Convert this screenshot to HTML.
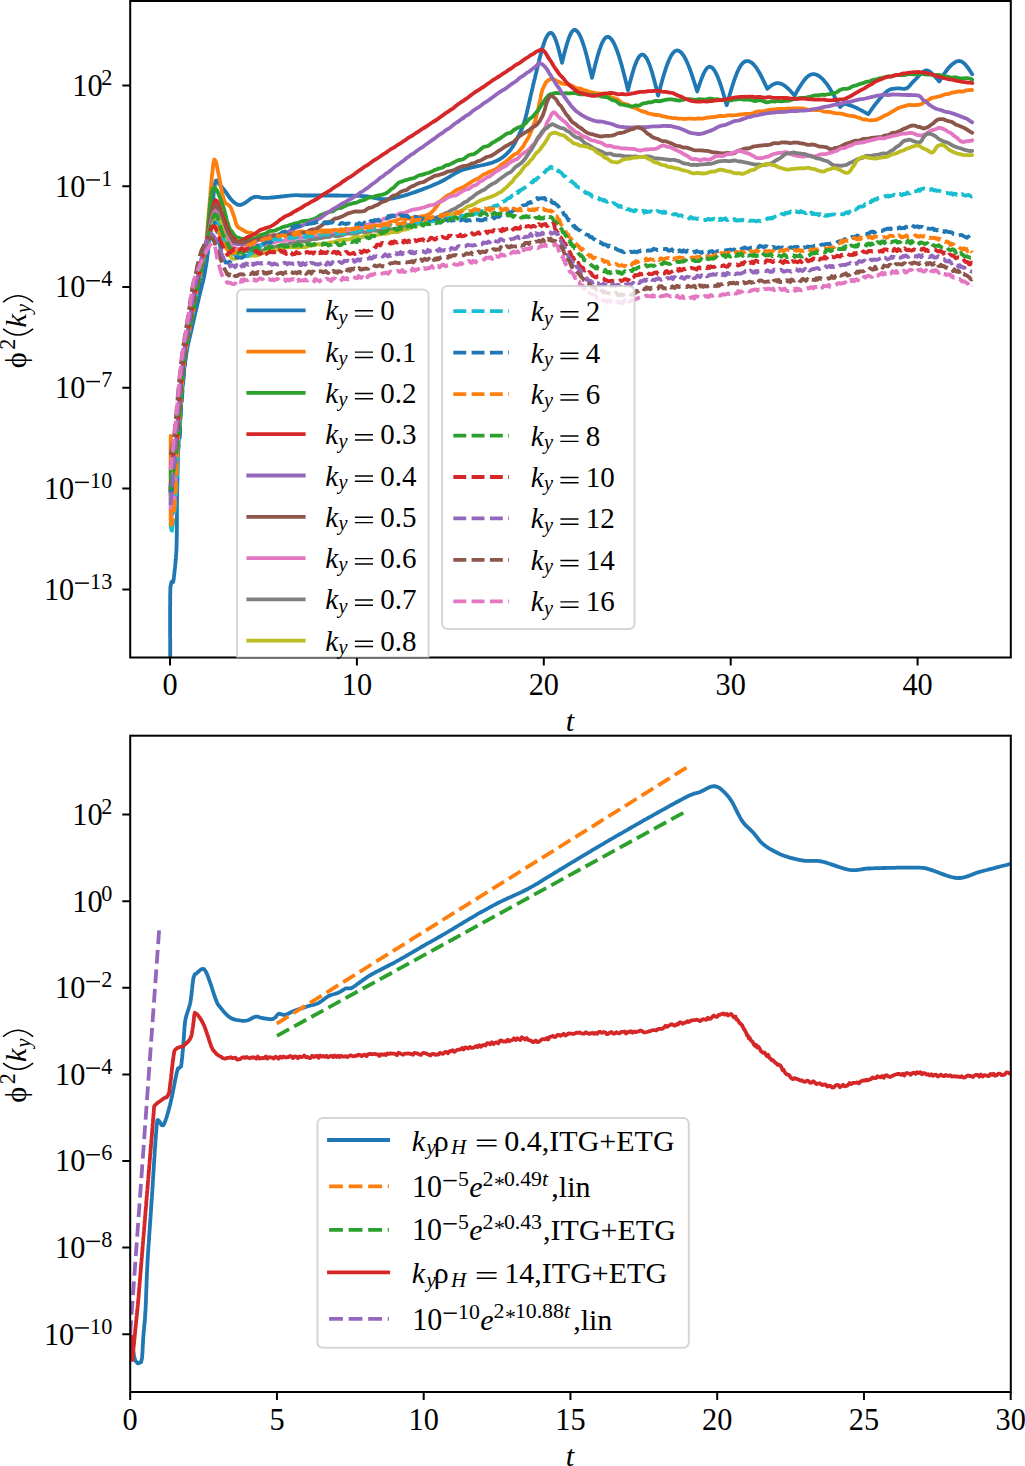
<!DOCTYPE html><html><head><meta charset="utf-8"><style>html,body{margin:0;padding:0;background:#fff;overflow:hidden;}svg{display:block;font-family:"Liberation Serif",serif;}</style></head><body><svg width="1025" height="1466" viewBox="0 0 1025 1466" font-family="Liberation Serif, serif" fill="#000">
<rect x="0" y="0" width="1025" height="1466" fill="#fff"/>
<defs>
<clipPath id="ct"><rect x="130.2" y="1.0" width="880.5999999999999" height="656.5"/></clipPath>
<clipPath id="cb"><rect x="130.2" y="735.7" width="880.5999999999999" height="656.3"/></clipPath>
</defs>
<g clip-path="url(#ct)">
<polyline points="170.2,660.0 170.2,658.9 170.2,657.7 170.2,656.3 170.2,654.7 170.2,653.1 170.2,651.3 170.2,649.4 170.2,647.4 170.2,645.3 170.2,643.1 170.2,640.9 170.2,638.6 170.1,636.2 170.1,633.8 170.1,631.3 170.1,628.8 170.1,626.3 170.1,623.8 170.1,621.3 170.1,618.8 170.1,616.3 170.1,613.8 170.1,611.4 170.1,609.0 170.1,606.7 170.2,604.4 170.2,602.2 170.2,600.1 170.2,598.0 170.2,596.1 170.2,594.2 170.3,592.5 170.3,590.9 170.3,589.5 170.4,588.2 170.4,587.0 171.6,581.6 173.2,582.0 173.4,580.7 173.7,579.1 173.9,577.4 174.1,575.4 174.4,573.3 174.6,571.2 174.8,568.9 175.1,566.7 175.3,564.4 175.5,562.2 175.7,560.0 175.9,557.9 176.0,556.0 176.2,553.9 176.3,551.9 176.4,550.0 176.5,548.2 176.5,546.4 176.6,544.6 176.6,542.7 176.7,540.8 176.7,538.7 176.8,536.4 176.8,534.0 176.8,532.4 176.8,530.7 176.9,529.1 176.9,527.4 176.9,525.7 176.9,523.9 176.9,522.2 176.9,520.3 176.9,518.4 176.9,516.5 176.9,514.4 176.9,512.3 176.9,510.0 176.9,507.7 176.9,505.3 177.0,502.7 177.0,500.0 177.0,498.4 177.1,496.7 177.1,494.9 177.1,493.0 177.2,491.0 177.2,489.0 177.3,486.9 177.3,484.8 177.4,482.7 177.4,480.4 177.5,478.2 177.5,476.0 177.6,473.7 177.6,471.4 177.7,469.1 177.7,466.9 177.8,464.6 177.8,462.4 177.9,460.2 178.0,458.0 178.0,455.9 178.1,453.8 178.1,451.8 178.2,449.9 178.2,448.0 178.3,446.2 178.3,444.5 178.4,442.9 178.4,441.4 178.5,440.0 178.6,436.5 178.8,433.8 178.9,431.7 179.0,430.1 179.2,428.8 179.3,427.5 179.4,426.2 179.6,424.6 179.8,422.6 180.0,420.0 180.1,418.4 180.2,416.8 180.4,415.0 180.5,413.1 180.6,411.2 180.8,409.2 180.9,407.1 181.0,405.0 181.2,402.8 181.3,400.6 181.5,398.4 181.7,396.2 181.8,394.1 182.0,391.9 182.1,389.8 182.3,387.7 182.5,385.6 182.7,383.7 182.8,381.8 183.0,380.0 183.2,377.7 183.5,375.4 183.7,373.2 184.0,371.0 184.2,368.9 184.5,366.8 184.8,364.8 185.0,362.8 185.3,360.8 185.6,358.9 185.9,357.0 186.2,355.2 186.4,353.4 186.7,351.7 187.0,350.0 187.4,347.6 187.9,345.4 188.3,343.3 188.8,341.3 189.2,339.4 189.7,337.5 190.1,335.7 190.6,333.8 191.0,332.0 191.5,330.0 191.9,328.0 192.4,326.0 192.8,324.0 193.3,322.0 193.7,320.0 194.2,318.0 194.6,316.0 195.1,314.0 195.5,312.0 196.0,310.0 196.5,308.0 197.0,305.9 197.5,303.8 198.0,301.8 198.5,299.7 199.0,297.6 199.4,295.6 199.9,293.7 200.4,291.8 200.8,290.0 201.4,287.7 201.9,285.6 202.4,283.7 202.9,281.9 203.4,279.9 203.9,277.6 204.4,275.0 204.7,273.3 205.0,271.6 205.3,269.9 205.6,268.1 205.9,266.3 206.3,264.4 206.6,262.3 206.9,260.2 207.2,257.9 207.5,255.4 207.9,252.8 208.2,250.0 208.4,248.3 208.6,246.6 208.8,244.7 209.0,242.8 209.2,240.7 209.4,238.6 209.6,236.4 209.8,234.2 210.0,232.0 210.2,229.7 210.4,227.5 210.6,225.2 210.8,222.9 211.0,220.7 211.2,218.5 211.4,216.3 211.6,214.2 211.8,212.2 212.0,210.2 212.1,208.4 212.3,206.6 212.5,205.0 212.8,202.2 213.1,199.4 213.4,196.8 213.6,194.3 213.9,192.0 214.2,189.8 214.4,187.8 214.7,186.0 214.9,184.3 215.2,182.9 215.4,181.7 215.7,180.7 217.2,180.5 219.0,184.0 220.1,185.2 221.4,186.6 222.8,188.2 224.3,190.0 225.6,191.8 227.0,193.8 228.4,196.0 229.9,198.0 231.3,199.7 233.1,201.5 234.9,203.0 236.7,204.2 238.4,204.9 240.4,205.0 242.2,204.4 244.5,203.2 246.2,202.1 248.0,200.7 250.0,199.2 252.0,197.9 254.2,197.0 255.9,196.8 257.6,196.9 259.3,197.2 261.3,197.6 263.6,197.9 266.5,197.9 268.1,197.8 269.9,197.7 272.0,197.5 274.1,197.3 276.4,197.0 278.7,196.8 281.0,196.5 283.3,196.3 285.5,196.0 287.6,195.8 289.5,195.6 291.3,195.4 292.8,195.3 295.9,195.2 297.3,195.2 298.9,195.4 302.4,195.5 303.9,195.5 305.5,195.5 307.3,195.5 309.2,195.5 311.2,195.5 313.4,195.5 315.6,195.5 317.8,195.5 320.1,195.5 322.5,195.5 324.8,195.5 327.1,195.5 329.4,195.5 331.6,195.5 333.7,195.5 335.8,195.5 338.0,195.5 340.1,195.6 342.3,195.6 344.6,195.6 346.8,195.6 349.0,195.6 351.1,195.7 353.3,195.7 355.4,195.8 357.5,195.8 359.4,195.9 361.3,196.0 363.2,196.1 364.9,196.2 367.5,196.5 369.9,196.8 372.1,197.3 374.1,197.8 376.0,198.2 377.9,198.6 379.8,199.0 381.8,199.2 384.0,199.2 385.8,199.1 387.7,199.0 389.5,198.8 391.3,198.6 393.1,198.3 395.0,197.9 396.9,197.5 399.0,197.0 401.1,196.4 403.4,195.8 405.8,195.1 407.5,194.6 409.2,194.0 411.0,193.4 413.0,192.8 414.9,192.1 416.9,191.4 419.0,190.6 421.0,189.9 423.1,189.1 425.2,188.3 427.2,187.5 429.3,186.7 431.3,185.9 433.2,185.1 435.1,184.3 436.9,183.5 438.6,182.8 440.7,181.8 442.7,180.8 444.6,179.8 446.3,178.7 448.1,177.7 449.8,176.6 451.4,175.6 453.1,174.6 454.8,173.6 456.6,172.6 458.4,171.7 460.3,170.8 462.4,170.0 464.2,169.4 466.1,168.8 468.0,168.3 470.1,167.8 472.2,167.3 474.3,166.8 476.4,166.4 478.6,165.9 480.7,165.5 482.8,165.1 484.8,164.6 486.8,164.2 488.7,163.7 490.5,163.2 492.2,162.7 493.7,162.1 496.2,161.0 498.3,160.0 500.3,158.9 502.1,157.7 503.7,156.5 505.1,155.3 506.6,154.0 507.9,152.6 509.3,151.2 510.6,149.7 511.8,148.0 513.0,146.3 514.0,144.6 515.0,142.8 516.0,141.0 516.9,139.2 517.7,137.4 518.6,135.6 519.5,133.7 520.4,132.0 521.1,130.4 521.9,128.7 522.6,126.9 523.3,124.9 524.1,122.6 524.9,120.0 525.4,118.4 525.8,116.7 526.3,114.8 526.8,112.9 527.2,110.9 527.7,108.8 528.2,106.7 528.7,104.5 529.2,102.3 529.7,100.2 530.2,98.0 530.6,95.9 531.1,93.9 531.6,91.9 532.0,90.0 532.6,87.7 533.1,85.3 533.7,82.8 534.3,80.4 534.9,78.0 535.4,75.6 536.0,73.4 536.5,71.3 536.9,69.4 537.4,67.7 537.7,66.2 538.0,65.0 539.5,59.0 541.0,53.3 542.5,47.9 544.0,43.2 545.5,39.2 547.0,36.1 548.5,34.0 550.0,32.9 551.5,33.0 553.0,34.4 554.5,37.0 556.0,40.7 557.5,45.3 559.0,50.7 560.5,56.6 562.0,62.8 562.0,62.8 563.5,56.7 565.0,50.8 566.5,45.4 568.0,40.5 569.5,36.4 571.0,33.1 572.5,31.0 574.0,29.9 575.5,30.0 577.0,31.1 578.5,33.0 580.0,35.7 581.5,39.1 583.0,43.3 584.5,48.0 586.0,53.3 587.5,59.1 589.0,65.2 590.5,71.5 592.0,77.9 592.0,77.9 593.5,71.7 595.0,65.7 596.5,60.0 598.0,54.6 599.5,49.8 601.0,45.6 602.5,42.1 604.0,39.5 605.5,37.7 607.0,36.8 608.5,36.9 610.0,37.8 611.5,39.4 613.0,41.6 614.5,44.4 616.0,47.9 617.5,51.9 619.0,56.4 620.5,61.3 622.0,66.6 623.5,72.2 625.0,78.1 626.5,84.1 628.0,90.2 628.0,90.2 629.5,84.3 631.0,78.6 632.5,73.2 634.0,68.2 635.5,63.9 637.0,60.3 638.5,57.5 640.0,55.6 641.5,54.7 643.0,54.7 644.6,55.7 646.1,57.5 647.6,60.2 649.1,63.7 650.6,67.8 652.1,72.6 653.6,77.9 655.1,83.6 656.6,89.5 658.1,95.6 658.1,95.6 659.6,90.0 661.1,84.4 662.6,79.1 664.1,74.0 665.6,69.2 667.1,64.9 668.6,61.0 670.1,57.7 671.6,54.9 673.1,52.8 674.6,51.4 676.1,50.6 677.7,50.5 679.2,51.0 680.7,52.1 682.2,53.7 683.7,55.8 685.2,58.4 686.7,61.5 688.2,64.9 689.7,68.8 691.2,72.9 692.7,77.4 694.2,82.0 695.7,86.7 697.2,91.5 697.2,91.5 698.8,86.7 700.3,82.1 701.9,77.9 703.4,74.2 705.0,71.0 706.5,68.7 708.1,67.2 709.6,66.6 711.2,67.0 712.7,68.3 714.3,70.2 715.8,72.8 717.4,76.1 718.9,80.0 720.5,84.4 722.0,89.2 723.6,94.4 725.1,99.7 726.7,105.2 726.7,105.2 728.2,99.9 729.7,94.7 731.2,89.7 732.7,84.8 734.2,80.3 735.7,76.2 737.2,72.4 738.7,69.2 740.2,66.4 741.7,64.2 743.2,62.6 744.7,61.6 746.2,61.1 747.8,61.1 749.3,61.4 750.8,62.1 752.3,63.2 753.8,64.7 755.3,66.4 756.8,68.5 758.3,70.9 759.8,73.5 761.3,76.3 762.8,79.3 764.3,82.4 765.8,85.6 767.3,88.8 767.3,88.8 768.8,87.5 770.3,86.3 771.8,85.2 773.4,84.3 774.9,83.6 776.4,83.2 777.9,83.1 779.4,83.3 781.0,83.7 782.5,84.4 784.0,85.3 785.5,86.4 787.0,87.6 788.5,89.0 790.0,90.5 791.6,92.2 793.1,93.9 794.6,95.6 794.6,95.6 796.1,92.9 797.6,90.3 799.1,87.7 800.7,85.3 802.2,83.0 803.7,80.9 805.2,79.0 806.7,77.4 808.2,76.1 809.8,75.1 811.3,74.5 812.8,74.1 814.3,74.1 815.8,74.5 817.4,75.1 818.9,76.0 820.4,77.1 821.9,78.4 823.4,79.9 824.9,81.7 826.5,83.6 828.0,85.7 829.5,88.0 831.0,90.5 832.5,93.0 834.0,95.7 835.6,98.5 837.1,101.3 838.6,104.2 840.1,107.1 840.1,107.1 841.7,105.6 843.2,104.4 844.8,103.9 846.3,104.2 847.9,104.6 849.5,105.1 851.0,105.7 852.6,106.3 854.2,106.9 855.7,107.6 857.3,108.3 858.8,109.1 860.4,109.9 862.0,110.7 863.5,111.6 865.1,112.4 866.6,113.3 868.2,114.2 869.0,113.1 870.0,111.7 871.2,110.0 872.5,108.1 873.9,106.1 875.4,104.2 876.8,102.4 878.1,100.9 879.4,99.2 880.8,97.6 882.3,96.0 883.7,94.4 885.1,93.0 886.5,91.7 887.8,90.7 890.2,89.4 892.5,88.8 894.8,88.6 897.1,88.4 899.5,88.4 901.9,88.7 904.3,88.9 906.5,88.4 908.1,87.4 909.5,86.0 910.9,84.3 912.5,82.4 914.3,80.6 915.6,79.3 917.1,77.7 918.6,76.0 920.3,74.3 921.9,72.8 923.6,71.5 925.2,70.7 926.8,70.4 928.4,70.8 930.2,71.9 932.0,73.5 933.8,75.3 935.5,77.1 937.1,78.9 938.3,80.4 939.3,81.4 940.9,78.9 942.4,76.5 944.0,74.1 945.6,71.9 947.1,69.8 948.7,67.8 950.3,66.1 951.8,64.6 953.4,63.3 955.0,62.3 956.5,61.5 958.1,61.1 959.7,61.0 961.2,61.4 962.8,62.3 964.4,63.6 965.9,65.3 967.5,67.2 969.1,69.5 970.6,71.8 972.2,74.3" fill="none" stroke="#1f77b4" stroke-width="3.8" stroke-linejoin="round" stroke-linecap="round"/>
<polyline points="170.6,468.0 170.6,466.0 170.6,464.0 170.6,462.0 170.6,460.0 170.6,458.0 170.6,456.0 170.6,454.0 170.6,452.0 170.6,450.0 170.6,448.0 170.7,446.0 170.7,444.0 170.7,442.0 170.7,440.0 170.7,438.0 170.7,436.0 170.9,438.0 170.9,440.0 170.9,442.0 170.9,444.0 170.9,446.0 170.8,448.0 170.8,450.0 170.8,452.0 170.8,454.0 170.7,456.0 170.7,458.0 170.7,460.0 170.7,462.0 170.7,464.0 170.8,466.0 170.8,468.0 170.8,470.0 171.0,472.0 171.4,473.9 172.3,472.1 172.8,470.2 173.2,468.3 173.6,466.3 174.1,464.4 174.5,462.4 174.8,460.4 175.2,458.5 175.6,456.5 175.9,454.5 176.3,452.6 176.6,450.6 177.0,448.6 177.3,446.6 177.6,444.7 177.9,442.7 178.2,440.7 178.5,438.7 178.8,436.8 179.0,434.8 179.1,432.8 179.2,430.8 179.2,428.8 179.2,426.8 179.3,424.8 179.3,422.8 179.5,420.8 179.6,418.8 179.8,416.8 179.9,414.8 180.1,412.8 180.2,410.8 180.4,408.8 180.5,406.8 180.7,404.8 180.8,402.8 181.0,400.8 181.2,398.8 181.3,396.8 181.5,394.8 181.6,392.9 181.8,390.9 182.0,388.9 182.1,386.9 182.3,384.9 182.5,382.9 182.7,380.9 182.8,378.9 183.0,376.9 183.2,374.9 183.4,372.9 183.5,370.9 183.7,368.9 183.9,367.0 184.1,365.0 184.3,363.0 184.5,361.0 184.7,359.0 184.9,357.0 185.2,355.0 185.5,353.0 185.8,351.1 186.1,349.1 186.4,347.1 186.7,345.1 187.1,343.2 187.4,341.2 187.8,339.2 188.2,337.3 188.6,335.3 188.9,333.4 189.3,331.4 189.7,329.4 190.1,327.5 190.5,325.5 190.9,323.5 191.3,321.6 191.7,319.6 192.1,317.7 192.5,315.7 192.9,313.7 193.2,311.8 193.6,309.8 194.0,307.8 194.3,305.9 194.7,303.9 195.0,301.9 195.3,300.0 195.7,298.0 196.0,296.0 196.4,294.0 196.7,292.1 197.1,290.1 197.5,288.2 198.0,286.2 198.4,284.3 198.9,282.3 199.4,280.4 199.9,278.4 200.3,276.5 200.7,274.5 201.2,272.6 201.8,270.7 202.3,268.8 202.8,266.8 203.3,264.9 203.6,262.9 204.0,260.9 204.3,259.0 204.6,257.0 204.9,255.0 205.2,253.0 205.4,251.0 205.6,249.0 205.8,247.1 206.0,245.1 206.2,243.1 206.4,241.1 206.6,239.1 206.8,237.1 207.0,235.1 207.1,233.1 207.3,231.1 207.5,229.1 207.6,227.1 207.8,225.1 208.0,223.2 208.1,221.2 208.3,219.2 208.5,217.2 208.6,215.2 208.8,213.2 208.9,211.2 209.1,209.2 209.3,207.2 209.4,205.2 209.6,203.2 209.8,201.2 209.9,199.2 210.1,197.2 210.3,195.2 210.4,193.3 210.6,191.3 210.8,189.3 210.9,187.3 211.1,185.3 211.3,183.3 211.5,181.3 211.7,179.3 211.8,177.3 212.0,175.3 212.2,173.3 212.4,171.3 212.7,169.4 212.9,167.4 213.1,165.4 213.4,163.4 213.9,161.5 214.4,159.5 215.6,161.1 216.2,163.0 216.7,165.0 217.1,166.9 217.5,168.9 217.9,170.9 218.3,172.8 218.7,174.8 219.1,176.7 219.5,178.7 219.9,180.6 220.2,182.6 220.5,184.6 220.8,186.6 221.2,188.5 221.6,190.5 222.1,192.4 222.5,194.4 223.0,196.3 223.5,198.3 224.1,200.2 224.8,202.1 226.0,203.4 227.7,204.5 229.3,205.7 230.6,207.4 231.5,209.5 232.3,211.7 232.9,213.4 233.5,215.0 234.1,216.6 234.7,218.5 235.3,220.7 235.8,222.8 236.4,224.4 237.2,226.1 238.8,227.7 240.7,228.6 242.2,229.7 243.8,230.5 245.3,231.6 247.1,232.3 249.1,232.6 251.0,232.9 253.0,233.5 254.9,234.3 256.9,235.0 258.8,235.6 260.8,235.5 262.8,235.5 264.8,235.7 266.8,235.3 268.8,235.2 270.8,235.3 272.8,235.2 274.8,235.3 276.8,234.9 278.7,234.4 280.7,234.3 282.7,234.1 284.6,233.2 286.6,232.4 288.6,232.2 290.6,232.6 292.6,232.7 294.6,232.4 296.6,232.3 298.6,232.0 300.6,231.4 302.6,231.4 304.6,231.9 306.6,231.9 308.6,231.4 310.6,231.0 312.6,230.8 314.6,231.1 316.6,231.3 318.6,230.9 320.5,230.5 322.5,230.4 324.5,230.4 326.5,230.4 328.5,230.5 330.5,230.5 332.5,230.1 334.5,229.9 336.5,230.0 338.5,230.4 340.5,230.5 342.5,229.9 344.5,229.2 346.5,228.9 348.5,229.1 350.5,229.4 352.5,229.2 354.5,228.6 356.4,228.3 358.4,228.0 360.4,227.7 362.4,227.5 364.4,227.6 366.4,227.7 368.4,227.4 370.3,226.8 372.3,226.3 374.3,226.0 376.3,225.6 378.2,225.6 380.2,225.2 382.2,224.4 384.1,223.8 386.0,223.5 387.9,223.2 389.8,222.3 391.7,221.5 393.5,221.2 395.4,220.9 397.4,220.1 399.3,219.3 401.3,218.7 403.3,218.6 405.3,218.7 407.3,218.6 409.2,218.3 411.2,217.7 413.2,217.3 415.2,217.4 417.2,217.2 419.2,216.8 421.2,216.4 423.2,216.1 425.1,215.8 427.0,215.1 428.8,214.3 430.4,213.4 432.0,212.0 433.3,210.5 434.6,209.0 435.8,207.4 437.0,206.1 438.1,204.4 439.3,202.5 440.5,201.0 441.9,199.9 443.3,198.8 444.9,197.4 446.6,195.9 448.2,195.1 450.0,194.5 451.7,193.6 453.5,192.2 455.2,190.7 457.0,189.8 458.8,189.1 460.6,188.2 462.3,187.5 464.1,186.7 465.8,185.6 467.6,184.4 469.3,183.3 471.0,182.2 472.7,181.1 474.5,180.0 476.2,179.1 477.9,178.6 479.6,177.5 481.4,176.0 483.1,174.8 484.9,174.1 486.6,173.3 488.4,172.2 490.2,171.4 492.1,170.8 493.9,169.9 495.6,169.1 497.3,168.2 499.0,167.1 500.6,165.4 502.2,164.0 503.8,163.1 505.4,162.0 507.0,160.8 508.5,159.4 510.1,157.9 511.7,156.5 513.3,155.2 514.9,154.2 516.5,153.5 518.0,152.6 519.4,150.9 520.7,149.2 522.0,147.8 523.1,146.5 524.2,144.7 525.2,142.6 526.2,140.9 527.2,139.3 528.2,137.9 529.1,136.1 529.9,134.2 530.8,132.4 531.6,130.4 532.4,128.1 533.2,126.1 533.9,124.1 534.5,122.5 535.1,121.2 535.7,119.1 536.2,116.8 536.7,114.8 537.2,112.9 537.7,111.0 538.2,109.4 538.6,107.2 539.0,105.0 539.4,103.2 539.8,101.5 540.2,99.6 540.6,97.4 541.0,95.3 541.4,93.5 541.9,91.5 542.4,89.5 543.1,88.1 543.8,86.6 544.7,84.8 545.7,82.8 547.0,81.2 548.7,80.0 550.6,79.0 552.6,78.8 554.5,79.7 556.3,80.8 558.1,81.5 560.0,82.5 561.8,83.5 563.7,83.9 565.6,84.1 567.6,84.3 569.5,84.8 571.4,85.5 573.3,86.5 575.2,87.6 577.1,88.3 579.0,88.4 580.9,88.7 582.9,89.7 584.8,90.5 586.7,90.6 588.6,91.4 590.6,92.2 592.5,92.3 594.5,92.8 596.5,93.4 598.4,93.4 600.4,93.6 602.4,94.2 604.3,94.7 606.3,95.1 608.2,95.8 610.0,96.6 611.9,97.5 613.6,98.2 615.4,98.6 617.1,99.1 618.9,100.4 620.6,101.8 622.4,103.2 624.2,103.9 626.0,104.1 627.8,104.6 629.7,105.8 631.5,106.9 633.4,107.5 635.2,108.0 637.1,108.8 639.0,109.9 640.9,110.9 642.7,111.5 644.6,111.8 646.5,112.5 648.4,113.5 650.4,113.9 652.3,114.1 654.2,114.7 656.2,115.0 658.1,115.0 660.1,115.4 662.0,116.1 664.0,116.5 666.0,116.9 667.9,117.4 669.9,117.6 671.9,117.9 673.9,118.1 675.9,118.2 677.8,118.7 679.8,118.7 681.8,118.7 683.8,119.0 685.8,118.9 687.8,118.7 689.8,118.6 691.8,118.7 693.8,118.8 695.8,118.8 697.8,118.5 699.8,118.5 701.8,118.7 703.8,118.5 705.8,117.9 707.7,117.5 709.7,117.4 711.7,117.1 713.7,117.0 715.7,116.9 717.6,116.3 719.6,116.0 721.6,116.0 723.6,116.1 725.6,115.9 727.6,115.3 729.6,115.1 731.6,115.4 733.6,115.3 735.6,115.2 737.6,114.8 739.6,114.5 741.6,114.5 743.5,114.1 745.5,113.8 747.5,114.0 749.5,113.9 751.4,113.6 753.4,113.0 755.4,112.1 757.3,111.5 759.3,111.5 761.3,111.5 763.2,111.2 765.2,110.8 767.2,110.3 769.2,109.8 771.2,109.6 773.1,109.5 775.1,109.4 777.1,109.0 779.1,108.9 781.1,109.0 783.1,109.0 785.1,109.0 787.1,108.7 789.1,108.5 791.1,108.6 793.1,108.5 795.1,108.5 797.1,108.5 799.1,108.3 801.1,108.4 803.1,108.5 805.1,108.9 807.1,109.7 809.1,109.9 811.1,109.6 813.1,109.8 815.1,110.0 817.0,109.9 819.0,110.0 821.0,110.5 823.0,111.3 825.0,111.7 827.0,111.8 829.0,111.9 830.9,112.1 832.9,112.7 834.9,113.2 836.8,113.4 838.8,113.4 840.7,113.6 842.7,113.9 844.7,114.6 846.6,115.2 848.6,115.6 850.5,115.9 852.5,116.0 854.5,116.3 856.4,117.0 858.3,117.7 860.3,118.2 862.2,119.1 864.2,119.5 866.1,119.5 868.0,120.0 870.0,120.4 872.0,120.2 874.0,120.2 876.0,119.9 877.9,119.1 879.8,118.3 881.6,117.5 883.3,116.3 885.1,115.4 886.8,114.8 888.6,113.9 890.3,112.7 892.1,111.6 893.8,110.7 895.6,109.7 897.3,108.6 899.1,107.8 900.9,107.2 902.7,106.7 904.6,106.1 906.5,105.5 908.5,105.2 910.5,105.0 912.5,105.1 914.5,105.2 916.5,105.0 918.5,104.9 920.5,104.4 922.4,103.6 924.1,102.3 925.8,101.2 927.5,100.4 929.4,99.4 931.2,98.2 933.1,97.7 935.0,97.4 936.9,96.9 938.8,96.5 940.7,96.1 942.7,95.2 944.6,94.4 946.5,94.2 948.5,94.0 950.4,93.1 952.4,92.5 954.3,92.4 956.3,91.9 958.3,91.4 960.3,91.5 962.2,91.6 964.2,91.1 966.2,90.4 968.2,90.1 970.2,90.1 972.2,90.0" fill="none" stroke="#ff7f0e" stroke-width="3.8" stroke-linejoin="round" stroke-linecap="round"/>
<polyline points="170.6,479.0 170.6,477.0 170.6,475.0 170.6,473.0 170.6,471.0 170.7,469.0 170.7,467.0 170.8,469.0 170.8,471.0 170.8,473.0 170.8,475.0 170.7,477.0 170.7,479.0 170.7,481.0 170.8,483.0 170.9,485.0 171.8,483.2 172.2,481.2 172.6,479.3 172.9,477.3 173.3,475.3 173.6,473.3 173.9,471.4 174.3,469.4 174.6,467.4 174.9,465.5 175.2,463.5 175.5,461.5 175.8,459.5 176.2,457.6 176.5,455.6 176.8,453.6 177.0,451.6 177.3,449.6 177.6,447.7 177.9,445.7 178.2,443.7 178.5,441.7 178.7,439.7 179.0,437.8 179.2,435.8 179.3,433.8 179.5,431.8 179.5,429.8 179.5,427.8 179.5,425.8 179.6,423.8 179.7,421.8 179.8,419.8 180.0,417.8 180.1,415.8 180.3,413.8 180.4,411.8 180.6,409.8 180.7,407.8 180.9,405.8 181.0,403.8 181.2,401.8 181.3,399.8 181.5,397.8 181.7,395.9 181.8,393.9 182.0,391.9 182.1,389.9 182.3,387.9 182.5,385.9 182.7,383.9 182.8,381.9 183.0,379.9 183.2,377.9 183.4,375.9 183.5,373.9 183.7,371.9 183.9,369.9 184.0,368.0 184.2,366.0 184.4,364.0 184.6,362.0 184.8,360.0 185.1,358.0 185.3,356.0 185.6,354.0 185.9,352.1 186.1,350.1 186.5,348.1 186.8,346.1 187.2,344.2 187.5,342.2 187.9,340.2 188.2,338.3 188.6,336.3 189.0,334.3 189.4,332.4 189.8,330.4 190.2,328.5 190.6,326.5 191.0,324.5 191.4,322.6 191.8,320.6 192.2,318.7 192.6,316.7 193.0,314.7 193.4,312.8 193.7,310.8 194.1,308.8 194.5,306.9 194.8,304.9 195.2,302.9 195.5,301.0 195.9,299.0 196.2,297.0 196.5,295.1 196.9,293.1 197.3,291.1 197.7,289.2 198.1,287.2 198.6,285.3 199.1,283.3 199.5,281.4 200.0,279.4 200.4,277.5 200.9,275.5 201.3,273.6 201.8,271.6 202.2,269.7 202.7,267.7 203.1,265.8 203.5,263.8 203.9,261.9 204.3,259.9 204.6,257.9 204.9,256.0 205.2,254.0 205.5,252.0 205.8,250.0 206.0,248.0 206.3,246.0 206.5,244.1 206.7,242.1 206.9,240.1 207.0,238.1 207.2,236.1 207.4,234.1 207.6,232.1 207.7,230.1 207.9,228.1 208.1,226.1 208.3,224.1 208.4,222.1 208.6,220.2 208.8,218.2 208.9,216.2 209.1,214.2 209.3,212.2 209.5,210.2 209.7,208.2 209.9,206.2 210.1,204.2 210.3,202.2 210.6,200.3 210.8,198.3 211.1,196.3 211.4,194.3 211.7,192.3 212.2,190.4 213.0,188.6 214.6,187.3 215.8,188.9 217.0,190.5 217.8,192.3 218.6,194.2 219.3,196.0 220.0,197.9 220.7,199.8 221.4,201.7 222.1,203.5 222.8,205.4 223.5,207.3 224.1,209.2 224.7,211.1 225.1,213.4 225.6,215.0 226.1,217.0 226.5,219.3 227.0,221.3 227.6,222.7 228.3,224.4 229.0,226.9 229.8,229.0 230.7,230.3 231.7,231.4 232.8,232.9 234.2,234.9 235.7,236.6 237.4,237.4 239.2,238.0 241.1,238.7 243.0,238.8 245.0,239.0 247.0,239.6 249.0,240.2 251.0,239.7 252.9,238.8 254.8,238.3 256.6,237.7 258.5,236.6 260.3,235.3 262.1,234.5 264.0,234.2 265.8,233.4 267.7,232.2 269.6,231.1 271.5,230.8 273.4,230.9 275.3,230.5 277.1,229.5 279.0,228.8 280.9,228.0 282.8,227.0 284.7,226.5 286.6,226.2 288.5,225.6 290.4,224.8 292.3,224.2 294.2,223.5 296.2,223.3 298.1,222.9 300.1,222.0 302.0,221.3 304.0,220.9 305.9,220.7 307.9,220.6 309.8,220.3 311.7,219.6 313.5,219.1 315.4,218.4 317.3,217.4 319.1,216.0 320.9,215.0 322.8,214.4 324.6,213.6 326.5,212.9 328.3,212.2 330.2,211.7 332.1,211.5 333.9,210.7 335.8,209.3 337.7,208.3 339.6,208.2 341.5,207.8 343.3,206.8 345.2,205.9 347.1,205.1 349.0,204.3 350.9,203.9 352.8,203.3 354.7,202.9 356.6,202.6 358.5,201.8 360.4,200.8 362.2,200.3 364.1,199.9 366.0,199.1 367.9,197.9 369.8,197.4 371.8,197.3 373.7,196.8 375.6,196.1 377.5,195.6 379.4,195.2 381.3,194.8 383.2,194.3 385.1,193.7 386.9,192.8 388.7,191.4 390.4,189.8 391.9,188.7 393.3,187.9 394.7,186.6 396.3,184.8 398.0,183.2 399.7,182.1 401.5,181.7 403.3,180.9 405.2,180.2 407.1,179.8 409.0,179.2 410.8,178.7 412.7,178.3 414.6,177.8 416.6,176.8 418.5,175.5 420.4,175.0 422.3,174.8 424.2,174.1 426.0,173.4 427.9,173.0 429.8,172.4 431.7,171.6 433.6,170.6 435.4,169.8 437.3,169.1 439.2,168.4 441.1,168.0 442.9,167.4 444.8,165.9 446.7,165.2 448.5,165.0 450.4,164.1 452.2,163.2 454.1,162.3 455.9,161.3 457.8,160.4 459.6,159.9 461.4,159.8 463.2,159.2 465.0,158.0 466.8,156.5 468.6,155.3 470.4,154.7 472.1,154.5 473.9,154.1 475.6,153.1 477.4,151.9 479.1,150.5 480.9,149.1 482.6,147.6 484.4,146.6 486.1,146.4 487.8,146.1 489.6,145.0 491.3,143.5 493.0,142.5 494.8,141.6 496.5,140.4 498.2,139.5 500.0,138.5 501.7,137.2 503.5,136.0 505.2,134.7 506.9,133.6 508.6,133.2 510.4,132.9 512.1,131.6 513.8,130.0 515.5,129.0 517.2,128.0 518.9,127.2 520.6,126.8 522.3,125.8 523.9,124.7 525.5,123.4 527.1,121.6 528.7,119.6 530.2,118.4 531.6,117.5 533.0,116.4 534.3,114.8 535.6,113.0 536.9,111.7 538.2,110.3 539.4,108.3 540.6,106.2 541.6,104.6 542.6,103.3 543.7,101.9 544.7,100.3 545.8,98.6 547.1,96.9 548.6,95.2 550.3,94.2 552.1,93.9 554.0,93.3 556.0,92.9 558.0,93.2 560.0,93.3 562.0,93.3 564.0,93.3 566.0,93.2 568.0,93.4 570.0,93.3 572.0,93.1 574.0,92.9 576.0,93.1 578.0,94.0 579.9,94.4 581.9,94.3 583.9,94.3 585.9,94.1 587.9,94.5 589.9,95.3 591.9,95.1 593.9,94.9 595.9,95.1 597.8,95.3 599.8,96.0 601.8,96.6 603.8,96.9 605.7,97.1 607.7,97.4 609.5,98.5 611.4,99.7 613.2,100.3 614.9,100.6 616.7,101.5 618.4,103.1 620.2,104.4 622.0,104.7 623.9,104.9 625.8,105.3 627.8,105.6 629.8,106.1 631.8,106.5 633.8,106.0 635.8,105.4 637.8,105.6 639.7,105.3 641.7,104.1 643.6,103.3 645.6,103.2 647.5,102.6 649.5,102.2 651.4,102.3 653.4,101.6 655.4,100.8 657.4,101.0 659.3,101.3 661.3,100.8 663.3,100.3 665.3,99.9 667.3,99.5 669.3,99.3 671.3,99.4 673.3,99.7 675.3,100.0 677.3,100.3 679.3,100.5 681.3,100.2 683.3,99.6 685.3,99.4 687.3,99.2 689.3,99.2 691.3,99.4 693.3,99.6 695.3,99.9 697.3,99.5 699.3,99.2 701.3,99.3 703.3,99.5 705.3,99.6 707.3,99.1 709.3,98.7 711.3,98.7 713.3,99.2 715.3,99.5 717.3,99.2 719.3,99.6 721.3,99.9 723.3,99.6 725.3,99.8 727.3,100.2 729.3,100.4 731.3,100.3 733.3,99.9 735.3,99.5 737.3,99.3 739.3,99.0 741.3,99.1 743.3,99.6 745.3,99.6 747.3,99.5 749.3,99.7 751.3,100.0 753.3,100.6 755.3,101.1 757.3,100.6 759.3,100.2 761.3,100.4 763.2,101.1 765.2,102.0 767.2,102.3 769.2,101.9 771.2,101.4 773.2,101.3 775.2,101.5 777.2,101.0 779.2,101.0 781.2,101.4 783.2,101.1 785.2,100.8 787.2,100.9 789.2,100.7 791.1,100.0 793.1,99.5 795.1,99.1 797.1,98.6 799.0,98.1 801.0,97.9 803.0,98.0 804.9,97.8 806.9,97.3 808.9,97.0 810.9,96.6 812.9,95.9 814.8,95.3 816.8,95.3 818.8,95.4 820.8,94.8 822.8,94.7 824.8,95.0 826.7,94.5 828.7,94.1 830.6,93.9 832.6,93.4 834.5,93.2 836.4,92.5 838.3,91.1 840.2,89.9 842.0,89.2 843.9,88.9 845.8,88.9 847.7,88.7 849.6,88.0 851.5,86.9 853.4,86.0 855.3,85.6 857.2,85.1 859.1,84.3 861.0,83.6 862.9,83.2 864.8,82.4 866.7,81.7 868.6,81.6 870.5,81.0 872.5,80.1 874.4,79.6 876.3,79.3 878.3,78.7 880.2,78.2 882.2,77.8 884.2,77.3 886.1,76.7 888.1,76.6 890.1,76.7 892.1,76.3 894.0,75.4 896.0,75.0 898.0,75.1 900.0,75.2 902.0,75.1 904.0,75.0 906.0,74.8 908.0,74.1 910.0,73.9 912.0,74.3 914.0,74.3 916.0,74.3 918.0,74.4 920.0,73.8 922.0,73.7 924.0,74.2 926.0,74.5 928.0,74.5 929.9,74.3 931.9,74.7 933.9,75.2 935.9,75.2 937.9,75.0 939.9,75.1 941.9,75.6 943.8,76.2 945.8,76.6 947.8,76.6 949.8,77.2 951.8,77.8 953.8,77.4 955.8,77.2 957.8,77.9 959.8,78.4 961.8,78.3 963.8,78.3 965.8,78.1 967.7,78.1 969.7,78.5 971.7,79.2 972.2,79.8" fill="none" stroke="#2ca02c" stroke-width="3.8" stroke-linejoin="round" stroke-linecap="round"/>
<polyline points="170.6,490.0 170.6,488.0 170.6,486.0 170.7,484.0 170.7,482.0 170.9,484.0 170.9,486.0 170.9,488.0 170.8,490.0 170.8,492.0 170.8,494.0 170.8,496.0 171.6,494.2 171.9,492.2 172.2,490.2 172.5,488.2 172.7,486.3 173.0,484.3 173.2,482.3 173.4,480.3 173.7,478.3 173.9,476.3 174.1,474.3 174.4,472.4 174.6,470.4 174.8,468.4 175.1,466.4 175.3,464.4 175.5,462.4 175.8,460.4 176.0,458.4 176.2,456.5 176.4,454.5 176.6,452.5 176.9,450.5 177.1,448.5 177.3,446.5 177.5,444.5 177.7,442.5 177.9,440.6 178.1,438.6 178.3,436.6 178.5,434.6 178.7,432.6 178.8,430.6 178.8,428.6 178.9,426.6 179.0,424.6 179.1,422.6 179.2,420.6 179.4,418.6 179.5,416.6 179.7,414.6 179.8,412.6 180.0,410.6 180.1,408.6 180.3,406.6 180.4,404.6 180.6,402.7 180.8,400.7 180.9,398.7 181.1,396.7 181.2,394.7 181.4,392.7 181.6,390.7 181.7,388.7 181.9,386.7 182.1,384.7 182.3,382.7 182.4,380.7 182.6,378.7 182.8,376.7 183.0,374.8 183.1,372.8 183.3,370.8 183.5,368.8 183.7,366.8 183.9,364.8 184.1,362.8 184.3,360.8 184.5,358.8 184.7,356.8 185.0,354.9 185.3,352.9 185.6,350.9 185.9,348.9 186.2,346.9 186.5,345.0 186.9,343.0 187.2,341.0 187.6,339.1 188.0,337.1 188.3,335.1 188.7,333.2 189.1,331.2 189.5,329.3 189.9,327.3 190.3,325.3 190.6,323.4 191.0,321.4 191.4,319.4 191.8,317.5 192.2,315.5 192.6,313.6 193.0,311.6 193.3,309.6 193.7,307.7 194.0,305.7 194.4,303.7 194.7,301.7 195.0,299.8 195.4,297.8 195.7,295.8 196.0,293.9 196.4,291.9 196.8,289.9 197.2,288.0 197.6,286.0 198.1,284.1 198.6,282.1 199.1,280.2 199.5,278.2 200.0,276.3 200.4,274.3 200.8,272.4 201.2,270.4 201.6,268.5 202.0,266.5 202.4,264.5 202.8,262.6 203.2,260.6 203.6,258.7 203.9,256.7 204.3,254.7 204.7,252.8 205.1,250.8 205.5,248.8 205.8,246.9 206.2,244.9 206.5,242.9 206.8,241.0 207.2,239.0 207.5,237.0 207.8,235.0 208.1,233.1 208.5,231.1 208.8,229.1 209.1,227.1 209.4,225.2 209.8,223.2 210.1,221.2 210.5,219.3 210.8,217.3 211.2,215.3 211.5,213.4 211.9,211.4 212.3,209.4 212.8,207.5 213.3,205.5 213.8,203.6 214.5,201.7 215.6,200.1 217.1,201.4 218.1,203.2 218.8,205.1 219.5,206.9 220.1,208.8 220.7,210.8 221.3,212.7 222.0,214.5 222.7,216.4 223.4,218.3 224.2,220.1 224.9,222.0 225.5,223.5 226.2,225.4 226.9,227.5 227.6,229.6 228.4,231.4 229.3,233.3 230.4,235.0 231.5,236.5 232.9,238.0 234.4,239.2 235.9,240.7 237.7,241.7 239.6,241.8 241.6,241.0 243.3,239.9 244.9,238.8 246.5,237.6 248.3,236.7 250.1,236.1 251.9,235.3 253.6,234.4 255.4,233.3 257.0,232.2 258.7,230.9 260.4,229.9 262.3,229.2 264.2,228.6 266.1,227.9 268.0,227.4 269.9,226.8 271.7,225.8 273.4,224.8 275.1,223.7 276.6,222.6 278.2,221.4 279.7,220.0 281.3,219.1 283.0,217.9 284.8,216.6 286.6,215.7 288.4,215.1 290.2,214.3 292.0,213.1 293.7,211.9 295.5,211.0 297.2,210.0 298.9,209.1 300.6,208.2 302.4,207.1 304.1,205.9 305.8,204.9 307.5,204.1 309.2,203.1 310.9,202.0 312.6,201.1 314.4,200.2 316.1,199.3 317.8,198.3 319.5,197.1 321.2,195.8 322.9,194.6 324.6,193.6 326.3,192.7 328.0,191.5 329.7,190.6 331.3,189.6 333.0,188.3 334.7,187.1 336.3,186.2 338.0,185.2 339.6,184.2 341.3,182.8 342.9,181.5 344.6,180.5 346.2,179.4 347.9,178.2 349.5,177.3 351.2,176.3 352.8,175.2 354.5,174.0 356.1,172.8 357.8,171.5 359.4,170.4 361.1,169.3 362.8,168.0 364.4,166.8 366.1,165.9 367.7,165.0 369.4,163.8 371.1,162.4 372.7,161.2 374.4,160.1 376.1,159.1 377.7,158.2 379.4,157.0 381.1,155.7 382.7,154.6 384.4,153.6 386.1,152.6 387.8,151.4 389.4,150.1 391.1,149.0 392.8,148.1 394.5,147.2 396.1,146.0 397.8,144.9 399.5,143.8 401.2,142.8 402.8,141.7 404.5,140.7 406.2,139.4 407.9,138.1 409.5,137.1 411.2,136.3 412.9,135.2 414.6,134.0 416.2,132.9 417.9,131.9 419.6,130.7 421.3,129.5 422.9,128.5 424.6,127.5 426.3,126.5 427.9,125.4 429.6,124.2 431.3,123.0 432.9,122.0 434.6,121.0 436.3,120.0 437.9,118.9 439.6,117.6 441.2,116.4 442.9,115.3 444.5,114.0 446.1,112.9 447.8,111.9 449.4,110.7 451.1,109.6 452.7,108.6 454.3,107.4 455.9,105.9 457.6,104.6 459.2,103.5 460.8,102.4 462.4,101.4 464.1,100.3 465.7,99.1 467.3,98.1 469.0,96.8 470.6,95.4 472.2,94.2 473.9,93.0 475.5,91.9 477.2,90.8 478.8,89.9 480.5,88.7 482.1,87.6 483.8,86.7 485.4,85.5 487.1,84.2 488.8,83.1 490.4,82.0 492.1,80.7 493.8,79.6 495.4,78.7 497.1,77.5 498.8,76.5 500.4,75.6 502.1,74.3 503.8,73.2 505.4,72.3 507.1,71.1 508.8,69.8 510.5,68.9 512.1,67.8 513.8,66.4 515.5,65.2 517.2,64.2 518.8,63.4 520.5,62.4 522.2,61.0 523.9,59.7 525.5,58.6 527.2,57.6 528.9,56.5 530.5,55.3 532.2,54.4 533.9,53.5 535.6,52.2 537.3,51.2 539.1,50.4 541.0,49.5 542.7,50.3 544.4,51.3 545.7,53.1 546.8,55.1 547.9,56.9 549.0,58.6 550.0,60.2 551.1,61.6 552.1,63.3 553.2,65.2 554.3,67.0 555.4,68.6 556.5,70.1 557.6,71.7 558.8,73.5 560.1,75.0 561.4,76.3 562.7,77.6 564.0,79.2 565.3,80.9 566.7,82.6 568.1,83.9 569.5,85.1 571.0,86.6 572.5,87.9 574.1,89.1 575.7,90.4 577.4,91.5 579.2,92.2 581.0,92.9 582.9,93.5 584.8,94.2 586.7,94.7 588.7,95.0 590.7,95.5 592.7,95.8 594.7,95.8 596.7,95.5 598.6,95.0 600.6,94.4 602.5,93.9 604.5,93.4 606.5,93.3 608.5,93.2 610.5,92.9 612.5,93.0 614.4,93.4 616.4,93.9 618.4,94.3 620.4,94.1 622.4,94.0 624.4,94.3 626.4,94.3 628.4,94.1 630.4,93.9 632.3,93.4 634.3,93.1 636.3,92.7 638.3,92.1 640.2,91.8 642.2,91.9 644.2,91.9 646.2,91.5 648.2,91.2 650.2,91.1 652.2,91.0 654.2,90.8 656.2,90.8 658.2,91.0 660.2,91.2 662.2,91.6 664.1,91.8 666.1,91.9 668.1,92.3 670.0,92.7 672.0,92.9 673.9,93.5 675.8,94.6 677.6,95.4 679.4,96.0 681.3,96.8 683.1,97.7 684.9,98.5 686.8,99.2 688.6,99.9 690.6,100.6 692.5,101.1 694.5,101.3 696.5,101.5 698.5,101.7 700.5,101.7 702.5,101.4 704.5,101.4 706.5,101.6 708.5,101.4 710.5,101.2 712.5,101.0 714.5,100.6 716.5,100.3 718.5,100.2 720.4,100.2 722.4,100.1 724.4,99.6 726.4,99.2 728.3,98.8 730.3,98.5 732.2,98.1 734.2,97.7 736.2,97.4 738.2,97.1 740.2,96.9 742.2,96.8 744.2,96.7 746.2,96.8 748.2,96.7 750.2,96.6 752.2,96.7 754.2,97.0 756.2,97.1 758.2,97.0 760.1,97.0 762.1,97.3 764.1,97.6 766.1,97.6 768.1,97.2 770.1,97.2 772.1,97.6 774.1,97.9 776.1,97.9 778.1,97.9 780.1,97.8 782.1,97.9 784.1,98.0 786.1,98.0 788.1,98.2 790.1,98.5 792.1,98.6 794.1,98.6 796.1,98.8 798.1,98.9 800.1,98.7 802.1,98.6 804.1,98.5 806.1,98.8 808.1,99.2 810.1,99.3 812.1,99.4 814.1,99.7 816.1,99.7 818.1,99.7 820.1,99.7 822.1,99.6 824.1,99.7 826.1,100.0 828.1,100.2 830.1,100.3 832.1,100.2 834.1,100.0 836.1,99.9 838.1,99.7 840.1,99.4 842.0,99.3 844.0,99.1 845.9,98.5 847.7,97.5 849.6,96.7 851.3,95.8 853.1,94.7 854.8,93.7 856.5,92.7 858.2,91.7 859.9,90.7 861.7,89.7 863.4,88.9 865.2,87.9 866.9,86.7 868.6,85.7 870.3,84.9 872.1,83.9 873.8,82.6 875.6,81.5 877.4,80.7 879.2,80.0 881.0,79.2 882.9,78.4 884.7,77.8 886.7,77.1 888.6,76.5 890.5,76.4 892.5,76.1 894.4,75.6 896.4,75.2 898.4,74.8 900.3,74.4 902.3,73.7 904.3,73.3 906.2,73.2 908.2,72.9 910.2,72.6 912.2,72.4 914.2,72.2 916.2,72.1 918.2,72.0 920.2,72.1 922.1,72.3 924.1,72.7 926.1,72.9 928.0,73.2 929.9,73.8 931.9,74.4 933.8,75.0 935.7,75.7 937.6,76.3 939.5,76.9 941.5,77.4 943.4,78.0 945.3,78.5 947.3,78.9 949.2,79.3 951.1,79.5 953.1,79.9 955.1,80.5 957.0,80.9 959.0,81.2 961.0,81.6 963.0,81.9 965.0,82.1 966.9,82.5 968.9,82.6 970.9,82.7 972.2,83.0" fill="none" stroke="#d62728" stroke-width="3.8" stroke-linejoin="round" stroke-linecap="round"/>
<polyline points="170.6,493.0 170.6,491.0 170.7,489.0 170.7,487.0 170.9,489.0 170.9,491.0 170.9,493.0 170.8,495.0 170.8,497.0 170.8,499.0 170.9,501.0 171.4,499.0 171.6,497.1 171.9,495.1 172.1,493.1 172.3,491.1 172.6,489.1 172.8,487.1 173.0,485.1 173.2,483.2 173.4,481.2 173.6,479.2 173.9,477.2 174.1,475.2 174.3,473.2 174.5,471.2 174.7,469.2 174.9,467.2 175.1,465.2 175.3,463.3 175.5,461.3 175.7,459.3 175.9,457.3 176.1,455.3 176.3,453.3 176.5,451.3 176.7,449.3 176.9,447.3 177.1,445.4 177.3,443.4 177.5,441.4 177.7,439.4 177.9,437.4 178.1,435.4 178.2,433.4 178.4,431.4 178.5,429.4 178.5,427.4 178.6,425.4 178.7,423.4 178.9,421.4 179.0,419.4 179.2,417.4 179.3,415.4 179.5,413.4 179.6,411.4 179.8,409.5 179.9,407.5 180.1,405.5 180.3,403.5 180.4,401.5 180.6,399.5 180.7,397.5 180.9,395.5 181.1,393.5 181.2,391.5 181.4,389.5 181.6,387.5 181.8,385.5 181.9,383.5 182.1,381.6 182.3,379.6 182.5,377.6 182.6,375.6 182.8,373.6 183.0,371.6 183.2,369.6 183.4,367.6 183.5,365.6 183.7,363.6 184.0,361.6 184.2,359.6 184.4,357.7 184.7,355.7 184.9,353.7 185.2,351.7 185.5,349.7 185.8,347.8 186.2,345.8 186.5,343.8 186.8,341.9 187.2,339.9 187.6,337.9 187.9,335.9 188.3,334.0 188.7,332.0 189.1,330.1 189.4,328.1 189.8,326.1 190.2,324.2 190.6,322.2 191.0,320.2 191.3,318.3 191.7,316.3 192.1,314.4 192.5,312.4 192.8,310.4 193.2,308.5 193.5,306.5 193.9,304.5 194.2,302.5 194.6,300.6 194.9,298.6 195.2,296.6 195.5,294.6 195.9,292.7 196.2,290.7 196.6,288.8 197.1,286.8 197.5,284.9 198.0,282.9 198.5,281.0 199.0,279.0 199.4,277.1 199.8,275.1 200.3,273.2 200.7,271.2 201.1,269.2 201.4,267.3 201.8,265.3 202.2,263.4 202.6,261.4 203.0,259.4 203.4,257.5 203.8,255.5 204.2,253.6 204.6,251.6 205.0,249.6 205.5,247.7 205.9,245.7 206.2,243.8 206.6,241.8 207.0,239.8 207.4,237.9 207.7,235.9 208.1,233.9 208.5,232.0 208.9,230.0 209.3,228.1 209.7,226.1 210.1,224.1 210.5,222.2 210.9,220.2 211.3,218.3 211.8,216.3 212.2,214.4 212.7,212.4 213.3,210.5 214.0,208.6 215.1,207.0 216.8,208.0 217.7,209.8 218.3,211.7 218.9,213.6 219.4,215.5 219.9,217.5 220.5,219.4 221.0,221.3 221.7,223.2 222.5,225.0 223.3,226.9 224.1,228.7 224.9,230.5 225.8,232.5 226.6,234.1 227.6,236.1 228.5,238.0 229.6,239.6 230.9,241.1 232.3,242.5 234.1,243.5 236.0,243.9 237.9,244.0 239.9,244.2 241.9,244.4 243.9,244.4 245.9,244.1 247.8,243.4 249.8,242.8 251.7,242.2 253.6,241.8 255.5,241.2 257.4,240.4 259.2,239.8 261.1,239.3 263.0,238.5 264.8,237.7 266.7,236.8 268.6,236.3 270.6,236.0 272.6,235.5 274.6,235.2 276.6,235.5 278.6,235.6 280.5,235.3 282.5,234.8 284.3,233.9 286.1,232.9 287.8,232.1 289.5,231.0 291.3,229.9 293.1,229.2 294.9,228.4 296.8,227.5 298.6,227.0 300.5,226.4 302.4,225.5 304.3,224.6 306.1,223.8 308.0,223.0 309.9,222.3 311.7,221.6 313.6,220.8 315.4,220.1 317.2,219.4 319.0,218.7 320.7,217.9 322.4,216.6 324.0,215.3 325.7,214.1 327.3,212.9 328.9,211.8 330.6,210.8 332.3,209.7 334.0,208.6 335.7,207.6 337.4,206.6 339.1,205.5 340.9,204.3 342.6,203.3 344.3,202.6 346.1,201.7 347.8,200.5 349.5,199.6 351.3,198.8 353.0,197.6 354.7,196.4 356.4,195.4 358.1,194.2 359.8,192.9 361.4,191.9 363.1,191.1 364.7,189.8 366.4,188.6 368.0,187.6 369.6,186.2 371.2,185.0 372.8,183.8 374.4,182.7 376.0,181.5 377.6,180.2 379.1,178.8 380.7,177.6 382.3,176.6 383.9,175.4 385.4,174.1 387.0,173.0 388.6,172.0 390.2,170.7 391.8,169.4 393.3,168.1 394.9,166.8 396.5,165.7 398.1,164.6 399.7,163.4 401.4,162.1 403.0,161.1 404.6,159.8 406.2,158.4 407.8,157.3 409.5,156.0 411.1,154.7 412.7,153.8 414.3,152.8 416.0,151.4 417.6,150.2 419.2,149.1 420.8,148.2 422.5,147.2 424.1,145.9 425.7,144.6 427.4,143.5 429.0,142.4 430.6,141.3 432.2,140.1 433.9,138.9 435.5,137.7 437.1,136.4 438.8,135.2 440.4,134.2 442.0,133.2 443.7,131.9 445.3,130.6 446.9,129.5 448.6,128.6 450.2,127.5 451.8,126.2 453.5,124.8 455.1,123.5 456.7,122.5 458.4,121.5 460.0,120.2 461.6,119.0 463.3,118.0 464.9,116.6 466.5,115.5 468.2,114.7 469.8,113.6 471.4,112.1 473.1,110.7 474.7,109.6 476.3,108.6 478.0,107.5 479.6,106.6 481.2,105.4 482.9,104.0 484.5,102.8 486.1,101.9 487.8,100.9 489.4,99.6 491.1,98.4 492.7,97.3 494.3,96.0 496.0,94.7 497.6,93.6 499.2,92.4 500.9,91.3 502.5,90.3 504.1,89.5 505.8,88.5 507.4,87.3 509.0,86.0 510.7,84.7 512.3,83.6 514.0,82.5 515.6,81.5 517.2,80.2 518.9,78.7 520.5,77.3 522.1,76.3 523.8,75.3 525.4,74.0 527.1,72.7 528.7,71.8 530.3,70.8 531.9,69.4 533.5,68.1 535.1,67.0 536.5,65.8 538.0,64.6 539.2,63.0 541.1,63.6 542.7,64.6 544.2,66.0 545.5,67.4 546.6,68.7 547.7,70.4 548.8,72.5 549.8,74.2 550.9,75.7 551.9,77.5 552.9,79.1 554.0,80.6 555.1,82.5 556.2,84.3 557.3,85.9 558.5,87.5 559.6,89.1 560.7,91.0 561.8,92.8 562.9,94.3 564.0,96.1 565.1,97.8 566.3,99.3 567.4,100.9 568.6,102.4 569.8,104.0 571.0,105.7 572.3,107.2 573.7,108.6 575.1,110.1 576.6,111.5 578.1,112.5 579.7,113.7 581.4,114.8 583.1,115.9 584.8,116.8 586.6,117.8 588.4,118.6 590.3,119.3 592.1,120.0 594.0,120.7 596.0,121.2 598.0,121.5 600.0,121.5 602.0,121.6 604.0,122.0 605.9,122.6 607.9,123.0 609.8,123.5 611.7,124.0 613.5,124.6 615.4,125.4 617.3,126.2 619.3,126.7 621.2,126.9 623.2,127.0 625.2,127.3 627.2,127.5 629.2,127.5 631.2,127.6 633.2,127.5 635.2,127.4 637.2,127.4 639.2,127.2 641.2,127.1 643.2,127.1 645.2,127.1 647.2,127.0 649.2,126.8 651.2,126.6 653.2,126.4 655.1,126.3 657.1,126.4 659.1,126.3 661.1,126.1 663.1,125.9 665.1,125.9 667.1,126.0 669.1,125.9 671.1,126.1 673.1,126.6 675.1,127.1 677.0,127.6 678.9,128.0 680.8,128.7 682.6,129.5 684.5,130.2 686.3,131.1 688.1,131.9 690.0,132.7 691.9,133.2 693.9,133.4 695.8,133.7 697.8,134.0 699.8,134.0 701.8,133.6 703.8,133.1 705.7,132.4 707.6,131.7 709.4,131.1 711.3,130.4 713.2,129.6 715.0,128.7 716.8,127.6 718.7,126.6 720.5,125.9 722.4,125.5 724.3,125.2 726.2,124.6 728.1,123.8 730.0,123.0 731.9,122.1 733.8,121.3 735.7,120.9 737.6,120.7 739.5,120.3 741.4,119.6 743.3,118.9 745.2,118.2 747.1,117.5 749.1,117.1 751.0,116.6 753.0,116.0 754.9,115.6 756.9,115.4 758.8,115.0 760.8,114.4 762.8,114.0 764.8,113.7 766.7,113.4 768.7,113.2 770.7,112.9 772.7,112.7 774.7,112.5 776.7,112.2 778.7,112.1 780.6,112.0 782.6,111.9 784.6,111.8 786.6,111.6 788.6,111.3 790.6,111.1 792.6,110.8 794.6,111.0 796.6,111.1 798.6,110.9 800.6,110.7 802.6,110.7 804.6,110.6 806.6,110.4 808.6,110.2 810.5,109.9 812.5,109.4 814.5,109.0 816.4,108.6 818.4,108.3 820.4,107.9 822.3,107.3 824.2,106.9 826.2,106.6 828.2,106.3 830.1,106.0 832.1,105.4 834.0,104.8 836.0,104.5 837.9,104.3 839.9,104.0 841.9,103.4 843.8,102.7 845.8,102.1 847.7,101.8 849.7,101.8 851.7,101.5 853.6,100.9 855.6,100.3 857.5,99.8 859.5,99.4 861.5,99.1 863.4,98.9 865.4,98.5 867.3,98.0 869.3,97.5 871.2,97.2 873.2,96.7 875.2,96.1 877.1,95.7 879.1,95.5 881.1,95.1 883.1,94.7 885.1,94.7 887.1,95.1 889.1,95.0 891.1,94.7 893.1,94.5 895.1,94.6 897.1,94.7 899.1,94.6 901.1,94.8 903.1,94.9 905.1,94.9 907.1,95.0 909.1,95.0 911.0,94.9 913.0,95.1 915.0,95.1 917.0,95.3 919.0,95.7 920.7,96.9 922.1,98.7 923.5,100.3 925.1,101.2 926.7,102.3 928.2,103.7 929.8,105.1 931.4,106.1 933.1,107.1 934.9,108.2 936.7,109.0 938.6,109.5 940.5,110.0 942.4,110.6 944.4,111.5 946.3,112.0 948.2,112.2 950.2,112.6 952.1,113.2 954.1,113.9 956.0,114.6 957.9,115.2 959.7,115.9 961.6,116.7 963.4,117.5 965.2,118.1 966.9,118.8 968.7,119.9 970.4,121.2 972.2,122.3 972.2,122.2" fill="none" stroke="#9467bd" stroke-width="3.8" stroke-linejoin="round" stroke-linecap="round"/>
<polyline points="170.6,492.0 170.6,490.0 170.7,488.0 170.9,490.0 170.9,492.0 170.8,494.0 170.8,496.0 170.8,498.0 170.8,500.0 171.4,498.1 171.7,496.1 171.9,494.1 172.2,492.1 172.4,490.1 172.6,488.1 172.9,486.2 173.1,484.2 173.3,482.2 173.6,480.2 173.8,478.2 174.0,476.2 174.3,474.2 174.5,472.3 174.7,470.3 174.9,468.3 175.2,466.3 175.4,464.3 175.6,462.3 175.8,460.3 176.0,458.3 176.3,456.4 176.5,454.4 176.7,452.4 176.9,450.4 177.1,448.4 177.3,446.4 177.5,444.4 177.7,442.4 178.0,440.4 178.1,438.5 178.3,436.5 178.5,434.5 178.7,432.5 178.8,430.5 178.8,428.5 178.9,426.5 179.0,424.5 179.1,422.5 179.2,420.5 179.4,418.5 179.5,416.5 179.7,414.5 179.8,412.5 180.0,410.5 180.1,408.5 180.3,406.5 180.4,404.5 180.6,402.5 180.8,400.5 180.9,398.6 181.1,396.6 181.2,394.6 181.4,392.6 181.6,390.6 181.7,388.6 181.9,386.6 182.1,384.6 182.3,382.6 182.4,380.6 182.6,378.6 182.8,376.6 183.0,374.6 183.1,372.6 183.3,370.7 183.5,368.7 183.7,366.7 183.9,364.7 184.1,362.7 184.3,360.7 184.5,358.7 184.8,356.7 185.0,354.7 185.3,352.8 185.6,350.8 185.9,348.8 186.2,346.8 186.5,344.9 186.9,342.9 187.3,340.9 187.6,339.0 188.0,337.0 188.4,335.0 188.7,333.1 189.1,331.1 189.5,329.1 189.9,327.2 190.3,325.2 190.7,323.3 191.1,321.3 191.4,319.3 191.8,317.4 192.2,315.4 192.6,313.4 193.0,311.5 193.3,309.5 193.7,307.5 194.0,305.6 194.4,303.6 194.7,301.6 195.0,299.7 195.4,297.7 195.7,295.7 196.0,293.7 196.4,291.8 196.8,289.8 197.2,287.9 197.6,285.9 198.1,284.0 198.6,282.0 199.1,280.1 199.5,278.1 200.0,276.2 200.4,274.2 200.8,272.3 201.2,270.3 201.6,268.3 202.0,266.4 202.4,264.4 202.7,262.5 203.1,260.5 203.5,258.5 203.9,256.6 204.3,254.6 204.7,252.7 205.1,250.7 205.5,248.7 205.9,246.8 206.2,244.8 206.6,242.8 206.9,240.9 207.2,238.9 207.6,236.9 207.9,234.9 208.2,233.0 208.5,231.0 208.9,229.0 209.2,227.1 209.6,225.1 209.9,223.1 210.3,221.1 210.6,219.2 211.0,217.2 211.4,215.3 211.9,213.3 212.4,211.4 212.9,209.4 213.5,207.5 214.4,205.8 216.4,205.2 217.5,206.9 218.4,208.7 219.1,210.5 219.9,212.4 220.6,214.3 221.2,216.2 221.8,218.1 222.4,220.0 223.0,221.9 223.6,223.8 224.3,225.6 225.1,227.3 225.9,229.2 226.8,231.4 227.6,233.4 228.5,234.6 229.5,235.7 230.6,237.5 232.0,239.6 233.3,241.2 235.1,241.6 237.1,242.0 239.1,242.4 241.1,242.5 243.0,242.4 245.0,241.9 247.0,241.5 248.9,241.7 250.9,241.6 252.9,240.8 254.8,239.8 256.8,239.3 258.7,238.7 260.7,238.4 262.6,238.7 264.6,238.3 266.6,237.7 268.5,237.6 270.5,237.3 272.5,236.3 274.4,235.9 276.4,236.0 278.4,235.8 280.4,235.1 282.4,234.9 284.4,235.2 286.4,235.6 288.4,235.3 290.4,234.3 292.4,234.2 294.4,234.7 296.3,234.5 298.3,234.1 300.3,233.7 302.2,233.0 304.2,232.6 306.1,232.4 308.0,231.5 309.9,230.0 311.8,229.5 313.6,229.5 315.5,229.0 317.3,228.1 319.1,227.1 320.8,226.0 322.5,224.7 324.3,223.5 326.1,222.6 327.9,222.0 329.7,221.8 331.5,221.1 333.3,219.6 335.2,218.5 337.0,218.4 338.8,217.8 340.7,217.0 342.5,216.3 344.4,215.4 346.2,214.3 348.1,213.4 350.0,212.9 352.0,212.3 354.0,211.7 356.0,211.4 358.0,211.5 359.9,211.6 361.8,211.3 363.7,211.2 365.6,210.3 367.4,208.7 369.3,207.8 371.1,207.6 372.9,206.9 374.7,205.8 376.5,205.2 378.3,204.4 380.1,203.1 381.9,202.1 383.7,201.5 385.5,200.9 387.3,200.1 389.1,199.0 390.8,197.3 392.6,195.9 394.4,195.4 396.2,195.1 398.0,193.9 399.8,192.4 401.6,191.4 403.4,190.7 405.2,190.4 407.0,189.7 408.7,188.3 410.5,186.9 412.3,186.2 414.1,185.7 415.9,184.5 417.7,183.6 419.4,183.0 421.2,182.5 423.0,182.2 424.8,181.4 426.7,180.1 428.5,179.0 430.3,178.2 432.2,177.3 434.0,176.1 435.9,175.5 437.7,175.4 439.6,174.7 441.5,174.1 443.4,173.7 445.3,172.8 447.2,171.7 449.1,171.3 451.0,171.0 452.9,170.4 454.8,169.7 456.7,168.7 458.6,167.7 460.5,167.0 462.3,166.3 464.2,165.8 466.1,165.6 468.0,165.3 469.9,164.5 471.8,163.5 473.6,163.3 475.5,162.5 477.4,161.4 479.3,160.9 481.2,160.2 483.0,159.1 484.9,158.0 486.7,157.0 488.5,156.6 490.3,156.2 492.1,155.3 493.9,154.2 495.6,153.1 497.3,151.8 499.0,150.7 500.7,149.6 502.4,148.5 504.0,147.2 505.7,146.3 507.3,145.6 508.9,144.4 510.6,143.5 512.2,142.8 513.8,141.7 515.4,140.2 517.0,138.6 518.6,137.0 520.2,135.6 521.8,134.8 523.4,133.6 525.0,132.5 526.6,131.7 528.3,130.8 530.0,129.4 531.6,128.0 533.3,126.9 534.9,126.2 536.5,125.0 537.9,123.4 539.2,121.8 540.4,119.9 541.4,118.1 542.2,116.6 543.1,114.6 543.8,112.4 544.4,110.9 545.0,109.1 545.5,106.6 546.1,104.5 546.7,102.9 547.3,101.0 548.1,99.5 548.9,97.8 550.2,96.0 552.2,96.2 553.9,97.4 555.3,98.6 556.5,100.0 557.6,101.9 558.7,103.8 559.8,104.9 561.0,106.0 562.2,107.9 563.4,110.0 564.6,111.8 565.8,113.6 566.9,115.1 568.1,116.4 569.3,118.1 570.6,120.1 572.0,121.7 573.5,122.9 575.0,123.8 576.6,125.0 578.2,126.5 579.8,127.5 581.5,128.5 583.2,130.0 584.9,131.3 586.6,132.3 588.4,133.3 590.2,133.9 592.0,134.1 593.9,134.8 595.8,135.5 597.7,135.7 599.7,136.4 601.7,136.5 603.7,136.1 605.7,135.9 607.7,135.8 609.6,135.8 611.6,135.7 613.6,135.2 615.5,134.4 617.4,133.5 619.4,133.0 621.3,132.9 623.3,132.5 625.2,131.6 627.0,131.0 628.9,130.2 630.7,129.4 632.6,129.1 634.5,128.4 636.4,127.4 638.4,127.3 640.3,128.2 642.1,128.8 643.7,129.8 645.2,131.3 646.8,133.0 648.3,134.1 650.0,135.0 651.7,136.6 653.5,137.6 655.3,138.2 657.2,138.8 659.0,139.6 660.9,140.5 662.8,141.2 664.7,141.2 666.5,141.5 668.4,142.4 670.3,142.9 672.2,143.7 674.2,144.9 676.1,145.6 678.0,146.0 679.9,146.3 681.8,147.1 683.8,147.7 685.7,147.5 687.6,147.9 689.6,148.6 691.6,149.3 693.5,150.1 695.5,150.3 697.5,150.4 699.4,150.4 701.4,150.4 703.4,150.6 705.4,150.8 707.4,150.9 709.4,151.3 711.4,152.0 713.4,152.3 715.3,152.4 717.3,152.6 719.3,153.0 721.3,153.3 723.3,153.3 725.3,153.1 727.3,153.0 729.3,153.2 731.3,153.4 733.3,153.5 735.2,152.8 736.9,151.2 738.7,150.6 740.6,150.2 742.5,149.4 744.5,148.6 746.4,148.5 748.4,148.5 750.3,147.8 752.3,146.9 754.3,146.4 756.2,146.2 758.2,145.8 760.1,145.6 762.1,145.5 764.1,145.1 766.1,145.2 768.0,145.0 770.0,144.6 772.0,143.9 774.0,143.1 776.0,143.2 778.0,143.3 780.0,142.9 781.9,142.4 783.9,142.3 785.9,142.5 787.9,142.7 789.9,143.1 791.9,142.9 793.9,142.5 795.9,142.6 797.9,142.7 799.9,143.1 801.9,143.5 803.9,143.7 805.9,144.3 807.9,144.8 809.8,144.8 811.8,144.5 813.8,144.6 815.8,145.3 817.8,146.1 819.8,146.6 821.7,146.7 823.7,146.9 825.6,147.2 827.4,147.7 829.3,148.8 831.3,149.3 833.3,148.7 835.2,147.8 837.2,147.7 839.0,147.3 840.8,146.4 842.7,145.3 844.5,144.3 846.3,143.7 848.2,143.2 850.1,142.5 852.0,141.7 853.9,140.9 855.8,140.6 857.8,140.7 859.7,140.5 861.7,139.5 863.7,138.9 865.7,138.8 867.7,138.6 869.6,138.4 871.6,137.8 873.6,137.7 875.6,137.7 877.6,137.1 879.5,137.1 881.5,136.9 883.5,136.1 885.4,135.4 887.3,135.3 889.2,134.8 891.1,133.4 893.0,132.7 894.9,132.8 896.7,132.2 898.6,131.4 900.4,130.7 902.3,129.6 904.1,128.6 906.0,128.1 907.9,127.1 909.8,126.2 911.8,125.7 913.8,125.5 915.8,125.9 917.7,126.9 919.7,127.0 921.5,127.6 923.4,128.5 925.4,128.1 927.3,127.3 928.9,126.3 930.4,125.3 931.8,124.3 933.3,123.2 934.9,121.8 936.7,120.3 938.6,119.3 940.6,119.1 942.6,119.2 944.6,119.7 946.5,120.5 948.4,121.1 950.3,121.5 952.2,122.1 954.1,123.3 955.9,124.7 957.8,125.3 959.6,126.0 961.4,126.7 963.2,127.4 965.0,128.4 966.7,129.4 968.5,130.6 970.2,131.7 972.0,132.4 972.2,132.8" fill="none" stroke="#8c564b" stroke-width="3.8" stroke-linejoin="round" stroke-linecap="round"/>
<polyline points="170.6,511.0 170.6,509.0 170.6,507.0 170.6,505.0 170.6,503.0 170.6,501.0 170.7,499.0 170.7,497.0 170.7,495.0 170.9,497.0 170.9,499.0 170.9,501.0 170.9,503.0 170.9,505.0 171.0,507.0 171.0,509.0 171.0,511.0 171.1,513.0 171.2,515.0 171.4,517.0 172.2,515.1 172.7,513.2 173.3,511.3 173.6,509.3 173.9,507.3 174.1,505.4 174.3,503.4 174.5,501.4 174.7,499.4 174.8,497.4 175.0,495.4 175.1,493.4 175.2,491.4 175.3,489.4 175.4,487.4 175.5,485.4 175.6,483.4 175.7,481.4 175.8,479.4 175.9,477.4 176.0,475.4 176.1,473.4 176.2,471.4 176.3,469.4 176.4,467.4 176.5,465.4 176.6,463.4 176.7,461.4 176.7,459.4 176.8,457.4 176.9,455.4 177.0,453.4 177.1,451.4 177.2,449.4 177.3,447.4 177.4,445.4 177.5,443.4 177.6,441.5 177.7,439.5 177.8,437.5 177.9,435.5 178.0,433.5 178.1,431.5 178.3,429.5 178.4,427.5 178.5,425.5 178.7,423.5 178.9,421.5 179.0,419.5 179.2,417.5 179.3,415.5 179.5,413.5 179.6,411.5 179.8,409.5 179.9,407.5 180.1,405.5 180.3,403.5 180.4,401.6 180.6,399.6 180.7,397.6 180.9,395.6 181.1,393.6 181.2,391.6 181.4,389.6 181.6,387.6 181.7,385.6 181.9,383.6 182.1,381.6 182.3,379.6 182.5,377.6 182.6,375.7 182.8,373.7 183.0,371.7 183.2,369.7 183.3,367.7 183.5,365.7 183.7,363.7 183.9,361.7 184.2,359.7 184.4,357.7 184.7,355.8 184.9,353.8 185.2,351.8 185.5,349.8 185.8,347.8 186.1,345.9 186.5,343.9 186.8,341.9 187.2,340.0 187.5,338.0 187.9,336.0 188.3,334.1 188.7,332.1 189.0,330.1 189.4,328.2 189.8,326.2 190.2,324.2 190.6,322.3 191.0,320.3 191.3,318.4 191.7,316.4 192.1,314.4 192.5,312.5 192.8,310.5 193.2,308.5 193.5,306.6 193.9,304.6 194.2,302.6 194.5,300.6 194.9,298.7 195.2,296.7 195.5,294.7 195.9,292.8 196.2,290.8 196.6,288.8 197.1,286.9 197.5,284.9 198.0,283.0 198.5,281.0 198.9,279.1 199.4,277.1 199.8,275.2 200.2,273.2 200.6,271.3 201.0,269.3 201.4,267.4 201.8,265.4 202.1,263.4 202.5,261.5 202.9,259.5 203.3,257.5 203.7,255.6 204.2,253.6 204.6,251.7 205.0,249.7 205.5,247.8 205.9,245.8 206.3,243.9 206.7,241.9 207.1,239.9 207.6,238.0 208.0,236.0 208.4,234.1 208.8,232.1 209.2,230.2 209.7,228.2 210.1,226.3 210.6,224.3 211.0,222.4 211.5,220.4 212.0,218.5 212.6,216.6 213.2,214.7 213.9,212.8 215.2,211.3 216.8,212.5 217.7,214.2 218.3,216.1 218.9,218.1 219.4,220.0 220.0,221.9 220.6,223.8 221.1,225.7 221.8,227.6 222.7,229.4 223.5,231.2 224.4,233.0 225.3,234.8 226.2,236.3 227.1,238.3 228.1,240.3 229.2,242.1 230.4,243.9 231.5,245.7 232.8,247.2 234.4,248.0 236.3,248.3 238.3,248.8 240.3,249.1 242.3,248.9 244.2,248.4 246.2,248.3 248.1,247.7 250.1,247.1 252.0,246.9 254.0,246.4 255.9,245.6 257.9,245.1 259.9,245.0 261.8,245.2 263.8,244.9 265.8,244.2 267.7,243.6 269.7,243.0 271.7,242.7 273.7,242.7 275.6,242.1 277.6,241.1 279.6,240.8 281.5,240.9 283.5,240.8 285.5,240.1 287.4,239.8 289.4,239.9 291.4,239.7 293.4,239.2 295.3,238.2 297.3,237.6 299.3,237.5 301.2,237.5 303.2,237.4 305.2,237.3 307.2,237.6 309.2,237.4 311.1,236.9 313.1,236.9 315.1,236.7 317.1,236.3 319.1,235.4 321.1,234.7 323.0,234.3 325.0,234.0 327.0,234.1 329.0,234.3 330.9,233.8 332.9,233.7 334.9,233.6 336.9,233.0 338.8,232.2 340.8,231.6 342.7,231.2 344.7,231.2 346.7,230.8 348.6,229.9 350.5,229.6 352.5,229.2 354.4,228.1 356.3,227.5 358.2,227.6 360.2,227.3 362.1,226.6 364.0,225.6 365.9,224.7 367.8,224.4 369.7,223.8 371.6,223.0 373.6,222.5 375.5,221.8 377.4,221.4 379.3,221.4 381.2,220.6 383.0,219.1 384.9,218.4 386.8,218.5 388.7,218.3 390.6,217.4 392.5,216.5 394.4,216.2 396.3,215.5 398.2,214.1 400.1,213.2 402.0,213.2 404.0,213.1 405.9,212.4 407.8,211.6 409.7,210.7 411.7,209.9 413.6,209.5 415.5,209.3 417.5,208.9 419.4,208.6 421.3,208.0 423.3,207.5 425.2,207.1 427.1,206.3 429.0,205.6 430.9,205.2 432.8,204.9 434.6,204.5 436.5,203.3 438.4,202.1 440.2,201.7 442.1,201.1 444.0,200.1 445.8,198.7 447.7,197.6 449.5,196.8 451.3,196.1 453.2,195.7 455.0,195.6 456.8,194.9 458.6,193.6 460.4,192.4 462.2,191.5 464.0,190.4 465.7,189.5 467.5,189.1 469.2,188.6 471.0,187.4 472.7,186.0 474.4,185.5 476.1,185.0 477.8,183.5 479.5,181.9 481.2,181.1 482.9,180.3 484.6,178.8 486.3,177.8 488.0,177.1 489.7,176.4 491.4,175.1 493.1,173.7 494.8,172.3 496.5,171.3 498.2,170.4 499.9,169.3 501.6,168.1 503.3,167.0 505.0,166.4 506.7,165.3 508.4,163.7 510.1,162.5 511.8,161.5 513.5,160.5 515.1,159.7 516.8,159.1 518.5,157.9 520.1,155.9 521.7,154.5 523.3,153.4 524.9,152.3 526.5,151.5 528.0,150.4 529.4,148.9 530.9,147.2 532.2,145.6 533.6,144.5 534.9,143.1 536.1,141.0 537.4,139.3 538.6,138.1 539.8,136.5 540.9,134.8 541.9,133.6 543.0,132.2 543.8,130.3 544.7,128.7 545.5,127.0 546.3,124.7 547.1,122.4 548.0,120.8 548.9,119.6 549.9,117.7 550.9,115.4 552.0,113.4 553.6,112.1 555.5,113.2 556.9,114.9 558.2,116.3 559.5,117.5 560.9,118.8 562.4,120.1 563.9,121.2 565.4,122.3 566.9,123.9 568.4,125.7 569.9,127.4 571.5,128.6 573.0,129.7 574.6,131.2 576.2,132.3 577.9,132.8 579.6,133.9 581.3,135.2 583.0,136.3 584.8,136.8 586.6,137.5 588.5,138.6 590.3,139.8 592.1,140.4 594.0,140.6 595.9,141.3 597.8,142.0 599.7,142.3 601.6,142.9 603.5,144.1 605.4,145.3 607.3,145.9 609.3,145.6 611.2,146.0 613.2,146.8 615.1,147.3 617.1,147.3 619.0,147.7 621.0,148.3 623.0,148.4 625.0,148.5 627.0,148.7 629.0,148.7 631.0,148.9 632.9,148.9 634.9,149.2 636.9,149.8 638.9,150.3 640.9,150.5 642.9,150.0 644.9,149.5 646.9,149.5 648.9,149.4 650.9,149.2 652.9,149.2 654.8,148.9 656.8,148.5 658.6,147.5 660.5,146.3 662.5,145.5 664.5,145.6 666.5,146.6 668.5,146.9 670.4,147.2 672.2,148.1 674.0,149.1 675.8,149.9 677.5,150.8 679.2,151.5 680.9,152.2 682.6,153.4 684.3,154.5 686.0,155.3 687.8,156.2 689.6,157.6 691.4,158.8 693.2,159.1 695.2,159.0 697.1,159.3 699.1,160.1 701.1,160.1 703.1,159.3 705.1,159.1 707.1,159.7 709.0,159.8 710.9,159.1 712.9,157.9 714.8,156.7 716.7,156.2 718.7,155.9 720.6,155.9 722.6,156.1 724.5,155.4 726.4,154.3 728.4,153.9 730.3,154.0 732.2,153.5 734.1,152.3 736.1,151.5 738.1,151.2 740.0,150.9 742.0,151.4 744.0,152.1 745.9,152.8 747.7,153.3 749.4,153.8 751.1,154.8 752.7,155.7 754.5,156.7 756.3,157.8 758.3,158.1 760.3,158.2 762.3,158.0 764.2,157.5 766.1,156.9 768.0,156.6 769.8,155.9 771.7,154.7 773.6,154.1 775.4,153.7 777.4,153.2 779.3,152.8 781.3,152.8 783.3,152.5 785.3,152.0 787.3,152.4 789.2,153.4 791.2,154.3 793.1,155.1 795.0,155.5 797.0,156.0 798.9,156.1 800.9,156.3 802.9,156.6 804.9,156.4 806.9,155.8 808.9,155.5 810.9,155.6 812.9,156.1 814.9,156.3 816.9,155.9 818.8,154.9 820.8,154.3 822.8,154.2 824.7,154.2 826.7,153.8 828.6,153.2 830.6,152.7 832.5,152.1 834.4,151.5 836.3,151.0 838.2,149.9 840.1,148.7 842.0,148.2 843.9,148.1 845.8,147.6 847.6,146.5 849.5,145.9 851.4,145.4 853.3,144.4 855.2,143.4 857.1,143.0 859.1,142.9 861.0,142.5 863.0,142.3 864.9,141.9 866.9,141.2 868.8,140.8 870.8,140.4 872.8,139.8 874.7,139.3 876.7,138.9 878.7,138.3 880.6,138.1 882.6,138.4 884.6,138.3 886.5,137.5 888.5,137.0 890.4,136.6 892.4,136.0 894.3,135.6 896.3,135.3 898.2,134.7 900.2,134.1 902.2,133.6 904.1,133.7 906.1,133.6 908.1,133.1 910.1,133.0 912.1,133.0 914.0,133.5 915.8,134.5 917.7,135.2 919.7,135.4 921.7,135.6 923.6,134.9 925.4,134.1 927.1,133.1 928.9,131.9 930.6,130.8 932.3,130.1 934.1,129.6 936.0,129.0 937.9,128.2 939.9,127.8 941.9,128.3 943.8,129.2 945.6,130.1 947.3,131.3 948.9,132.2 950.5,132.8 952.1,134.0 953.7,135.5 955.3,136.6 956.9,137.7 958.5,139.3 960.3,140.9 962.1,141.7 964.0,142.0 966.0,141.4 968.0,141.0 970.0,140.9 972.0,140.7 972.2,140.2" fill="none" stroke="#e377c2" stroke-width="3.8" stroke-linejoin="round" stroke-linecap="round"/>
<polyline points="170.6,495.0 170.8,493.0 171.1,491.0 171.3,489.0 171.6,487.1 171.8,485.1 172.1,483.1 172.3,481.1 172.6,479.1 172.8,477.1 173.1,475.2 173.3,473.2 173.6,471.2 173.8,469.2 174.1,467.2 174.3,465.2 174.5,463.2 174.8,461.3 175.0,459.3 175.3,457.3 175.5,455.3 175.8,453.3 176.0,451.3 176.2,449.3 176.5,447.4 176.7,445.4 176.9,443.4 177.1,441.4 177.4,439.4 177.6,437.4 177.8,435.4 177.9,433.4 178.1,431.4 178.2,429.4 178.3,427.4 178.4,425.4 178.5,423.5 178.6,421.5 178.7,419.5 178.9,417.5 179.1,415.5 179.2,413.5 179.4,411.5 179.5,409.5 179.7,407.5 179.8,405.5 180.0,403.5 180.2,401.5 180.3,399.5 180.5,397.5 180.7,395.5 180.8,393.5 181.0,391.6 181.2,389.6 181.3,387.6 181.5,385.6 181.7,383.6 181.9,381.6 182.0,379.6 182.2,377.6 182.4,375.6 182.6,373.6 182.8,371.6 182.9,369.6 183.1,367.6 183.3,365.7 183.5,363.7 183.7,361.7 183.9,359.7 184.2,357.7 184.4,355.7 184.7,353.7 185.0,351.8 185.3,349.8 185.6,347.8 185.9,345.8 186.3,343.9 186.6,341.9 186.9,339.9 187.3,338.0 187.7,336.0 188.0,334.0 188.4,332.1 188.8,330.1 189.2,328.1 189.5,326.2 189.9,324.2 190.3,322.2 190.7,320.3 191.0,318.3 191.4,316.3 191.8,314.4 192.2,312.4 192.5,310.4 192.9,308.5 193.2,306.5 193.5,304.5 193.9,302.6 194.2,300.6 194.5,298.6 194.8,296.6 195.2,294.7 195.5,292.7 195.9,290.7 196.3,288.8 196.7,286.8 197.1,284.9 197.6,282.9 198.1,281.0 198.6,279.0 199.0,277.1 199.5,275.1 199.9,273.2 200.3,271.2 200.6,269.3 201.0,267.3 201.4,265.3 201.8,263.4 202.2,261.4 202.6,259.4 203.0,257.5 203.4,255.5 203.8,253.6 204.3,251.6 204.8,249.7 205.2,247.7 205.7,245.8 206.2,243.9 206.6,241.9 207.1,240.0 207.5,238.0 208.0,236.1 208.5,234.1 208.9,232.2 209.4,230.2 209.9,228.3 210.4,226.4 210.9,224.4 211.4,222.5 212.0,220.6 212.6,218.7 213.2,216.8 213.9,214.9 214.9,213.2 216.7,214.1 217.7,215.8 218.4,217.7 218.9,219.6 219.5,221.6 220.0,223.5 220.5,225.4 221.1,227.3 221.7,229.2 222.5,231.1 223.2,232.9 224.0,234.8 224.8,236.6 225.5,238.4 226.3,240.1 227.1,241.9 227.9,244.0 228.8,245.7 229.8,248.0 230.9,249.7 232.1,250.9 233.7,252.1 235.5,252.7 237.5,252.4 239.4,251.8 241.3,251.4 243.3,251.1 245.3,251.2 247.3,251.6 249.3,252.0 251.3,252.5 253.3,252.2 255.3,251.6 257.3,251.5 259.3,251.1 261.2,250.8 263.2,250.5 265.1,250.2 267.1,249.7 269.0,249.4 270.9,248.8 272.9,247.9 274.8,247.3 276.7,246.4 278.7,245.6 280.6,245.5 282.5,245.2 284.5,244.5 286.4,244.4 288.4,244.1 290.3,243.3 292.3,243.1 294.2,242.8 296.2,242.2 298.1,241.8 300.1,241.4 302.1,241.3 304.1,241.5 306.0,241.3 308.0,240.8 310.0,240.1 311.9,239.2 313.9,238.8 315.9,239.0 317.9,238.7 319.8,238.3 321.8,238.0 323.8,237.5 325.8,237.2 327.8,237.2 329.7,236.8 331.7,235.7 333.7,235.5 335.7,236.2 337.6,236.3 339.6,235.9 341.6,235.5 343.6,234.7 345.6,233.8 347.5,233.6 349.5,233.7 351.5,233.6 353.5,233.5 355.5,233.3 357.5,233.0 359.4,232.2 361.4,231.7 363.4,231.9 365.4,232.3 367.4,232.3 369.4,231.7 371.4,230.9 373.4,230.5 375.4,230.7 377.3,230.8 379.3,230.5 381.3,230.2 383.3,230.3 385.3,230.5 387.3,230.0 389.3,229.3 391.2,229.5 393.2,229.3 395.2,228.7 397.2,228.7 399.1,228.1 401.1,226.9 403.0,226.7 405.0,226.6 406.9,225.5 408.9,224.8 410.8,224.6 412.7,224.1 414.7,223.3 416.6,222.7 418.5,222.1 420.4,221.7 422.3,221.4 424.2,221.0 426.1,220.8 428.0,220.3 429.9,219.4 431.8,218.7 433.7,218.2 435.6,217.5 437.5,217.0 439.4,216.6 441.2,215.6 443.1,214.4 445.0,213.5 446.8,212.7 448.6,212.0 450.4,210.8 452.2,209.7 454.0,209.0 455.8,208.2 457.5,206.9 459.2,205.9 460.9,205.1 462.6,203.7 464.2,202.4 465.9,201.9 467.5,201.0 469.1,199.3 470.8,198.2 472.4,197.3 474.0,195.9 475.7,194.4 477.3,193.3 479.0,192.4 480.7,191.4 482.3,190.5 484.0,189.8 485.7,188.7 487.4,187.2 489.1,185.9 490.8,184.9 492.4,183.9 494.1,183.1 495.8,182.2 497.4,181.0 499.0,179.6 500.7,178.5 502.3,177.3 503.9,176.2 505.5,175.0 507.2,173.8 508.8,173.1 510.4,172.2 512.0,170.9 513.6,169.0 515.2,167.2 516.8,166.2 518.3,165.2 519.8,164.1 521.3,162.9 522.8,161.5 524.1,159.9 525.5,158.2 526.7,156.3 527.9,154.6 529.0,152.9 530.1,151.3 531.2,150.0 532.2,148.2 533.2,146.4 534.1,145.0 535.1,143.3 536.1,141.2 537.0,139.1 538.0,137.3 539.1,136.2 540.2,134.8 541.5,132.6 542.8,130.7 544.3,129.5 546.0,128.5 547.7,127.4 548.8,125.9 550.6,125.2 552.3,124.1 554.2,124.9 556.1,126.0 557.9,126.8 559.8,127.6 561.6,128.1 563.4,128.4 565.2,129.4 566.9,130.7 568.7,131.6 570.4,132.8 572.1,134.5 573.8,135.8 575.4,136.9 577.1,137.6 578.7,138.0 580.3,138.8 581.9,140.2 583.6,141.8 585.2,143.3 586.8,144.3 588.5,144.9 590.2,145.9 591.9,147.2 593.6,148.1 595.4,149.1 597.2,149.8 599.0,150.5 600.9,151.2 602.8,152.1 604.7,153.3 606.6,153.9 608.5,153.6 610.5,153.6 612.4,154.4 614.4,155.2 616.3,155.4 618.3,155.3 620.3,155.4 622.3,155.8 624.3,156.2 626.3,156.5 628.3,156.5 630.3,156.5 632.3,156.6 634.3,156.4 636.3,156.5 638.3,157.0 640.3,157.1 642.3,156.8 644.3,156.6 646.3,156.4 648.3,156.3 650.3,156.7 652.3,157.5 654.3,158.3 656.2,158.5 658.2,158.4 660.2,158.7 662.2,158.8 664.2,159.1 666.2,159.5 668.1,159.7 670.1,160.0 672.1,159.9 674.1,159.9 676.0,160.4 678.0,160.8 679.9,161.6 681.9,162.6 683.8,163.4 685.7,163.7 687.7,163.8 689.6,164.6 691.6,165.0 693.6,164.7 695.5,164.8 697.5,165.0 699.5,164.7 701.5,164.4 703.5,164.3 705.5,164.2 707.4,164.0 709.4,163.9 711.3,163.8 713.3,163.2 715.2,162.4 717.1,161.9 719.1,161.3 721.1,161.1 723.1,160.9 725.1,160.8 727.1,161.0 729.1,161.1 731.1,161.0 733.1,160.7 735.1,160.5 737.1,161.0 739.1,161.5 741.1,161.5 743.0,161.9 745.0,162.3 746.9,162.6 748.8,163.2 750.8,163.7 752.7,164.0 754.6,164.5 756.6,164.6 758.6,164.4 760.6,164.8 762.6,165.2 764.6,165.1 766.5,164.7 768.4,164.4 770.2,163.7 772.0,163.0 773.8,161.9 775.5,160.6 777.2,159.7 778.9,158.8 780.6,157.8 782.3,156.5 784.1,155.0 785.9,153.8 787.7,153.4 789.6,153.3 791.6,152.8 793.6,152.3 795.6,152.8 797.6,153.3 799.5,153.4 801.5,153.7 803.5,153.8 805.4,154.1 807.3,155.0 809.2,155.9 811.1,156.3 813.0,156.8 814.9,157.6 816.8,158.3 818.7,158.6 820.6,158.9 822.5,159.7 824.4,160.5 826.2,160.8 828.0,161.5 829.8,162.9 831.6,164.2 833.5,165.2 835.4,165.7 837.3,165.5 839.3,165.6 841.3,165.8 843.3,165.4 845.2,165.1 847.1,164.6 849.0,163.3 850.8,162.6 852.6,161.9 854.3,160.7 856.1,159.9 857.9,159.1 859.7,158.4 861.6,158.2 863.5,157.4 865.4,156.0 867.4,155.6 869.4,156.0 871.4,155.9 873.4,155.3 875.3,154.9 877.3,154.7 879.3,154.4 881.3,153.8 883.3,153.4 885.2,153.6 887.1,153.6 888.9,152.4 890.7,151.0 892.4,150.3 894.0,149.2 895.6,147.6 897.1,146.5 898.7,145.8 900.2,144.4 901.8,142.7 903.4,141.3 905.1,140.5 907.0,140.3 909.0,139.6 911.0,140.0 912.8,140.9 914.6,141.5 916.5,142.1 918.5,142.4 920.3,142.0 921.6,140.8 922.6,138.8 923.7,137.0 924.9,135.7 926.4,134.4 928.4,133.6 930.3,133.8 932.1,134.5 933.8,135.4 935.5,136.2 937.2,137.6 939.0,139.2 940.8,140.1 942.6,140.9 944.4,141.7 946.2,142.2 948.1,142.8 949.9,143.8 951.7,145.0 953.6,146.0 955.4,146.7 957.3,147.5 959.2,148.0 961.1,148.5 963.0,149.3 964.9,149.9 966.8,150.3 968.7,150.8 970.7,151.0 972.2,150.9" fill="none" stroke="#7f7f7f" stroke-width="3.8" stroke-linejoin="round" stroke-linecap="round"/>
<polyline points="170.6,500.0 170.8,498.0 171.0,496.0 171.3,494.0 171.5,492.1 171.7,490.1 172.0,488.1 172.2,486.1 172.4,484.1 172.6,482.1 172.9,480.1 173.1,478.1 173.3,476.2 173.5,474.2 173.8,472.2 174.0,470.2 174.2,468.2 174.4,466.2 174.7,464.2 174.9,462.2 175.1,460.3 175.3,458.3 175.5,456.3 175.8,454.3 176.0,452.3 176.2,450.3 176.4,448.3 176.6,446.3 176.8,444.3 177.1,442.4 177.3,440.4 177.5,438.4 177.6,436.4 177.8,434.4 178.0,432.4 178.1,430.4 178.2,428.4 178.3,426.4 178.4,424.4 178.5,422.4 178.7,420.4 178.8,418.4 179.0,416.4 179.1,414.4 179.3,412.4 179.4,410.5 179.6,408.5 179.8,406.5 179.9,404.5 180.1,402.5 180.2,400.5 180.4,398.5 180.6,396.5 180.7,394.5 180.9,392.5 181.1,390.5 181.2,388.5 181.4,386.5 181.6,384.5 181.8,382.6 181.9,380.6 182.1,378.6 182.3,376.6 182.5,374.6 182.7,372.6 182.8,370.6 183.0,368.6 183.2,366.6 183.4,364.6 183.6,362.6 183.8,360.6 184.1,358.7 184.3,356.7 184.6,354.7 184.8,352.7 185.1,350.7 185.4,348.8 185.8,346.8 186.1,344.8 186.4,342.8 186.8,340.9 187.1,338.9 187.5,336.9 187.9,335.0 188.2,333.0 188.6,331.0 189.0,329.1 189.3,327.1 189.7,325.1 190.1,323.2 190.5,321.2 190.9,319.3 191.2,317.3 191.6,315.3 192.0,313.4 192.3,311.4 192.7,309.4 193.0,307.5 193.4,305.5 193.7,303.5 194.0,301.5 194.4,299.6 194.7,297.6 195.0,295.6 195.3,293.6 195.7,291.7 196.1,289.7 196.5,287.8 196.9,285.8 197.4,283.9 197.9,281.9 198.3,280.0 198.8,278.0 199.3,276.1 199.7,274.1 200.1,272.2 200.4,270.2 200.8,268.2 201.1,266.3 201.4,264.3 201.8,262.3 202.2,260.4 202.6,258.4 203.0,256.4 203.5,254.5 204.0,252.6 204.5,250.6 205.1,248.7 205.7,246.8 206.2,244.9 206.8,243.0 207.4,241.1 208.0,239.1 208.6,237.2 209.2,235.3 209.8,233.4 210.4,231.5 211.1,229.6 211.7,227.7 212.4,225.9 213.2,224.0 213.9,222.2 214.8,220.3 215.8,218.6 217.4,217.5 218.8,218.9 219.8,220.6 220.4,222.5 221.0,224.4 221.6,226.3 222.1,228.3 222.6,230.2 223.1,232.1 223.7,234.1 224.3,236.0 224.9,237.9 225.5,240.0 226.1,242.0 226.6,244.2 227.2,246.2 227.7,248.0 228.3,250.1 228.9,252.0 229.5,253.9 230.2,255.8 231.3,257.2 232.3,258.6 234.3,258.9 236.3,258.5 238.1,257.5 239.9,256.6 241.8,256.2 243.8,256.0 245.8,255.9 247.8,255.9 249.8,255.9 251.8,255.7 253.8,255.6 255.8,255.7 257.8,255.1 259.7,254.4 261.4,253.6 263.1,253.0 265.0,252.4 266.9,251.3 268.8,250.5 270.8,250.5 272.8,250.8 274.7,250.3 276.7,249.8 278.7,249.5 280.6,249.1 282.6,248.6 284.6,247.7 286.6,247.2 288.5,247.3 290.5,247.2 292.5,247.1 294.5,247.1 296.5,247.3 298.5,247.7 300.5,247.2 302.5,246.9 304.4,247.1 306.4,246.8 308.4,246.1 310.3,245.4 312.3,245.3 314.3,245.3 316.2,244.7 318.2,244.2 320.1,244.4 322.1,244.4 324.1,243.9 326.0,243.4 328.0,243.0 330.0,242.5 331.9,242.4 333.9,242.1 335.8,241.3 337.8,240.7 339.8,240.5 341.7,240.0 343.7,239.6 345.7,239.7 347.6,239.6 349.6,239.3 351.6,238.6 353.6,237.4 355.6,236.7 357.5,236.9 359.5,237.4 361.5,237.3 363.5,236.4 365.5,235.7 367.5,235.3 369.4,235.1 371.4,235.1 373.4,235.3 375.4,235.5 377.4,235.1 379.4,234.3 381.3,233.7 383.3,233.7 385.3,233.8 387.3,233.6 389.3,233.0 391.2,232.2 393.2,232.0 395.2,232.1 397.1,232.1 399.1,231.5 401.0,230.6 403.0,230.0 404.9,229.5 406.8,229.3 408.7,228.7 410.5,227.3 412.4,226.2 414.3,226.0 416.1,225.6 418.0,224.3 419.9,223.4 421.8,223.1 423.7,223.0 425.6,222.4 427.5,221.7 429.4,221.4 431.4,221.0 433.3,220.7 435.2,219.9 437.2,218.7 439.1,218.3 441.0,218.3 442.9,217.4 444.9,216.8 446.8,216.5 448.7,216.0 450.6,215.4 452.5,214.1 454.3,213.4 456.2,213.3 458.0,212.5 459.8,211.5 461.6,210.5 463.3,209.7 465.1,208.4 466.8,207.0 468.5,206.2 470.2,205.7 472.0,205.1 473.7,204.3 475.5,203.3 477.3,202.2 479.1,201.2 480.9,200.3 482.8,199.6 484.7,199.1 486.7,198.3 488.6,197.6 490.5,197.0 492.4,196.2 494.3,195.5 496.1,194.6 497.9,193.5 499.6,192.5 501.3,191.8 502.9,190.3 504.4,188.8 505.9,187.7 507.3,186.6 508.7,185.0 510.1,183.4 511.5,182.4 512.8,180.9 514.1,178.9 515.4,177.3 516.7,176.1 518.0,174.8 519.3,173.4 520.6,171.9 521.9,170.1 523.2,168.3 524.5,166.5 525.9,165.3 527.2,164.4 528.5,162.9 529.8,161.1 531.1,159.9 532.4,158.8 533.7,156.8 535.0,154.6 536.3,152.9 537.6,151.9 538.9,150.9 540.2,149.3 541.5,147.3 542.8,145.5 544.0,144.2 545.2,142.4 546.3,140.5 547.3,138.9 548.3,137.2 549.4,135.2 550.7,133.9 552.3,133.1 554.2,132.7 556.2,133.0 558.1,133.7 559.9,134.7 561.7,135.0 563.5,135.4 565.2,136.5 566.9,138.0 568.5,139.4 570.2,140.4 571.9,141.9 573.7,143.3 575.4,143.7 577.3,144.3 579.2,145.3 581.1,145.8 583.0,145.8 585.0,146.3 586.9,146.7 588.8,147.3 590.6,148.3 592.4,148.7 594.2,149.6 595.8,151.4 597.5,152.8 599.2,153.6 600.8,154.2 602.4,155.7 604.0,157.2 605.7,157.9 607.4,158.6 609.1,160.0 610.8,161.3 612.6,161.8 614.6,162.1 616.6,162.5 618.6,162.2 620.4,161.2 622.2,160.1 624.0,159.3 625.9,158.8 627.8,158.9 629.8,158.6 631.7,158.0 633.7,157.6 635.7,157.5 637.7,157.4 639.7,157.2 641.7,157.0 643.7,156.8 645.6,157.2 647.5,158.4 649.3,159.3 651.0,159.9 652.8,161.2 654.6,162.3 656.5,162.6 658.3,163.2 660.2,164.3 662.1,164.9 664.1,165.1 666.0,165.7 667.9,166.7 669.8,167.1 671.7,167.1 673.7,167.8 675.6,168.3 677.5,168.4 679.5,169.0 681.4,169.9 683.3,170.3 685.3,170.7 687.2,171.3 689.2,171.9 691.1,172.7 693.1,173.4 695.1,173.3 697.0,172.9 699.0,173.0 701.0,173.3 703.0,173.5 705.0,173.4 707.0,173.1 708.9,172.2 710.9,171.6 712.8,171.7 714.7,171.6 716.6,170.8 718.6,169.9 720.6,169.7 722.6,170.0 724.6,170.4 726.6,171.1 728.5,171.3 730.4,171.6 732.4,172.5 734.3,173.2 736.3,173.4 738.3,173.2 740.3,173.4 742.3,174.0 744.2,173.4 746.1,172.6 748.0,171.8 749.8,170.7 751.6,170.2 753.4,169.9 755.2,169.1 757.0,167.8 758.8,166.6 760.6,166.0 762.4,165.3 764.3,164.4 766.2,163.9 768.2,164.0 770.2,164.4 772.1,164.9 774.0,165.2 775.7,165.8 777.5,166.7 779.2,167.5 781.1,168.0 783.0,168.6 785.0,169.1 787.0,169.5 789.0,169.6 791.0,169.1 793.0,168.9 795.0,168.9 797.0,168.5 799.0,168.4 801.0,168.2 802.9,168.3 804.9,168.4 806.9,167.8 808.9,167.8 810.9,168.7 812.9,168.9 814.8,169.2 816.6,169.9 818.5,170.6 820.5,171.0 822.5,171.7 824.4,171.4 826.3,170.2 828.2,169.5 830.0,169.1 831.9,168.5 833.8,168.0 835.8,168.2 837.7,169.1 839.5,169.7 841.1,170.7 842.7,171.6 844.4,172.4 846.4,173.0 848.3,172.6 849.9,171.3 851.1,169.6 852.2,167.7 853.2,166.4 854.2,165.3 855.2,163.3 856.3,161.4 857.6,160.2 859.2,159.0 861.0,157.5 862.9,156.9 864.9,157.2 866.9,157.4 868.9,157.8 870.9,158.2 872.9,158.4 874.9,158.6 876.9,158.4 878.9,158.0 880.9,157.6 882.8,157.4 884.8,157.2 886.7,156.9 888.6,156.1 890.5,155.0 892.4,154.4 894.3,153.9 896.1,153.3 898.0,152.6 899.8,151.5 901.7,150.9 903.6,150.5 905.4,149.3 907.2,148.5 909.0,148.2 910.7,147.4 912.5,146.6 914.4,146.1 916.4,145.4 918.4,145.3 920.2,146.4 922.0,147.7 923.7,148.6 925.2,149.2 926.8,149.8 928.5,150.9 930.4,152.3 932.4,152.5 934.0,151.3 935.3,149.2 936.5,147.3 937.8,145.9 939.5,145.1 941.5,144.8 943.4,145.2 945.2,146.3 946.9,147.9 948.5,149.3 950.1,150.3 951.7,151.2 953.4,152.0 955.2,152.8 957.1,153.5 959.1,153.9 961.0,154.4 963.0,154.9 965.0,155.1 967.0,155.2 969.0,155.3 970.9,155.1 972.2,155.2" fill="none" stroke="#bcbd22" stroke-width="3.8" stroke-linejoin="round" stroke-linecap="round"/>
<polyline points="170.6,527.0 170.6,525.7 170.6,524.4 170.6,523.1 170.7,521.8 170.8,523.1 170.9,524.4 170.9,525.7 170.9,527.0 170.9,528.3 170.9,529.6 170.9,530.9 171.0,532.2 171.0,533.5 171.5,532.3 171.8,531.0 172.0,529.7 172.2,528.4 172.4,527.2 172.6,525.9 172.8,524.6 173.0,523.3 173.2,522.0 173.4,520.7 173.6,519.4 173.8,518.2 173.9,516.9 174.1,515.6 174.3,514.3 174.4,513.0 174.6,511.7 174.7,510.4 174.8,509.1 175.0,507.8 175.1,506.5 175.2,505.2 175.4,504.0 175.5,502.7 175.6,501.4 175.7,500.1 175.8,498.8 175.9,497.5 176.0,496.2 176.1,494.9 176.1,493.6 176.2,492.3 176.3,491.0 176.4,489.7 176.5,488.4 176.5,487.1 176.6,485.8 176.7,484.5 176.7,483.2 176.8,481.9 176.9,480.6 176.9,479.3 177.0,478.0 177.1,476.7 177.1,475.4 177.2,474.1 177.2,472.8 177.3,471.5 177.4,470.2 177.4,468.9 177.5,467.6 177.5,466.3 177.6,465.0 177.6,463.7 177.7,462.4 177.8,461.1 177.8,459.8 177.9,458.5 177.9,457.2 178.0,455.9 178.0,454.6 178.1,453.3 178.1,452.0 178.2,450.7 178.3,449.4 178.3,448.1 178.4,446.8 178.4,445.5 178.5,444.2 178.6,442.9 178.6,441.6 178.7,440.3 178.7,439.0 178.8,437.7 178.9,436.4 178.9,435.1 179.0,433.8 179.1,432.6 179.1,431.3 179.2,430.0 179.2,428.7 179.3,427.4 179.4,426.1 179.5,424.8 179.6,423.5 179.6,422.2 179.7,420.9 179.8,419.6 179.9,418.3 180.0,417.0 180.1,415.7 180.2,414.4 180.3,413.1 180.4,411.8 180.5,410.5 180.6,409.2 180.7,407.9 180.8,406.6 180.9,405.3 181.0,404.0 181.1,402.7 181.2,401.4 181.3,400.1 181.4,398.8 181.5,397.5 181.6,396.2 181.7,394.9 181.8,393.7 181.9,392.4 182.0,391.1 182.2,389.8 182.3,388.5 182.4,387.2 182.5,385.9 182.6,384.6 182.7,383.3 182.8,382.0 182.9,380.7 183.1,379.4 183.2,378.1 183.3,376.8 183.4,375.5 183.5,374.2 183.6,372.9 183.7,371.6 183.8,370.3 183.9,369.0 184.1,367.7 184.2,366.5 184.3,365.2 184.4,363.9 184.5,362.6 184.7,361.3 184.8,360.0 185.0,358.7 185.1,357.4 185.3,356.1 185.5,354.8 185.6,353.5 185.8,352.3 186.0,351.0 186.2,349.7 186.4,348.4 186.6,347.1 186.9,345.8 187.1,344.6 187.3,343.3 187.5,342.0 187.8,340.7 188.0,339.4 188.3,338.2 188.5,336.9 188.8,335.6 189.0,334.3 189.3,333.1 189.5,331.8 189.8,330.5 190.0,329.2 190.3,328.0 190.5,326.7 190.8,325.4 191.1,324.1 191.3,322.9 191.6,321.6 191.8,320.3 192.1,319.0 192.4,317.8 192.6,316.5 192.9,315.2 193.1,313.9 193.4,312.7 193.6,311.4 193.9,310.1 194.1,308.8 194.4,307.6 194.6,306.3 194.8,305.0 195.0,303.7 195.3,302.4 195.5,301.2 195.7,299.9 195.9,298.6 196.2,297.3 196.4,296.0 196.6,294.8 196.8,293.5 197.1,292.2 197.3,290.9 197.6,289.7 197.8,288.4 198.1,287.1 198.4,285.8 198.7,284.6 199.0,283.3 199.4,282.1 199.7,280.8 200.0,279.5 200.3,278.3 200.6,277.0 200.8,275.7 201.1,274.5 201.3,273.2 201.6,271.9 201.8,270.6 202.0,269.3 202.2,268.1 202.4,266.8 202.6,265.5 202.8,264.2 203.1,262.9 203.3,261.6 203.5,260.4 203.7,259.1 204.0,257.8 204.2,256.5 204.5,255.3 204.8,254.0 205.1,252.7 205.4,251.5 205.7,250.2 206.1,249.0 206.4,247.7 206.8,246.5 207.2,245.2 207.5,243.9 207.9,242.7 208.2,241.4 208.6,240.2 209.0,239.0 209.3,237.7 209.7,236.5 210.1,235.2 210.5,234.0 210.9,232.8 211.3,231.5 211.7,230.3 212.2,229.1 212.6,227.9 213.2,226.7 213.7,225.5 214.3,224.3 214.9,223.2 215.8,222.2 217.0,222.7 217.9,223.7 218.7,224.7 219.2,225.9 219.6,227.1 220.0,228.3 220.4,229.6 220.7,230.8 221.1,232.1 221.5,233.3 221.9,234.6 222.3,235.8 222.7,237.0 223.2,238.2 223.7,239.4 224.4,240.6 225.0,241.7 225.6,242.6 226.3,243.4 227.0,245.9 227.7,245.2 228.4,246.7 229.1,248.3 229.9,249.0 230.7,251.2 231.5,250.7 232.3,252.4 233.3,254.1 234.3,253.8 235.3,254.6 236.5,256.1 237.6,256.9 238.9,256.5 240.1,257.2 241.4,257.1 242.7,256.5 244.0,256.4 245.3,255.8 246.5,256.3 247.7,256.1 248.8,255.2 249.8,254.1 250.9,252.8 251.9,253.2 252.9,250.6 254.0,251.0 255.0,249.3 256.1,249.3 257.1,249.1 258.1,248.4 259.1,247.0 260.1,246.9 261.2,245.1 262.2,244.4 263.3,242.8 264.4,242.2 265.5,242.3 266.7,242.4 267.9,241.9 269.1,240.7 270.4,241.5 271.7,239.5 272.9,240.1 274.2,239.4 275.5,239.0 276.8,239.2 278.1,239.8 279.4,238.5 280.7,239.2 281.9,239.2 283.2,238.6 284.5,238.6 285.8,237.9 287.1,237.8 288.4,237.2 289.7,237.9 291.0,237.4 292.3,238.1 293.6,237.8 294.9,237.6 296.2,236.5 297.4,237.4 298.7,237.0 300.0,236.9 301.3,236.5 302.6,236.8 303.9,235.7 305.2,237.1 306.5,235.6 307.8,236.5 309.1,235.2 310.4,235.9 311.7,236.0 313.0,235.8 314.3,235.8 315.6,235.0 316.9,235.3 318.2,236.0 319.5,234.9 320.7,235.5 322.0,234.0 323.3,234.4 324.6,233.7 325.9,233.7 327.2,235.0 328.5,234.2 329.8,234.1 331.1,234.3 332.4,234.0 333.7,234.1 335.0,234.2 336.3,233.8 337.6,233.8 338.9,232.7 340.2,233.5 341.5,232.8 342.7,233.7 344.0,233.4 345.3,232.1 346.6,232.1 347.9,231.6 349.2,231.7 350.5,231.1 351.8,232.1 353.1,232.2 354.4,231.9 355.7,231.2 356.9,231.7 358.2,230.7 359.5,230.3 360.8,229.5 362.1,231.0 363.4,230.7 364.7,230.8 365.9,229.9 367.2,228.6 368.5,230.2 369.8,229.4 371.1,229.7 372.4,227.8 373.6,229.4 374.9,227.5 376.2,227.6 377.5,227.1 378.8,226.7 380.1,227.0 381.3,227.2 382.6,226.9 383.9,227.6 385.2,226.0 386.5,226.4 387.8,225.7 389.0,226.5 390.3,225.0 391.6,226.1 392.9,226.2 394.2,225.3 395.5,225.9 396.8,225.3 398.1,225.3 399.3,225.5 400.6,225.3 401.9,223.8 403.2,224.7 404.5,223.2 405.8,223.8 407.1,223.7 408.4,223.2 409.7,223.8 411.0,224.3 412.3,222.5 413.6,222.4 414.9,222.3 416.1,221.9 417.4,223.5 418.7,223.1 420.0,221.8 421.3,221.6 422.6,222.0 423.9,222.7 425.2,221.7 426.5,221.6 427.8,222.2 429.1,220.6 430.4,220.6 431.7,221.5 432.9,221.3 434.2,220.7 435.5,220.1 436.8,219.9 438.1,221.0 439.4,220.7 440.7,220.6 442.0,219.5 443.2,219.2 444.5,218.3 445.8,218.2 447.1,218.4 448.4,219.2 449.7,218.0 450.9,218.6 452.2,217.4 453.5,218.4 454.8,216.9 456.1,217.4 457.3,217.2 458.6,216.1 459.9,217.3 461.2,215.4 462.4,216.0 463.7,215.7 465.0,215.3 466.3,216.2 467.5,215.2 468.8,214.4 470.1,214.5 471.3,214.9 472.6,214.9 473.9,213.3 475.1,214.2 476.4,213.0 477.7,211.9 478.9,213.3 480.2,211.0 481.4,211.3 482.6,210.8 483.9,210.1 485.1,209.7 486.3,209.4 487.6,209.2 488.8,208.5 490.0,208.0 491.2,207.8 492.4,208.3 493.5,206.3 494.7,205.9 495.9,205.4 497.1,205.9 498.2,205.0 499.4,203.9 500.5,202.7 501.6,203.2 502.8,201.4 503.9,201.4 505.1,201.0 506.2,199.9 507.3,198.7 508.4,198.1 509.5,198.0 510.6,197.4 511.6,195.9 512.7,195.3 513.8,194.8 514.8,195.3 515.9,194.1 516.9,192.3 518.0,193.0 519.0,190.7 520.0,191.2 521.1,189.7 522.1,189.4 523.2,188.8 524.2,187.8 525.3,187.4 526.4,186.7 527.4,185.6 528.5,185.3 529.6,184.6 530.6,184.0 531.7,182.1 532.8,182.4 533.9,180.0 534.9,180.2 536.0,179.8 537.0,178.4 538.1,177.7 539.2,176.8 540.2,175.7 541.2,174.7 542.2,174.8 543.2,173.6 544.1,172.7 545.0,172.1 545.9,171.1 546.8,169.5 547.8,169.3 548.8,168.9 549.9,167.3 551.2,166.7 552.5,168.1 553.8,167.1 555.0,168.2 556.1,169.5 557.2,170.2 558.2,171.3 559.2,170.9 560.2,172.1 561.1,172.8 562.1,173.6 563.1,175.2 564.0,176.3 565.0,176.2 566.0,176.8 567.0,178.1 568.1,178.8 569.1,179.8 570.1,181.2 571.1,181.4 572.2,181.5 573.2,183.1 574.2,183.6 575.2,184.1 576.2,186.1 577.2,186.5 578.3,187.2 579.3,187.8 580.3,188.0 581.3,188.9 582.4,190.4 583.4,190.1 584.5,191.2 585.6,193.1 586.7,193.3 587.8,192.9 588.9,193.4 590.0,194.9 591.2,194.7 592.3,197.0 593.5,197.2 594.7,196.6 595.9,197.5 597.1,197.8 598.4,197.9 599.6,199.6 600.8,199.2 602.0,199.3 603.3,200.7 604.5,200.0 605.8,201.1 607.0,202.0 608.2,201.2 609.5,203.2 610.7,203.2 611.9,203.8 613.1,203.0 614.4,203.3 615.6,204.4 616.8,204.7 618.0,206.1 619.2,206.8 620.4,205.7 621.6,207.1 622.8,206.6 624.1,207.7 625.3,207.3 626.5,209.2 627.8,209.3 629.0,209.1 630.3,210.4 631.5,210.1 632.8,210.8 634.0,211.4 635.3,210.0 636.6,210.6 637.9,211.4 639.2,212.1 640.5,212.5 641.8,211.4 643.1,210.7 644.4,212.7 645.7,211.0 647.0,212.2 648.3,211.8 649.6,211.7 650.9,211.2 652.2,211.3 653.5,212.4 654.8,212.0 656.1,212.6 657.4,211.0 658.7,211.6 660.0,211.9 661.3,211.9 662.6,212.9 663.9,211.5 665.2,213.0 666.4,212.2 667.7,212.2 669.0,213.1 670.3,212.6 671.6,212.6 672.8,214.2 674.1,214.7 675.4,214.0 676.6,214.2 677.9,215.5 679.2,215.6 680.4,215.4 681.7,215.4 683.0,216.4 684.2,216.0 685.5,216.7 686.8,216.5 688.0,216.8 689.3,218.5 690.6,216.9 691.8,217.4 693.1,218.7 694.4,218.4 695.7,218.4 696.9,219.0 698.2,218.4 699.5,218.8 700.8,218.6 702.1,219.4 703.4,220.1 704.7,219.9 706.0,220.2 707.3,219.4 708.6,218.7 709.9,219.8 711.2,219.1 712.5,219.5 713.8,218.6 715.1,219.0 716.4,219.9 717.7,218.5 719.0,220.0 720.3,218.6 721.6,220.0 722.9,218.8 724.2,219.2 725.5,218.3 726.8,220.2 728.1,220.0 729.4,218.7 730.7,219.5 732.0,220.1 733.3,220.2 734.6,219.0 735.9,220.6 737.2,220.4 738.5,220.7 739.8,220.0 741.1,220.5 742.4,219.6 743.7,220.6 745.0,220.8 746.2,221.2 747.5,219.9 748.8,220.7 750.1,220.9 751.4,220.7 752.7,220.6 754.0,220.6 755.3,221.2 756.6,221.4 757.9,220.6 759.2,220.7 760.5,221.4 761.8,220.3 763.1,220.6 764.4,220.1 765.6,220.1 766.9,219.1 768.2,218.1 769.4,218.7 770.7,217.8 771.9,218.6 773.1,217.4 774.4,217.1 775.6,216.2 776.9,215.5 778.1,216.4 779.3,216.3 780.6,215.8 781.8,213.8 783.0,214.0 784.3,214.5 785.5,212.8 786.8,213.3 788.0,212.5 789.3,212.9 790.6,211.5 791.8,212.6 793.1,211.8 794.4,211.1 795.7,211.0 797.0,211.9 798.3,212.3 799.6,212.3 800.9,210.9 802.2,212.1 803.5,212.1 804.8,212.9 806.1,213.2 807.3,211.7 808.6,212.6 809.9,214.0 811.2,212.5 812.4,214.1 813.7,213.3 815.0,214.3 816.3,214.2 817.5,214.0 818.8,215.2 820.1,214.0 821.4,215.8 822.7,214.5 824.0,215.6 825.3,215.9 826.6,215.1 827.9,215.9 829.2,214.8 830.5,215.0 831.8,214.5 833.1,214.4 834.4,214.4 835.7,215.3 837.0,214.3 838.3,214.8 839.6,214.1 840.9,214.2 842.1,214.1 843.4,214.5 844.7,213.4 845.9,212.5 847.2,212.2 848.4,213.3 849.6,211.8 850.8,210.7 852.0,210.0 853.2,210.7 854.3,208.8 855.5,209.6 856.7,208.8 857.8,208.2 859.0,206.9 860.2,206.6 861.3,206.6 862.5,206.5 863.7,206.2 864.9,204.2 866.1,205.2 867.3,203.8 868.4,202.2 869.6,202.2 870.8,202.3 871.9,200.5 873.1,200.8 874.3,199.7 875.5,199.0 876.7,199.7 877.9,198.1 879.1,197.7 880.4,197.4 881.6,198.0 882.9,197.3 884.1,196.7 885.4,196.0 886.7,196.6 888.0,195.5 889.2,196.7 890.5,195.9 891.8,195.9 893.1,195.2 894.4,194.6 895.7,195.7 897.0,195.7 898.3,194.0 899.6,193.9 900.9,194.6 902.1,195.2 903.4,193.8 904.7,194.1 906.0,194.0 907.2,192.5 908.5,193.3 909.7,193.4 911.0,191.4 912.2,192.1 913.5,191.6 914.7,191.4 916.0,191.4 917.2,190.8 918.5,189.5 919.8,190.8 921.1,189.2 922.3,188.9 923.6,188.4 924.9,188.6 926.2,188.9 927.5,190.2 928.8,189.5 930.1,189.9 931.4,188.9 932.7,189.5 933.9,190.5 935.2,190.1 936.5,190.9 937.7,190.7 939.0,190.6 940.3,191.3 941.5,191.9 942.8,193.0 944.1,193.1 945.3,193.0 946.6,193.0 947.9,193.2 949.2,193.5 950.5,193.7 951.8,193.1 953.0,194.8 954.3,193.8 955.6,193.7 956.9,194.9 958.2,194.5 959.5,194.0 960.8,194.9 962.1,194.0 963.4,195.0 964.7,195.6 966.0,195.7 967.3,195.1 968.6,195.0 969.9,195.7 971.2,196.5 972.2,196.0" fill="none" stroke="#17becf" stroke-width="3.8" stroke-linejoin="round" stroke-linecap="butt" stroke-dasharray="12.9 5.4"/>
<polyline points="170.6,488.0 170.6,486.7 170.6,485.4 170.7,484.1 170.7,485.4 170.8,486.7 170.8,488.0 170.8,489.3 170.7,490.6 170.7,491.9 170.7,493.2 170.7,494.5 170.7,495.8 171.2,494.6 171.5,493.3 171.7,492.0 172.0,490.8 172.2,489.5 172.4,488.2 172.6,486.9 172.8,485.6 173.0,484.3 173.2,483.1 173.4,481.8 173.6,480.5 173.8,479.2 174.0,477.9 174.2,476.6 174.4,475.3 174.6,474.1 174.8,472.8 175.0,471.5 175.2,470.2 175.4,468.9 175.5,467.6 175.7,466.3 175.9,465.1 176.1,463.8 176.3,462.5 176.5,461.2 176.7,459.9 176.9,458.6 177.0,457.3 177.2,456.1 177.4,454.8 177.6,453.5 177.8,452.2 178.0,450.9 178.1,449.6 178.3,448.3 178.5,447.0 178.7,445.8 178.8,444.5 179.0,443.2 179.2,441.9 179.3,440.6 179.5,439.3 179.6,438.0 179.8,436.7 179.9,435.4 180.0,434.1 180.1,432.8 180.1,431.5 180.2,430.2 180.2,428.9 180.1,427.6 180.1,426.3 180.1,425.0 180.2,423.7 180.2,422.4 180.3,421.1 180.4,419.8 180.5,418.5 180.5,417.2 180.6,416.0 180.7,414.7 180.8,413.4 180.9,412.1 181.0,410.8 181.1,409.5 181.2,408.2 181.3,406.9 181.4,405.6 181.5,404.3 181.6,403.0 181.7,401.7 181.8,400.4 181.9,399.1 182.0,397.8 182.1,396.5 182.2,395.2 182.3,393.9 182.4,392.6 182.5,391.3 182.6,390.0 182.7,388.7 182.9,387.4 183.0,386.1 183.1,384.8 183.2,383.6 183.3,382.3 183.4,381.0 183.5,379.7 183.6,378.4 183.8,377.1 183.9,375.8 184.0,374.5 184.1,373.2 184.2,371.9 184.3,370.6 184.4,369.3 184.5,368.0 184.6,366.7 184.7,365.4 184.8,364.1 185.0,362.8 185.1,361.5 185.2,360.2 185.4,359.0 185.5,357.7 185.7,356.4 185.9,355.1 186.1,353.8 186.2,352.5 186.4,351.2 186.6,349.9 186.8,348.7 187.1,347.4 187.3,346.1 187.5,344.8 187.7,343.5 188.0,342.3 188.2,341.0 188.5,339.7 188.7,338.4 189.0,337.1 189.2,335.9 189.5,334.6 189.7,333.3 190.0,332.1 190.3,330.8 190.5,329.5 190.8,328.2 191.1,327.0 191.3,325.7 191.6,324.4 191.8,323.1 192.1,321.9 192.4,320.6 192.6,319.3 192.9,318.1 193.2,316.8 193.4,315.5 193.7,314.2 194.0,313.0 194.2,311.7 194.5,310.4 194.7,309.1 195.0,307.9 195.2,306.6 195.4,305.3 195.7,304.0 195.9,302.7 196.1,301.5 196.4,300.2 196.6,298.9 196.8,297.6 197.0,296.3 197.3,295.1 197.5,293.8 197.8,292.5 198.0,291.2 198.3,290.0 198.5,288.7 198.8,287.4 199.1,286.2 199.4,284.9 199.7,283.6 200.1,282.4 200.4,281.1 200.7,279.8 201.0,278.6 201.2,277.3 201.5,276.0 201.8,274.8 202.0,273.5 202.3,272.2 202.5,270.9 202.7,269.6 202.9,268.4 203.2,267.1 203.4,265.8 203.6,264.5 203.8,263.2 204.0,262.0 204.2,260.7 204.5,259.4 204.7,258.1 204.9,256.8 205.2,255.6 205.4,254.3 205.7,253.0 206.0,251.7 206.2,250.5 206.5,249.2 206.8,247.9 207.1,246.7 207.3,245.4 207.6,244.1 207.8,242.8 208.1,241.6 208.3,240.3 208.6,239.0 208.8,237.7 209.1,236.5 209.3,235.2 209.6,233.9 209.8,232.6 210.1,231.4 210.4,230.1 210.7,228.8 211.1,227.6 211.4,226.3 211.8,225.1 212.3,223.9 213.0,222.8 214.3,222.5 214.9,223.6 215.4,224.9 215.9,226.1 216.2,227.3 216.5,228.6 216.8,229.8 217.1,231.1 217.4,232.4 217.7,233.6 217.9,234.9 218.2,236.2 218.4,237.5 218.7,238.7 218.9,240.0 219.2,241.3 219.4,242.6 219.7,243.8 219.9,245.1 220.2,246.4 220.4,247.7 220.7,248.9 221.0,250.2 221.2,251.5 221.5,252.8 221.8,254.0 222.2,255.3 222.5,256.5 223.1,257.7 223.6,258.9 224.1,260.1 224.9,261.1 225.7,262.6 226.9,262.7 228.2,262.5 229.4,261.6 230.3,261.9 231.3,259.9 232.2,258.8 233.2,257.9 234.4,258.4 235.7,257.7 237.0,257.6 238.3,257.5 239.6,257.4 240.9,257.8 242.0,257.9 243.2,256.8 243.9,256.5 244.6,255.0 245.3,253.8 246.1,252.3 247.0,251.5 248.0,251.0 249.2,249.5 250.4,248.9 251.5,248.4 252.7,247.9 253.9,248.9 255.1,248.1 256.2,247.3 257.4,245.7 258.5,246.5 259.7,245.3 260.8,244.4 262.0,243.5 263.2,242.4 264.3,243.7 265.5,241.3 266.8,242.0 268.1,242.3 269.4,241.6 270.7,242.8 271.9,241.0 273.0,240.0 274.0,239.3 275.0,238.3 276.0,238.4 276.9,236.8 277.9,235.9 278.9,235.0 279.9,234.0 280.9,233.5 282.0,232.5 283.1,231.9 284.2,231.9 285.4,231.4 286.5,231.1 287.7,229.7 288.8,229.3 290.0,228.6 291.2,227.6 292.4,228.5 293.5,227.6 294.8,226.2 296.0,227.0 297.2,225.5 298.4,226.1 299.7,226.1 300.9,225.5 302.2,224.4 303.5,224.3 304.7,223.8 306.0,223.6 307.3,224.3 308.6,223.9 309.9,223.6 311.2,223.7 312.5,223.2 313.8,223.2 315.1,222.7 316.4,221.7 317.7,222.4 319.0,221.8 320.3,222.5 321.6,221.6 322.9,222.7 324.2,222.3 325.5,222.0 326.8,223.4 328.1,223.3 329.4,222.5 330.7,222.8 332.0,222.4 333.2,222.6 334.5,223.7 335.8,223.9 337.1,223.1 338.4,222.9 339.7,224.2 341.0,223.2 342.3,223.0 343.6,223.7 344.9,223.7 346.2,224.3 347.5,223.4 348.8,223.3 350.1,224.2 351.4,223.9 352.7,224.7 354.0,223.5 355.3,224.0 356.6,224.6 357.9,224.6 359.2,223.0 360.5,224.2 361.8,224.1 363.1,223.9 364.4,222.4 365.7,223.4 366.9,223.5 368.2,222.7 369.5,222.8 370.8,220.8 372.0,221.1 373.3,221.2 374.6,220.0 375.8,220.4 377.1,220.0 378.4,219.7 379.6,220.7 380.9,219.7 382.2,219.3 383.4,218.0 384.6,217.6 385.8,218.2 387.1,218.4 388.3,216.1 389.5,217.0 390.8,215.4 392.1,216.1 393.4,215.3 394.7,216.4 396.0,215.0 397.3,216.3 398.6,216.4 399.9,215.3 401.2,215.1 402.5,215.9 403.8,215.4 405.0,215.9 406.3,216.2 407.6,215.9 408.9,217.5 410.2,216.3 411.5,218.0 412.8,216.9 414.1,216.6 415.4,216.9 416.7,216.9 418.0,218.9 419.2,218.5 420.5,218.0 421.8,219.1 423.1,218.5 424.4,218.7 425.7,218.3 427.0,219.3 428.3,217.9 429.6,219.9 430.9,219.5 432.2,219.2 433.5,218.3 434.8,218.8 436.1,218.5 437.4,218.6 438.7,218.6 440.0,220.2 441.3,220.1 442.6,220.2 443.9,220.5 445.2,219.4 446.5,219.7 447.8,220.7 449.1,219.3 450.4,219.1 451.7,220.8 453.0,219.5 454.3,220.3 455.6,220.1 456.9,219.6 458.2,220.8 459.5,219.9 460.8,220.5 462.1,219.5 463.4,219.5 464.7,219.6 466.0,221.0 467.3,220.7 468.6,219.9 469.9,220.4 471.2,220.4 472.5,219.9 473.8,220.8 475.1,219.5 476.4,219.5 477.7,220.0 479.0,219.7 480.3,220.6 481.6,220.1 482.8,220.3 484.1,219.6 485.4,218.6 486.7,219.6 488.0,219.6 489.3,218.9 490.5,218.1 491.8,219.0 493.1,217.1 494.3,218.4 495.6,217.1 496.8,216.9 498.0,216.7 499.3,216.8 500.5,215.2 501.7,214.9 503.0,214.5 504.2,214.6 505.4,213.1 506.6,213.3 507.8,212.0 509.1,211.7 510.3,212.7 511.5,212.3 512.7,211.0 513.9,210.1 515.1,210.0 516.3,209.5 517.5,208.6 518.6,208.1 519.8,207.4 521.0,207.2 522.1,205.9 523.3,205.3 524.4,205.2 525.6,205.0 526.7,204.8 527.9,202.9 529.0,203.2 530.2,201.9 531.4,202.7 532.5,201.8 533.6,201.3 534.7,200.5 535.8,199.7 537.0,198.0 538.3,199.3 539.6,198.3 540.9,198.3 542.2,198.0 543.5,198.7 544.7,198.0 546.0,199.8 547.2,198.6 548.4,199.5 549.6,200.8 550.8,200.2 552.0,202.5 553.1,203.2 554.1,202.7 555.2,203.7 556.2,204.5 557.2,204.9 558.1,206.2 559.0,207.1 559.9,208.6 560.7,210.0 561.5,211.0 562.3,210.5 563.0,212.3 563.8,214.3 564.6,215.0 565.3,215.2 566.1,216.1 566.8,217.5 567.6,218.4 568.4,220.4 569.2,219.8 570.0,221.0 570.9,223.2 571.7,223.4 572.6,223.9 573.5,226.5 574.5,225.8 575.4,228.2 576.4,227.7 577.4,228.9 578.4,229.7 579.5,230.4 580.6,230.7 581.7,232.4 582.9,232.5 584.0,233.1 585.2,233.9 586.3,234.7 587.4,234.9 588.5,235.0 589.6,236.8 590.7,237.3 591.8,237.0 592.9,238.4 594.0,239.3 595.2,239.6 596.3,241.2 597.4,240.9 598.6,242.1 599.8,241.9 600.9,243.1 602.1,243.2 603.3,244.7 604.5,244.3 605.7,244.8 606.9,245.3 608.1,246.6 609.3,245.4 610.5,247.2 611.8,247.9 613.0,248.4 614.2,248.4 615.4,248.5 616.6,249.1 617.8,250.1 619.1,250.1 620.3,251.2 621.5,250.7 622.8,252.0 624.0,252.4 625.3,251.1 626.6,251.8 627.9,252.5 629.2,252.2 630.5,251.6 631.8,252.2 633.1,252.2 634.4,251.4 635.6,252.0 636.9,252.4 638.2,251.2 639.5,251.5 640.8,250.3 642.1,250.7 643.4,251.1 644.7,251.5 646.0,250.8 647.2,250.7 648.5,250.3 649.8,250.5 651.1,250.5 652.4,249.9 653.7,248.6 655.0,249.3 656.3,249.3 657.6,250.1 658.9,249.6 660.2,249.5 661.5,249.5 662.8,249.2 664.1,249.2 665.4,248.9 666.7,248.8 668.0,250.4 669.3,250.8 670.6,250.0 671.9,249.3 673.2,251.0 674.4,251.0 675.7,249.8 677.0,250.6 678.3,251.5 679.6,250.2 680.9,251.5 682.2,251.8 683.5,250.2 684.8,251.5 686.1,251.9 687.4,250.5 688.7,251.8 690.0,252.3 691.3,252.5 692.6,252.3 693.9,251.6 695.2,252.5 696.5,251.0 697.8,251.6 699.1,251.9 700.4,252.1 701.7,253.0 703.0,251.7 704.3,251.4 705.6,252.7 706.9,251.8 708.2,252.9 709.5,251.5 710.8,251.5 712.1,250.9 713.4,252.4 714.7,252.5 716.0,251.9 717.3,251.1 718.6,251.1 719.9,251.2 721.2,250.6 722.4,250.2 723.7,250.4 725.0,250.5 726.3,250.6 727.6,249.7 728.9,250.2 730.2,249.5 731.5,249.8 732.8,249.6 734.1,249.3 735.4,250.3 736.7,249.4 737.9,248.9 739.2,248.4 740.5,249.6 741.8,248.4 743.1,248.4 744.4,247.4 745.7,247.8 747.0,248.7 748.2,248.5 749.5,248.4 750.8,247.7 752.1,247.7 753.4,247.6 754.7,246.2 756.0,246.7 757.3,247.1 758.6,247.4 759.9,245.8 761.2,246.4 762.5,246.5 763.8,247.4 765.1,246.2 766.4,246.2 767.7,246.6 769.0,247.6 770.2,247.4 771.5,247.7 772.8,246.8 774.1,247.1 775.4,248.6 776.7,248.0 778.0,247.4 779.3,247.4 780.6,248.8 781.9,247.5 783.2,247.6 784.5,248.6 785.8,247.9 787.1,247.4 788.4,248.6 789.7,247.6 791.0,247.2 792.3,248.0 793.6,247.3 794.9,246.9 796.2,247.4 797.5,246.7 798.8,248.2 800.1,247.2 801.4,247.1 802.7,247.8 804.0,247.2 805.3,247.6 806.6,247.2 807.9,246.4 809.2,247.4 810.5,246.6 811.8,246.6 813.1,246.8 814.4,245.6 815.6,245.8 816.9,246.7 818.2,246.5 819.5,246.0 820.8,245.0 822.1,244.4 823.4,244.6 824.7,244.5 825.9,244.1 827.2,243.8 828.5,243.9 829.8,244.7 831.0,243.3 832.3,243.0 833.6,243.4 834.8,243.4 836.1,242.9 837.3,242.0 838.6,241.5 839.8,241.2 841.1,241.8 842.3,240.5 843.6,240.9 844.8,239.0 846.1,240.3 847.3,239.2 848.6,238.8 849.8,238.3 851.1,237.8 852.3,236.7 853.6,238.1 854.9,236.5 856.1,237.2 857.4,235.4 858.6,236.8 859.9,236.2 861.1,235.7 862.4,235.8 863.6,235.4 864.9,234.2 866.1,234.1 867.4,233.7 868.7,234.0 869.9,232.3 871.2,231.9 872.4,231.4 873.7,232.7 875.0,232.2 876.2,230.8 877.5,231.2 878.8,231.3 880.0,230.9 881.3,231.0 882.6,230.8 883.9,229.6 885.2,229.5 886.5,228.9 887.8,228.6 889.0,229.1 890.3,228.2 891.6,229.3 892.9,229.6 894.2,228.0 895.5,227.7 896.8,228.5 898.1,228.4 899.4,227.2 900.7,228.4 901.9,228.2 903.2,227.9 904.5,228.3 905.8,226.7 907.1,227.0 908.4,226.7 909.7,227.0 911.0,226.4 912.3,227.9 913.6,226.0 914.9,227.0 916.2,226.7 917.5,226.2 918.8,227.5 920.1,226.6 921.4,226.8 922.7,227.0 924.0,228.1 925.3,226.8 926.6,228.5 927.9,228.7 929.2,228.7 930.4,228.8 931.7,228.7 933.0,228.4 934.3,230.0 935.5,229.4 936.8,230.4 938.1,229.9 939.3,231.0 940.6,231.0 941.9,231.2 943.1,230.9 944.4,232.1 945.7,231.0 946.9,231.4 948.2,232.1 949.5,232.0 950.7,232.4 952.0,232.5 953.3,234.0 954.5,234.2 955.8,233.8 957.0,234.1 958.3,235.5 959.6,235.2 960.8,235.0 962.1,235.2 963.3,236.0 964.6,236.7 965.8,237.1 967.1,237.8 968.4,236.4 969.6,238.4 970.9,237.4 972.1,238.0 972.2,237.7" fill="none" stroke="#1f77b4" stroke-width="3.8" stroke-linejoin="round" stroke-linecap="butt" stroke-dasharray="12.9 5.4"/>
<polyline points="170.6,520.0 170.6,518.7 170.6,517.4 170.6,516.1 170.6,514.8 170.7,513.5 170.7,512.2 170.7,510.9 170.8,512.2 170.9,513.5 170.9,514.8 170.9,516.1 170.9,517.4 170.9,518.7 170.9,520.0 170.9,521.3 171.0,522.6 171.0,523.9 171.1,525.2 171.7,524.0 172.1,522.8 172.4,521.5 172.6,520.2 172.8,519.0 173.0,517.7 173.2,516.4 173.4,515.1 173.6,513.8 173.7,512.5 173.9,511.2 174.1,509.9 174.2,508.7 174.3,507.4 174.5,506.1 174.6,504.8 174.7,503.5 174.8,502.2 174.9,500.9 175.0,499.6 175.1,498.3 175.2,497.0 175.3,495.7 175.4,494.4 175.5,493.1 175.5,491.8 175.6,490.5 175.7,489.2 175.8,487.9 175.8,486.6 175.9,485.3 176.0,484.0 176.0,482.7 176.1,481.4 176.2,480.1 176.2,478.8 176.3,477.5 176.3,476.2 176.4,474.9 176.5,473.6 176.5,472.3 176.6,471.0 176.6,469.7 176.7,468.4 176.8,467.1 176.8,465.8 176.9,464.5 176.9,463.2 177.0,461.9 177.0,460.6 177.1,459.3 177.2,458.0 177.2,456.8 177.3,455.5 177.3,454.2 177.4,452.9 177.5,451.6 177.5,450.3 177.6,449.0 177.6,447.7 177.7,446.4 177.7,445.1 177.8,443.8 177.9,442.5 177.9,441.2 178.0,439.9 178.1,438.6 178.1,437.3 178.2,436.0 178.3,434.7 178.4,433.4 178.4,432.1 178.5,430.8 178.6,429.5 178.6,428.2 178.7,426.9 178.8,425.6 178.9,424.3 179.0,423.0 179.1,421.7 179.2,420.4 179.3,419.1 179.4,417.8 179.5,416.5 179.6,415.2 179.7,413.9 179.8,412.6 179.9,411.3 180.0,410.0 180.1,408.7 180.2,407.4 180.3,406.1 180.4,404.9 180.5,403.6 180.6,402.3 180.7,401.0 180.8,399.7 180.9,398.4 181.0,397.1 181.1,395.8 181.3,394.5 181.4,393.2 181.5,391.9 181.6,390.6 181.7,389.3 181.8,388.0 181.9,386.7 182.0,385.4 182.1,384.1 182.2,382.8 182.4,381.5 182.5,380.2 182.6,378.9 182.7,377.7 182.8,376.4 182.9,375.1 183.1,373.8 183.2,372.5 183.3,371.2 183.4,369.9 183.5,368.6 183.6,367.3 183.7,366.0 183.9,364.7 184.0,363.4 184.1,362.1 184.3,360.8 184.4,359.5 184.6,358.2 184.7,356.9 184.9,355.7 185.1,354.4 185.2,353.1 185.4,351.8 185.6,350.5 185.8,349.2 186.0,347.9 186.2,346.7 186.5,345.4 186.7,344.1 186.9,342.8 187.1,341.5 187.4,340.3 187.6,339.0 187.9,337.7 188.1,336.4 188.3,335.2 188.6,333.9 188.8,332.6 189.1,331.3 189.3,330.0 189.6,328.8 189.8,327.5 190.1,326.2 190.3,324.9 190.6,323.7 190.8,322.4 191.1,321.1 191.3,319.8 191.6,318.6 191.8,317.3 192.1,316.0 192.3,314.7 192.6,313.5 192.8,312.2 193.1,310.9 193.3,309.6 193.5,308.4 193.8,307.1 194.0,305.8 194.2,304.5 194.4,303.2 194.7,301.9 194.9,300.7 195.1,299.4 195.3,298.1 195.5,296.8 195.7,295.5 196.0,294.3 196.2,293.0 196.4,291.7 196.7,290.4 196.9,289.2 197.2,287.9 197.5,286.6 197.8,285.3 198.1,284.1 198.4,282.8 198.7,281.6 199.0,280.3 199.3,279.0 199.6,277.8 199.9,276.5 200.2,275.2 200.5,274.0 200.7,272.7 200.9,271.4 201.2,270.1 201.4,268.8 201.6,267.6 201.9,266.3 202.1,265.0 202.3,263.7 202.5,262.4 202.8,261.2 203.0,259.9 203.3,258.6 203.5,257.3 203.8,256.1 204.1,254.8 204.4,253.5 204.7,252.3 205.0,251.0 205.3,249.7 205.7,248.5 206.0,247.2 206.3,246.0 206.7,244.7 207.0,243.5 207.4,242.2 207.7,241.0 208.1,239.7 208.4,238.5 208.8,237.2 209.2,236.0 209.5,234.7 209.9,233.5 210.3,232.3 210.8,231.0 211.2,229.8 211.7,228.6 212.3,227.4 212.9,226.3 213.8,225.3 215.0,225.0 215.9,225.9 216.6,227.0 217.1,228.2 217.7,229.4 218.2,230.6 218.6,231.8 219.1,233.0 219.5,234.2 220.0,235.5 220.5,236.7 221.0,237.9 221.5,239.0 222.1,240.2 222.8,241.3 223.4,242.5 224.0,243.6 224.6,244.8 225.2,247.1 225.9,246.5 226.6,248.7 227.3,249.8 228.1,249.1 229.0,252.2 230.2,251.5 231.3,253.0 232.6,253.4 233.9,252.5 235.2,252.8 236.4,252.4 237.6,251.1 238.8,249.6 240.0,249.5 241.1,248.4 242.3,248.3 243.4,247.4 244.5,248.6 245.6,247.0 246.7,246.2 247.8,245.9 248.9,244.6 250.1,244.3 251.2,244.6 252.4,243.7 253.5,242.4 254.7,242.6 255.9,241.5 257.1,241.5 258.4,239.5 259.6,240.8 260.9,240.6 262.1,240.1 263.4,240.1 264.7,238.8 265.9,238.5 267.2,238.6 268.5,238.2 269.8,238.7 271.1,236.9 272.3,236.8 273.6,237.1 274.9,237.7 276.2,237.7 277.5,236.0 278.8,236.7 280.0,235.9 281.3,235.3 282.6,235.4 283.9,235.1 285.2,236.5 286.5,235.5 287.8,234.9 289.1,234.6 290.4,234.5 291.6,235.5 292.9,234.7 294.2,233.6 295.5,235.4 296.8,233.0 298.1,233.5 299.4,234.0 300.7,234.3 302.0,234.6 303.3,234.2 304.6,233.1 305.8,234.0 307.1,232.3 308.4,233.1 309.7,232.2 311.0,232.6 312.3,232.8 313.6,233.2 314.9,231.6 316.2,232.7 317.5,231.1 318.8,231.3 320.1,231.7 321.4,232.8 322.7,231.0 324.0,230.8 325.3,231.5 326.6,232.5 327.9,231.6 329.2,231.7 330.5,231.4 331.8,230.9 333.1,231.2 334.4,231.2 335.7,230.4 337.0,230.0 338.3,230.3 339.6,231.8 340.9,229.3 342.1,231.2 343.4,231.0 344.7,231.0 346.0,228.9 347.3,230.7 348.6,229.4 349.9,229.2 351.2,229.4 352.5,228.7 353.8,229.0 355.0,229.3 356.3,227.6 357.6,227.9 358.9,227.5 360.2,228.2 361.5,227.4 362.8,228.3 364.0,227.2 365.3,226.2 366.6,227.3 367.9,227.9 369.2,226.7 370.5,226.7 371.8,227.3 373.1,225.2 374.4,227.0 375.7,227.1 377.0,226.0 378.3,225.4 379.6,225.6 380.9,225.9 382.2,225.3 383.5,224.8 384.8,224.9 386.1,224.4 387.3,224.4 388.6,225.8 389.9,224.5 391.2,224.9 392.5,225.1 393.8,225.5 395.1,224.6 396.4,223.5 397.7,224.3 398.9,224.0 400.2,223.9 401.5,224.2 402.8,222.9 404.1,223.8 405.3,221.5 406.6,223.0 407.9,221.1 409.2,220.8 410.5,220.8 411.7,222.0 413.0,221.6 414.3,220.4 415.6,220.0 416.8,220.0 418.1,220.0 419.4,219.3 420.7,219.7 421.9,220.5 423.2,218.0 424.5,219.5 425.8,219.7 427.0,217.3 428.3,217.7 429.6,217.0 430.9,218.3 432.1,217.2 433.4,216.9 434.7,216.7 436.0,217.0 437.2,216.9 438.5,215.6 439.8,216.3 441.1,214.7 442.4,216.5 443.6,215.5 444.9,215.1 446.2,214.5 447.5,213.8 448.8,213.9 450.0,215.0 451.3,213.3 452.6,212.8 453.9,213.2 455.1,214.2 456.4,212.3 457.7,212.0 459.0,213.4 460.3,212.0 461.5,211.3 462.8,210.9 464.1,210.8 465.4,210.7 466.7,210.4 468.0,211.0 469.2,210.8 470.5,211.2 471.8,211.6 473.1,210.3 474.4,209.2 475.7,209.1 477.0,209.3 478.3,210.2 479.6,209.7 480.9,210.2 482.2,210.1 483.5,209.1 484.8,208.3 486.1,209.5 487.4,208.4 488.7,208.5 490.0,210.5 491.3,209.4 492.6,208.6 493.9,208.7 495.2,208.6 496.5,209.1 497.8,210.0 499.1,210.2 500.4,208.3 501.7,210.3 503.0,210.1 504.3,208.9 505.6,208.4 506.9,210.1 508.2,208.9 509.5,208.2 510.8,208.2 512.1,210.2 513.4,208.4 514.7,209.1 516.0,209.5 517.3,210.5 518.6,210.4 519.9,208.4 521.2,210.4 522.5,209.4 523.8,209.9 525.1,209.4 526.4,209.0 527.7,209.2 529.0,209.8 530.3,210.1 531.6,210.0 532.9,209.1 534.2,210.3 535.5,209.1 536.8,209.4 538.1,208.8 539.4,210.3 540.7,209.0 542.0,208.5 543.3,208.5 544.6,210.2 545.9,210.0 547.1,210.7 548.4,210.6 549.6,211.1 550.8,210.5 551.8,211.6 552.8,211.9 553.8,213.6 554.7,213.1 555.5,215.9 556.3,216.0 557.0,216.6 557.7,218.9 558.4,218.8 559.1,219.5 559.7,221.1 560.4,223.8 561.0,224.1 561.7,225.8 562.3,227.4 563.0,228.5 563.7,229.0 564.4,230.2 565.1,231.5 565.9,232.0 566.7,233.4 567.4,234.4 568.2,234.3 569.0,236.8 569.7,237.6 570.6,238.1 571.4,239.1 572.3,240.4 573.2,239.8 574.1,242.3 575.0,242.9 575.9,243.7 576.8,244.5 577.8,245.6 578.7,246.0 579.7,247.9 580.6,249.1 581.6,249.9 582.6,248.8 583.5,250.5 584.5,251.9 585.5,251.7 586.6,252.9 587.6,254.3 588.7,254.7 589.8,256.5 591.0,255.3 592.1,257.3 593.3,258.3 594.5,257.5 595.7,257.8 596.9,258.5 598.1,260.2 599.3,260.2 600.5,259.8 601.7,259.6 602.9,260.0 604.2,261.9 605.4,261.4 606.6,261.3 607.9,261.7 609.1,264.2 610.4,263.9 611.6,263.2 612.9,264.7 614.1,264.8 615.4,264.0 616.7,264.1 617.9,265.2 619.2,265.7 620.5,265.4 621.8,265.0 623.0,265.8 624.3,266.3 625.6,265.6 626.9,266.9 628.2,265.0 629.5,265.9 630.7,265.3 631.8,264.8 632.9,262.9 633.9,262.4 635.0,263.1 636.1,261.0 637.3,262.3 638.5,261.6 639.8,260.7 641.1,260.2 642.3,259.6 643.6,260.0 644.9,260.6 646.2,258.5 647.5,260.3 648.8,260.2 650.1,259.0 651.4,259.4 652.7,259.6 654.0,260.1 655.3,258.8 656.6,258.8 657.9,258.5 659.2,260.0 660.5,258.5 661.8,258.3 663.1,260.1 664.4,259.0 665.7,258.3 667.0,258.1 668.3,258.0 669.6,258.6 670.9,258.5 672.2,257.7 673.5,259.5 674.8,258.1 676.1,258.5 677.4,257.7 678.7,257.7 680.0,257.5 681.3,257.8 682.6,257.7 683.9,259.1 685.2,258.7 686.5,258.7 687.8,258.7 689.1,258.8 690.4,258.1 691.7,258.1 693.0,257.1 694.3,258.3 695.6,257.7 696.9,256.8 698.2,257.3 699.5,256.5 700.8,258.1 702.1,257.4 703.3,256.7 704.6,256.3 705.9,256.2 707.2,256.8 708.5,257.3 709.8,256.4 711.1,256.7 712.3,256.6 713.6,255.7 714.9,255.4 716.2,253.9 717.5,253.5 718.7,255.6 720.0,254.3 721.3,252.9 722.6,254.5 723.9,252.8 725.2,252.9 726.5,252.8 727.7,253.6 729.0,252.5 730.3,252.7 731.6,253.8 732.9,252.3 734.2,251.4 735.5,252.3 736.8,251.7 738.1,253.2 739.4,252.3 740.7,252.2 742.0,251.5 743.3,251.6 744.6,252.3 745.9,250.8 747.2,251.2 748.5,251.7 749.8,252.7 751.1,250.8 752.4,252.2 753.7,252.2 755.0,251.6 756.3,250.4 757.6,251.8 758.9,251.3 760.2,252.2 761.5,250.0 762.8,251.2 764.1,251.8 765.4,250.9 766.7,251.2 768.0,251.6 769.3,250.9 770.6,251.9 771.9,251.0 773.2,250.9 774.5,252.1 775.8,249.8 777.1,250.5 778.4,250.8 779.7,251.1 781.0,250.4 782.3,250.1 783.6,251.6 784.9,250.0 786.2,249.6 787.5,249.5 788.8,250.2 790.1,250.0 791.4,251.8 792.7,250.4 794.0,249.9 795.3,250.5 796.6,250.9 797.9,250.0 799.2,249.9 800.5,251.2 801.8,250.2 803.1,251.1 804.4,250.6 805.7,250.9 807.0,250.6 808.3,249.1 809.6,250.1 810.9,249.2 812.2,250.0 813.5,249.4 814.8,250.6 816.1,249.2 817.4,250.3 818.6,249.1 819.9,248.8 821.2,248.9 822.5,248.7 823.8,248.2 825.1,247.9 826.4,248.8 827.7,249.6 828.9,248.1 830.2,247.3 831.5,247.4 832.7,247.4 833.9,247.5 835.0,246.8 836.1,245.4 837.1,243.5 838.1,243.3 839.2,243.7 840.4,242.4 841.6,240.6 842.8,242.4 844.1,240.9 845.3,240.4 846.6,240.4 847.9,241.0 849.2,240.7 850.4,240.3 851.7,240.6 853.0,238.4 854.3,238.0 855.6,238.7 856.9,239.1 858.1,239.5 859.4,237.3 860.7,239.0 862.0,237.7 863.3,238.6 864.6,238.6 865.9,238.5 867.2,237.5 868.5,237.5 869.8,237.4 871.1,236.6 872.4,238.2 873.7,237.6 875.0,236.1 876.3,236.7 877.6,236.8 878.9,236.9 880.2,237.3 881.5,237.9 882.8,237.1 884.1,237.0 885.4,237.6 886.7,237.5 888.0,237.3 889.3,235.8 890.6,235.7 891.9,235.9 893.2,236.3 894.5,235.3 895.8,237.1 897.1,236.2 898.4,235.2 899.7,235.6 901.0,237.1 902.3,237.4 903.6,236.5 904.9,236.6 906.2,235.4 907.5,236.8 908.8,237.0 910.1,236.8 911.4,237.1 912.7,237.2 914.0,236.9 915.3,235.3 916.6,236.4 917.9,236.2 919.2,236.9 920.5,235.7 921.8,236.4 923.1,236.8 924.4,235.9 925.7,236.3 926.9,235.9 928.2,236.9 929.5,238.1 930.8,237.6 932.1,238.0 933.4,237.9 934.7,237.8 935.9,238.5 937.2,238.2 938.4,239.7 939.7,238.7 940.9,239.6 942.1,240.4 943.3,241.9 944.5,241.5 945.6,242.2 946.8,241.5 948.0,241.9 949.2,243.0 950.4,245.0 951.6,243.5 952.8,244.0 954.0,244.9 955.2,246.6 956.5,246.9 957.7,246.4 958.9,247.5 960.1,248.0 961.4,249.1 962.6,249.7 963.8,248.3 965.0,249.1 966.3,248.7 967.5,251.4 968.7,250.1 969.9,252.2 971.2,250.9 972.2,252.5" fill="none" stroke="#ff7f0e" stroke-width="3.8" stroke-linejoin="round" stroke-linecap="butt" stroke-dasharray="12.9 5.4"/>
<polyline points="170.6,490.0 170.8,488.7 171.0,487.4 171.2,486.1 171.4,484.9 171.6,483.6 171.8,482.3 172.0,481.0 172.2,479.7 172.4,478.4 172.6,477.1 172.8,475.9 173.0,474.6 173.1,473.3 173.3,472.0 173.5,470.7 173.7,469.4 173.9,468.2 174.1,466.9 174.3,465.6 174.5,464.3 174.7,463.0 174.9,461.7 175.1,460.4 175.3,459.2 175.5,457.9 175.7,456.6 175.9,455.3 176.1,454.0 176.2,452.7 176.4,451.4 176.6,450.2 176.8,448.9 177.0,447.6 177.2,446.3 177.3,445.0 177.5,443.7 177.7,442.4 177.9,441.1 178.0,439.8 178.2,438.6 178.3,437.3 178.5,436.0 178.6,434.7 178.7,433.4 178.8,432.1 178.8,430.8 178.9,429.5 178.9,428.2 178.9,426.9 179.0,425.6 179.0,424.3 179.1,423.0 179.1,421.7 179.2,420.4 179.3,419.1 179.4,417.8 179.5,416.5 179.6,415.2 179.7,413.9 179.8,412.6 179.9,411.3 180.0,410.0 180.1,408.7 180.2,407.4 180.3,406.1 180.4,404.8 180.5,403.5 180.6,402.2 180.7,401.0 180.8,399.7 180.9,398.4 181.0,397.1 181.1,395.8 181.3,394.5 181.4,393.2 181.5,391.9 181.6,390.6 181.7,389.3 181.8,388.0 181.9,386.7 182.0,385.4 182.1,384.1 182.2,382.8 182.4,381.5 182.5,380.2 182.6,378.9 182.7,377.6 182.8,376.3 182.9,375.0 183.1,373.8 183.2,372.5 183.3,371.2 183.4,369.9 183.5,368.6 183.6,367.3 183.7,366.0 183.9,364.7 184.0,363.4 184.1,362.1 184.3,360.8 184.4,359.5 184.6,358.2 184.7,356.9 184.9,355.6 185.1,354.4 185.3,353.1 185.4,351.8 185.6,350.5 185.8,349.2 186.0,347.9 186.2,346.6 186.5,345.4 186.7,344.1 186.9,342.8 187.1,341.5 187.4,340.2 187.6,339.0 187.9,337.7 188.1,336.4 188.3,335.1 188.6,333.9 188.8,332.6 189.1,331.3 189.3,330.0 189.6,328.8 189.8,327.5 190.1,326.2 190.3,324.9 190.6,323.7 190.8,322.4 191.1,321.1 191.3,319.8 191.6,318.6 191.9,317.3 192.1,316.0 192.3,314.7 192.6,313.5 192.8,312.2 193.1,310.9 193.3,309.6 193.5,308.3 193.8,307.1 194.0,305.8 194.2,304.5 194.5,303.2 194.7,301.9 194.9,300.7 195.1,299.4 195.3,298.1 195.5,296.8 195.7,295.5 196.0,294.2 196.2,293.0 196.4,291.7 196.7,290.4 196.9,289.1 197.2,287.9 197.5,286.6 197.8,285.3 198.1,284.1 198.4,282.8 198.7,281.5 199.0,280.3 199.3,279.0 199.6,277.8 199.9,276.5 200.2,275.2 200.5,273.9 200.7,272.7 201.0,271.4 201.2,270.1 201.4,268.8 201.7,267.6 201.9,266.3 202.2,265.0 202.4,263.7 202.6,262.4 202.9,261.2 203.1,259.9 203.4,258.6 203.6,257.3 203.9,256.1 204.2,254.8 204.4,253.5 204.7,252.3 205.0,251.0 205.3,249.7 205.6,248.5 205.9,247.2 206.2,245.9 206.5,244.7 206.7,243.4 207.0,242.1 207.3,240.8 207.6,239.6 207.9,238.3 208.1,237.0 208.4,235.8 208.7,234.5 209.0,233.2 209.3,232.0 209.6,230.7 209.9,229.4 210.2,228.2 210.5,226.9 210.8,225.6 211.1,224.4 211.4,223.1 211.8,221.9 212.2,220.6 212.5,219.4 212.9,218.1 213.4,216.9 213.9,215.7 214.6,214.6 215.9,214.7 216.7,215.7 217.2,216.9 217.8,218.1 218.2,219.3 218.6,220.6 218.9,221.8 219.3,223.1 219.6,224.3 219.9,225.6 220.3,226.8 220.7,228.1 221.0,229.3 221.5,230.5 221.9,231.8 222.4,233.0 222.9,234.1 223.5,235.3 224.0,236.5 224.5,237.7 225.0,238.9 225.5,240.3 226.1,241.4 226.6,241.2 227.2,243.2 227.8,244.9 228.5,244.8 229.2,247.8 230.1,247.6 231.0,249.1 232.0,249.4 233.0,251.4 234.2,252.3 235.4,251.2 236.7,253.0 238.0,253.2 239.3,251.9 240.6,252.2 241.9,252.9 243.2,252.6 244.4,250.3 245.7,250.7 247.0,251.0 248.2,250.7 249.5,251.4 250.7,249.1 252.0,250.4 253.3,248.2 254.5,249.2 255.8,247.4 257.1,247.4 258.4,249.2 259.7,247.2 261.0,248.7 262.2,247.9 263.5,248.3 264.8,248.7 266.1,248.1 267.4,248.2 268.7,246.5 270.0,248.2 271.3,246.6 272.6,246.9 273.9,247.7 275.2,246.1 276.5,247.2 277.8,246.9 279.1,246.2 280.4,245.2 281.7,245.4 282.9,246.0 284.2,246.8 285.5,246.2 286.8,246.3 288.1,246.5 289.4,243.9 290.7,244.9 292.0,244.4 293.3,245.9 294.6,245.3 295.9,245.9 297.2,244.4 298.5,244.3 299.8,245.0 301.1,245.9 302.4,243.3 303.7,245.1 305.0,243.2 306.3,243.4 307.6,244.5 308.9,244.6 310.2,244.0 311.5,245.5 312.8,244.6 314.1,243.8 315.4,244.4 316.7,244.9 318.0,245.3 319.3,244.2 320.6,244.9 321.9,245.1 323.2,243.3 324.5,244.3 325.8,243.7 327.1,244.3 328.4,245.6 329.7,244.9 331.0,244.9 332.3,243.5 333.6,244.4 334.9,245.1 336.2,243.0 337.5,243.7 338.8,245.3 340.1,245.1 341.4,244.8 342.7,243.7 344.0,242.5 345.3,243.3 346.6,242.4 347.8,242.3 349.1,241.8 350.4,241.5 351.7,242.2 352.9,242.0 354.2,241.1 355.4,240.6 356.7,242.2 357.9,239.5 359.2,239.8 360.4,240.6 361.7,240.1 362.9,240.2 364.2,239.1 365.4,238.0 366.6,237.5 367.9,237.6 369.1,238.4 370.4,237.6 371.6,235.7 372.8,236.1 374.0,236.3 375.3,235.9 376.5,235.9 377.7,233.7 379.0,234.5 380.2,232.6 381.5,233.7 382.7,232.2 383.9,232.7 385.2,231.5 386.4,231.4 387.7,229.8 388.9,231.7 390.2,230.6 391.4,230.4 392.7,230.6 393.9,228.9 395.2,228.7 396.5,229.9 397.7,229.8 399.0,229.3 400.3,226.8 401.6,228.7 402.9,227.1 404.1,226.8 405.4,227.0 406.7,227.4 408.0,225.8 409.3,225.8 410.6,226.7 411.8,227.5 413.1,225.2 414.4,225.1 415.7,226.7 417.0,224.6 418.3,225.3 419.6,224.3 420.8,224.4 422.1,225.2 423.4,225.7 424.7,223.7 426.0,223.3 427.3,224.3 428.6,224.2 429.9,224.2 431.1,224.0 432.4,222.5 433.7,221.8 435.0,222.5 436.3,223.3 437.6,221.1 438.8,222.6 440.1,222.8 441.4,222.2 442.7,220.9 443.9,220.8 445.2,222.2 446.5,220.1 447.7,221.6 449.0,220.1 450.3,219.5 451.5,218.8 452.8,219.1 454.0,217.7 455.3,217.4 456.5,217.5 457.8,218.7 459.0,218.1 460.3,218.2 461.6,217.8 462.8,216.1 464.1,217.2 465.4,217.1 466.6,214.7 467.9,214.6 469.2,214.9 470.5,215.1 471.8,214.4 473.0,214.9 474.3,214.9 475.6,214.6 476.9,213.3 478.2,213.4 479.5,214.9 480.8,215.1 482.1,212.5 483.4,213.3 484.7,212.9 486.0,213.6 487.3,215.1 488.6,212.6 489.9,214.8 491.2,214.4 492.5,214.4 493.8,212.9 495.1,213.0 496.4,214.5 497.7,214.1 499.0,213.6 500.3,213.4 501.6,214.8 502.9,213.7 504.2,214.4 505.5,215.5 506.8,214.7 508.1,215.6 509.4,215.3 510.6,214.4 511.9,216.0 513.2,217.0 514.5,215.6 515.8,216.3 517.1,217.3 518.4,216.6 519.7,215.5 521.0,217.7 522.3,217.7 523.6,216.4 524.9,217.2 526.2,215.9 527.5,217.0 528.7,217.4 530.0,216.3 531.3,216.8 532.6,218.0 533.9,219.1 535.2,217.8 536.5,217.8 537.8,218.0 539.1,216.8 540.4,218.7 541.7,218.1 543.0,218.5 544.3,217.3 545.6,218.0 546.9,216.4 548.2,216.5 549.4,217.2 550.7,216.9 551.8,217.4 552.9,219.0 553.9,220.7 554.8,221.7 555.7,221.9 556.5,223.6 557.3,223.3 558.1,225.9 558.9,227.3 559.6,226.7 560.4,228.0 561.1,228.4 561.9,229.3 562.7,232.2 563.4,232.0 564.2,233.2 565.0,234.3 565.8,236.1 566.5,236.4 567.2,237.2 568.0,239.2 568.7,238.7 569.4,241.8 570.2,240.9 570.9,244.3 571.7,243.8 572.4,246.0 573.2,245.8 574.0,246.1 574.7,248.3 575.5,248.4 576.4,250.2 577.2,250.6 578.0,252.3 578.8,253.9 579.7,254.6 580.5,255.8 581.4,255.3 582.3,256.5 583.2,257.5 584.1,260.3 585.0,260.4 586.0,260.3 587.0,261.0 588.0,261.9 589.0,262.9 590.1,263.4 591.1,264.8 592.2,265.8 593.4,266.8 594.5,267.0 595.7,268.4 596.9,266.6 598.0,268.7 599.2,268.9 600.4,270.1 601.6,269.6 602.9,270.6 604.1,271.6 605.4,269.8 606.6,272.1 607.9,272.8 609.2,271.7 610.4,273.3 611.7,272.3 613.0,272.6 614.3,273.8 615.6,272.1 616.9,271.5 618.2,272.8 619.5,271.9 620.8,273.7 622.1,273.8 623.4,272.4 624.7,271.1 625.9,271.9 627.2,270.7 628.4,271.9 629.7,270.9 630.9,270.6 632.2,271.2 633.4,268.9 634.7,269.2 635.9,269.0 637.2,268.1 638.4,267.6 639.6,266.9 640.9,266.7 642.1,266.8 643.4,266.1 644.6,266.7 645.9,265.0 647.2,266.6 648.4,266.0 649.7,265.4 651.0,265.5 652.3,265.6 653.6,266.1 654.9,265.4 656.2,264.3 657.4,265.0 658.7,263.8 660.0,264.9 661.3,264.0 662.6,264.2 663.9,262.5 665.2,262.7 666.5,263.3 667.8,263.5 669.1,263.9 670.4,263.9 671.7,262.6 673.0,261.5 674.3,262.0 675.6,262.7 676.8,262.0 678.1,261.5 679.4,262.2 680.7,261.7 682.0,261.5 683.3,261.7 684.6,260.9 685.9,260.2 687.2,262.1 688.5,260.5 689.8,259.9 691.1,260.3 692.4,260.2 693.7,260.0 695.0,261.2 696.3,261.1 697.5,261.2 698.8,261.2 700.1,260.3 701.4,259.0 702.7,260.4 704.0,258.5 705.3,258.0 706.6,257.8 707.8,259.1 709.1,259.0 710.4,258.6 711.7,258.4 713.0,258.8 714.3,258.2 715.5,257.3 716.8,256.9 718.1,258.0 719.4,256.0 720.7,257.0 722.0,255.9 723.3,255.3 724.5,255.2 725.8,257.1 727.1,255.6 728.4,255.1 729.7,256.5 731.0,256.7 732.3,256.3 733.6,254.9 734.9,254.1 736.2,256.1 737.5,253.9 738.8,255.5 740.1,254.3 741.4,253.5 742.7,255.9 744.0,254.0 745.3,254.0 746.6,255.2 747.9,255.7 749.2,255.3 750.5,255.2 751.8,255.5 753.1,256.0 754.4,254.4 755.7,256.1 757.0,255.7 758.3,255.9 759.6,256.1 760.9,254.5 762.2,256.0 763.5,254.3 764.8,254.8 766.1,255.6 767.3,255.1 768.6,255.5 769.9,254.4 771.2,254.5 772.5,256.4 773.8,255.7 775.1,255.6 776.4,254.7 777.7,255.4 779.0,255.4 780.3,256.1 781.6,256.8 782.9,255.3 784.2,254.9 785.5,255.1 786.8,257.3 788.1,256.6 789.4,256.2 790.7,255.1 792.0,255.2 793.3,255.2 794.6,256.9 795.9,255.7 797.2,256.2 798.5,256.3 799.8,255.1 801.1,256.5 802.4,256.6 803.7,255.9 805.0,256.2 806.3,255.5 807.5,255.7 808.8,255.2 810.1,255.0 811.4,253.0 812.6,253.5 813.9,253.2 815.2,253.3 816.4,251.6 817.7,253.1 819.0,252.4 820.3,251.8 821.5,252.2 822.8,252.0 824.1,252.2 825.4,252.4 826.7,249.6 827.9,250.0 829.2,249.8 830.5,251.1 831.8,250.7 833.1,249.5 834.4,250.6 835.6,250.2 836.9,248.5 838.2,248.8 839.5,249.0 840.8,249.0 842.0,249.2 843.3,247.2 844.6,249.1 845.9,246.3 847.2,248.2 848.4,247.2 849.7,246.0 851.0,245.5 852.3,245.6 853.6,246.3 854.9,246.8 856.1,245.3 857.4,246.5 858.7,244.3 860.0,244.5 861.3,244.5 862.6,244.8 863.9,243.5 865.1,244.2 866.4,245.6 867.7,243.8 869.0,243.4 870.3,245.0 871.6,243.4 872.9,244.2 874.2,242.3 875.4,244.1 876.7,242.4 878.0,242.1 879.3,242.3 880.6,243.5 881.9,241.5 883.2,241.3 884.5,243.2 885.8,241.3 887.1,241.7 888.4,241.5 889.7,241.2 891.0,242.5 892.3,241.7 893.6,241.5 894.9,241.2 896.2,240.8 897.5,242.6 898.8,241.8 900.1,242.4 901.4,240.7 902.7,240.8 904.0,242.7 905.3,242.0 906.6,242.3 907.9,240.8 909.2,241.9 910.5,243.4 911.8,241.0 913.1,242.5 914.4,243.4 915.7,243.5 917.0,241.5 918.3,241.4 919.6,243.7 920.9,242.4 922.2,242.8 923.5,243.3 924.8,244.1 926.0,243.3 927.3,243.2 928.6,244.7 929.9,245.0 931.2,243.1 932.5,244.8 933.7,245.1 935.0,246.2 936.3,245.8 937.5,246.0 938.8,245.2 940.0,246.4 941.3,247.0 942.5,247.8 943.7,248.0 945.0,249.0 946.2,249.1 947.4,247.9 948.7,249.7 949.9,249.9 951.1,250.2 952.3,249.2 953.6,249.5 954.8,250.5 956.0,252.8 957.2,251.9 958.4,252.1 959.6,254.4 960.8,252.9 962.0,254.7 963.2,254.9 964.4,256.4 965.6,256.4 966.8,256.2 967.9,257.2 969.1,257.1 970.3,257.9 971.5,257.3 972.2,259.7" fill="none" stroke="#2ca02c" stroke-width="3.8" stroke-linejoin="round" stroke-linecap="butt" stroke-dasharray="12.9 5.4"/>
<polyline points="170.6,465.0 170.9,463.7 171.2,462.5 171.6,461.2 171.9,460.0 172.2,458.7 172.6,457.4 172.9,456.2 173.2,454.9 173.5,453.7 173.8,452.4 174.1,451.1 174.5,449.9 174.8,448.6 175.1,447.4 175.4,446.1 175.6,444.8 175.9,443.5 176.2,442.3 176.4,441.0 176.6,439.7 176.8,438.4 177.0,437.1 177.2,435.9 177.3,434.6 177.4,433.3 177.5,432.0 177.5,430.7 177.6,429.4 177.7,428.1 177.7,426.8 177.8,425.5 177.9,424.2 177.9,422.9 178.0,421.6 178.1,420.3 178.2,419.0 178.3,417.7 178.4,416.4 178.5,415.1 178.7,413.8 178.8,412.5 178.9,411.2 179.0,409.9 179.1,408.6 179.2,407.3 179.3,406.0 179.4,404.7 179.5,403.4 179.6,402.1 179.7,400.8 179.8,399.6 179.9,398.3 180.0,397.0 180.1,395.7 180.2,394.4 180.3,393.1 180.5,391.8 180.6,390.5 180.7,389.2 180.8,387.9 180.9,386.6 181.0,385.3 181.1,384.0 181.2,382.7 181.4,381.4 181.5,380.1 181.6,378.8 181.7,377.5 181.8,376.2 182.0,374.9 182.1,373.7 182.2,372.4 182.3,371.1 182.4,369.8 182.6,368.5 182.7,367.2 182.8,365.9 182.9,364.6 183.1,363.3 183.2,362.0 183.4,360.7 183.5,359.4 183.7,358.1 183.8,356.8 184.0,355.6 184.2,354.3 184.4,353.0 184.5,351.7 184.7,350.4 184.9,349.1 185.1,347.8 185.3,346.6 185.5,345.3 185.7,344.0 186.0,342.7 186.2,341.4 186.4,340.1 186.6,338.9 186.9,337.6 187.1,336.3 187.3,335.0 187.6,333.7 187.8,332.5 188.0,331.2 188.3,329.9 188.5,328.6 188.7,327.4 189.0,326.1 189.2,324.8 189.5,323.5 189.7,322.2 189.9,321.0 190.2,319.7 190.4,318.4 190.7,317.1 190.9,315.9 191.1,314.6 191.4,313.3 191.6,312.0 191.8,310.7 192.0,309.5 192.3,308.2 192.5,306.9 192.7,305.6 192.9,304.3 193.1,303.0 193.3,301.8 193.5,300.5 193.7,299.2 193.9,297.9 194.1,296.6 194.3,295.3 194.5,294.1 194.7,292.8 195.0,291.5 195.2,290.2 195.5,288.9 195.7,287.7 196.0,286.4 196.3,285.1 196.6,283.9 196.9,282.6 197.2,281.3 197.6,280.1 197.9,278.8 198.2,277.6 198.4,276.3 198.7,275.0 199.0,273.8 199.3,272.5 199.5,271.2 199.8,269.9 200.0,268.7 200.3,267.4 200.5,266.1 200.8,264.8 201.0,263.5 201.3,262.3 201.5,261.0 201.8,259.7 202.1,258.5 202.3,257.2 202.6,255.9 202.9,254.7 203.2,253.4 203.6,252.1 203.9,250.9 204.3,249.6 204.6,248.4 205.0,247.1 205.3,245.9 205.7,244.6 206.1,243.4 206.4,242.1 206.8,240.9 207.2,239.6 207.6,238.4 208.0,237.2 208.4,235.9 208.8,234.7 209.2,233.5 209.7,232.2 210.1,231.0 210.6,229.8 211.2,228.7 211.8,227.5 212.6,226.5 213.8,226.1 214.8,226.9 215.4,228.1 216.1,229.2 216.5,230.4 217.0,231.7 217.4,232.9 217.8,234.1 218.2,235.4 218.6,236.6 219.1,237.8 219.6,239.0 220.1,240.2 220.7,241.4 221.2,242.6 221.7,243.8 222.2,245.0 222.7,246.2 223.2,247.4 223.7,248.6 224.2,249.8 224.8,250.9 225.4,251.5 226.2,253.2 227.4,255.0 228.6,252.7 229.9,252.1 230.8,252.5 231.7,250.6 232.8,250.5 234.0,248.8 235.2,250.5 236.5,250.6 237.8,250.1 239.1,250.6 240.4,249.0 241.7,248.2 243.0,248.9 244.3,250.6 245.6,249.5 246.9,248.8 248.2,248.7 249.5,248.7 250.8,249.4 252.1,250.9 253.4,251.0 254.6,251.1 255.7,251.8 256.8,250.9 257.9,253.2 259.0,252.4 260.1,253.9 261.3,253.1 262.5,255.9 263.8,253.6 265.1,254.6 266.2,254.0 267.2,253.2 268.4,252.8 269.6,251.4 270.8,252.2 272.1,252.5 273.4,251.5 274.7,252.4 276.0,252.1 277.3,250.0 278.6,251.7 279.9,250.2 281.2,251.9 282.5,251.3 283.8,252.9 285.0,251.2 286.2,254.1 287.4,252.1 288.6,252.5 289.9,252.6 291.2,252.6 292.4,254.6 293.7,253.9 295.0,254.0 296.3,251.9 297.6,253.1 298.9,253.3 300.2,253.0 301.5,251.8 302.8,253.7 304.1,253.0 305.4,252.9 306.7,251.8 308.0,252.1 309.3,253.1 310.6,252.5 311.9,252.4 313.2,253.6 314.5,252.3 315.8,253.5 317.1,251.3 318.4,252.7 319.7,253.2 321.0,251.3 322.3,253.2 323.6,252.1 324.9,253.0 326.2,253.1 327.5,251.8 328.8,254.0 330.1,252.1 331.4,251.8 332.7,252.7 334.0,251.7 335.3,251.8 336.6,253.6 337.9,251.8 339.2,253.0 340.5,254.0 341.8,252.8 343.1,253.8 344.4,253.8 345.7,252.0 347.0,251.8 348.3,253.7 349.6,253.9 350.9,253.8 352.2,253.4 353.5,252.8 354.8,254.0 356.0,253.3 357.3,253.3 358.6,253.6 359.9,251.2 361.2,252.9 362.5,252.3 363.8,250.5 365.1,250.9 366.3,251.9 367.6,251.0 368.8,250.7 370.0,249.5 371.2,249.6 372.3,249.9 373.4,249.5 374.5,247.6 375.6,247.4 376.7,244.9 377.9,244.5 379.1,245.1 380.3,245.5 381.6,243.2 382.8,242.9 384.1,243.6 385.4,242.9 386.7,242.3 388.0,242.2 389.3,242.8 390.6,243.6 391.8,241.8 393.1,243.4 394.4,241.3 395.7,241.7 397.0,242.6 398.3,240.7 399.6,241.4 400.9,240.9 402.2,240.9 403.5,242.6 404.8,240.5 406.1,241.9 407.4,242.3 408.7,240.4 410.0,241.9 411.3,240.3 412.5,241.4 413.8,240.8 415.1,240.0 416.4,241.4 417.7,240.7 419.0,239.6 420.3,240.2 421.6,239.3 422.9,239.1 424.2,240.8 425.5,240.8 426.8,238.4 428.1,240.4 429.4,239.7 430.7,237.7 432.0,237.8 433.3,238.5 434.5,239.6 435.8,239.5 437.1,237.6 438.4,238.0 439.7,239.2 441.0,237.1 442.3,236.7 443.6,237.4 444.9,237.9 446.2,238.3 447.5,238.1 448.8,235.6 450.0,235.9 451.3,235.6 452.6,236.7 453.9,236.0 455.2,237.3 456.5,236.3 457.8,236.1 459.1,236.1 460.4,234.6 461.6,236.3 462.9,236.1 464.2,235.8 465.5,235.5 466.8,233.7 468.1,233.2 469.4,233.9 470.7,234.7 472.0,233.1 473.2,234.7 474.5,234.5 475.8,234.0 477.1,233.2 478.4,232.2 479.7,233.8 481.0,231.9 482.3,232.6 483.6,233.1 484.9,232.7 486.1,231.4 487.4,233.0 488.7,231.3 490.0,231.4 491.3,231.3 492.6,231.8 493.9,229.9 495.2,231.3 496.5,230.7 497.7,231.4 499.0,230.1 500.3,230.4 501.6,231.3 502.9,228.7 504.2,230.5 505.5,229.5 506.8,228.8 508.0,228.6 509.3,228.3 510.6,229.8 511.9,227.9 513.2,229.8 514.5,228.4 515.8,227.6 517.1,228.8 518.4,228.1 519.7,228.7 520.9,226.6 522.2,227.9 523.5,225.9 524.8,226.2 526.1,226.7 527.4,226.2 528.7,226.0 530.0,226.6 531.3,227.0 532.6,225.9 533.8,226.0 535.1,226.6 536.4,225.0 537.7,226.9 539.0,224.1 540.3,225.0 541.6,226.1 542.9,224.4 544.2,224.5 545.5,224.0 546.8,226.1 548.1,225.7 549.4,223.6 550.7,224.9 552.0,223.9 553.3,223.6 554.4,224.8 554.6,227.3 554.9,228.2 555.1,228.8 555.8,230.7 556.5,230.4 557.3,232.2 558.0,232.6 558.8,235.6 559.5,235.5 560.2,237.4 560.9,237.5 561.7,238.8 562.4,240.3 563.1,240.6 563.8,242.4 564.5,244.1 565.1,243.4 565.8,244.8 566.5,245.5 567.1,247.8 567.8,247.9 568.4,250.2 569.1,250.3 569.8,252.4 570.5,252.9 571.2,255.2 571.9,256.5 572.6,258.0 573.4,257.7 574.2,259.8 575.0,260.8 575.8,260.4 576.6,263.1 577.5,264.0 578.4,262.8 579.3,265.4 580.2,266.1 581.1,266.8 582.0,268.0 583.0,267.7 584.0,270.1 585.0,270.6 586.0,269.9 587.0,272.8 588.1,273.0 589.2,271.9 590.3,272.5 591.4,273.5 592.5,275.5 593.7,276.1 594.9,277.2 596.2,277.5 597.4,276.1 598.6,276.5 599.9,276.5 601.1,277.7 602.4,278.2 603.6,278.5 604.8,280.1 606.1,279.9 607.3,280.8 608.6,281.2 609.9,281.3 611.1,280.8 612.4,280.7 613.7,281.2 615.0,281.0 616.3,281.6 617.6,282.0 618.9,281.5 620.2,280.3 621.5,281.0 622.8,280.5 624.1,279.4 625.3,279.0 626.6,279.6 627.8,280.5 629.0,279.3 630.2,277.0 631.4,278.8 632.6,277.8 633.8,277.1 635.0,275.0 636.2,275.4 637.5,275.0 638.7,275.0 639.9,273.6 641.2,274.6 642.4,274.2 643.7,274.0 645.0,273.4 646.3,273.4 647.6,272.2 648.9,274.0 650.2,274.2 651.5,274.2 652.8,274.0 654.1,272.7 655.4,272.8 656.7,272.2 658.0,274.1 659.3,274.3 660.6,274.4 661.8,273.3 663.1,273.7 664.4,273.6 665.7,271.4 667.0,271.0 668.2,272.9 669.5,272.9 670.8,272.0 672.1,271.5 673.3,270.7 674.6,271.7 675.9,270.0 677.2,269.2 678.5,271.0 679.8,268.8 681.1,270.5 682.4,270.1 683.7,268.6 685.0,269.3 686.2,268.7 687.5,270.0 688.8,269.8 690.1,268.5 691.4,267.9 692.7,268.3 694.0,268.5 695.3,268.8 696.6,269.6 697.9,267.8 699.2,267.2 700.5,268.4 701.8,267.7 703.1,268.5 704.4,268.1 705.7,267.7 707.0,268.3 708.3,266.5 709.6,268.0 710.8,266.3 712.1,267.0 713.4,267.0 714.7,266.9 716.0,265.6 717.3,266.4 718.6,265.8 719.9,265.7 721.2,266.0 722.5,265.8 723.8,265.1 725.1,266.3 726.4,266.8 727.7,266.7 729.0,264.5 730.3,264.5 731.5,264.8 732.8,265.1 734.1,265.2 735.4,264.8 736.7,264.3 738.0,265.5 739.3,265.2 740.6,264.6 741.8,263.0 743.1,264.2 744.4,262.0 745.7,264.3 747.0,263.5 748.3,263.9 749.6,262.4 750.9,263.0 752.2,261.6 753.5,263.3 754.7,261.2 756.0,260.6 757.3,261.2 758.6,262.1 759.9,261.7 761.2,262.4 762.5,262.0 763.8,262.2 765.1,262.6 766.4,260.3 767.7,260.4 769.0,260.9 770.3,260.5 771.6,261.7 772.9,262.1 774.2,260.7 775.5,261.6 776.8,261.0 778.1,260.4 779.4,261.1 780.7,261.2 782.0,262.3 783.3,263.1 784.6,260.7 785.9,261.9 787.2,261.8 788.5,262.2 789.8,260.9 791.1,263.0 792.4,261.1 793.7,261.9 795.0,261.3 796.3,261.6 797.6,262.4 798.9,261.5 800.2,260.7 801.5,262.2 802.8,259.9 804.1,261.9 805.4,260.9 806.6,259.6 807.9,261.4 809.2,260.9 810.5,259.8 811.8,260.4 813.1,258.3 814.4,258.6 815.6,258.9 816.9,260.0 818.2,258.2 819.5,259.7 820.8,258.4 822.1,258.6 823.4,258.6 824.6,256.6 825.9,258.6 827.2,257.5 828.5,256.0 829.8,255.9 831.1,257.5 832.4,256.7 833.7,257.5 834.9,257.2 836.2,256.2 837.5,255.6 838.8,256.4 840.1,256.8 841.4,254.8 842.7,255.2 844.0,254.0 845.3,253.6 846.5,253.5 847.8,254.2 849.1,254.7 850.4,255.1 851.7,254.7 853.0,255.1 854.3,253.0 855.6,254.4 856.9,252.8 858.1,252.8 859.4,253.1 860.7,254.2 862.0,252.6 863.3,251.3 864.6,252.0 865.9,252.4 867.2,252.6 868.5,251.0 869.8,251.2 871.1,250.8 872.4,251.6 873.6,251.1 874.9,250.8 876.2,251.2 877.5,251.7 878.8,251.3 880.1,251.5 881.4,250.5 882.7,251.8 884.0,249.5 885.3,249.3 886.6,249.3 887.9,250.3 889.2,249.8 890.5,249.4 891.8,248.8 893.1,250.8 894.4,248.8 895.7,250.3 897.0,251.1 898.3,249.1 899.6,250.0 900.9,250.7 902.2,249.5 903.5,250.7 904.8,248.3 906.1,249.7 907.4,250.3 908.7,249.5 910.0,250.3 911.3,250.7 912.6,250.3 913.9,249.3 915.2,249.9 916.5,250.4 917.8,249.7 919.1,248.2 920.4,248.7 921.7,249.8 923.0,248.5 924.3,248.6 925.6,250.9 926.9,249.7 928.2,251.1 929.5,250.8 930.8,250.8 932.1,250.0 933.3,249.6 934.6,249.4 935.9,250.0 937.2,251.0 938.5,251.6 939.7,250.7 941.0,251.8 942.2,251.9 943.5,253.7 944.7,252.6 945.9,254.4 947.1,254.4 948.4,255.6 949.6,254.3 950.8,254.7 952.0,255.7 953.3,255.5 954.5,256.9 955.7,258.3 956.9,257.6 958.1,257.2 959.3,257.3 960.5,259.3 961.7,259.4 962.9,258.7 964.1,260.2 965.3,261.9 966.5,262.0 967.6,261.8 968.8,264.0 970.0,264.6 971.2,262.6 972.2,263.6" fill="none" stroke="#d62728" stroke-width="3.8" stroke-linejoin="round" stroke-linecap="butt" stroke-dasharray="12.9 5.4"/>
<polyline points="170.6,505.0 170.7,503.7 170.8,502.4 170.9,501.1 171.0,499.8 171.1,498.5 171.2,497.2 171.3,495.9 171.4,494.6 171.5,493.3 171.7,492.0 171.8,490.7 171.9,489.5 172.0,488.2 172.1,486.9 172.2,485.6 172.3,484.3 172.4,483.0 172.5,481.7 172.6,480.4 172.7,479.1 172.8,477.8 172.9,476.5 173.0,475.2 173.1,473.9 173.2,472.6 173.3,471.3 173.4,470.0 173.6,468.7 173.7,467.4 173.8,466.1 173.9,464.8 174.0,463.5 174.1,462.2 174.2,460.9 174.3,459.7 174.4,458.4 174.5,457.1 174.6,455.8 174.7,454.5 174.8,453.2 174.9,451.9 175.0,450.6 175.1,449.3 175.2,448.0 175.4,446.7 175.5,445.4 175.6,444.1 175.7,442.8 175.8,441.5 175.9,440.2 176.0,438.9 176.1,437.6 176.2,436.3 176.3,435.0 176.4,433.7 176.5,432.4 176.6,431.1 176.7,429.9 176.9,428.6 177.0,427.3 177.1,426.0 177.2,424.7 177.3,423.4 177.4,422.1 177.5,420.8 177.6,419.5 177.8,418.2 177.9,416.9 178.0,415.6 178.1,414.3 178.2,413.0 178.3,411.7 178.4,410.4 178.5,409.1 178.6,407.8 178.7,406.5 178.8,405.2 178.9,403.9 179.0,402.6 179.1,401.4 179.2,400.1 179.4,398.8 179.5,397.5 179.6,396.2 179.7,394.9 179.8,393.6 179.9,392.3 180.0,391.0 180.1,389.7 180.2,388.4 180.3,387.1 180.5,385.8 180.6,384.5 180.7,383.2 180.8,381.9 180.9,380.6 181.1,379.3 181.2,378.0 181.3,376.7 181.4,375.5 181.6,374.2 181.7,372.9 181.8,371.6 181.9,370.3 182.0,369.0 182.2,367.7 182.3,366.4 182.4,365.1 182.6,363.8 182.7,362.5 182.8,361.2 183.0,359.9 183.2,358.6 183.3,357.4 183.5,356.1 183.6,354.8 183.8,353.5 184.0,352.2 184.2,350.9 184.4,349.6 184.6,348.3 184.8,347.1 185.0,345.8 185.2,344.5 185.4,343.2 185.6,341.9 185.8,340.6 186.0,339.4 186.3,338.1 186.5,336.8 186.7,335.5 186.9,334.2 187.2,333.0 187.4,331.7 187.6,330.4 187.9,329.1 188.1,327.8 188.3,326.6 188.6,325.3 188.8,324.0 189.0,322.7 189.3,321.4 189.5,320.2 189.7,318.9 190.0,317.6 190.2,316.3 190.4,315.0 190.6,313.8 190.9,312.5 191.1,311.2 191.3,309.9 191.5,308.6 191.7,307.4 191.9,306.1 192.2,304.8 192.4,303.5 192.5,302.2 192.7,300.9 192.9,299.7 193.1,298.4 193.3,297.1 193.5,295.8 193.7,294.5 193.9,293.2 194.1,291.9 194.4,290.7 194.6,289.4 194.9,288.1 195.2,286.8 195.4,285.6 195.7,284.3 196.0,283.1 196.4,281.8 196.7,280.5 197.0,279.3 197.3,278.0 197.6,276.7 197.9,275.5 198.2,274.2 198.4,272.9 198.7,271.7 199.0,270.4 199.2,269.1 199.5,267.8 199.7,266.6 200.0,265.3 200.2,264.0 200.5,262.7 200.7,261.5 201.0,260.2 201.3,258.9 201.6,257.7 201.9,256.4 202.2,255.1 202.5,253.9 202.8,252.6 203.2,251.4 203.6,250.1 204.0,248.9 204.4,247.6 204.8,246.4 205.2,245.2 205.7,244.0 206.1,242.7 206.6,241.5 207.1,240.3 207.5,239.1 208.1,237.9 208.7,236.8 209.4,235.7 210.2,234.7 211.3,234.0 212.4,234.6 213.3,235.6 214.1,236.6 214.7,237.8 215.2,239.0 215.7,240.2 216.2,241.4 216.7,242.6 217.2,243.8 217.7,245.0 218.2,246.2 218.7,247.4 219.3,248.5 219.9,249.7 220.4,250.9 221.0,252.1 221.5,253.3 221.9,254.5 222.4,255.7 222.9,256.9 223.4,258.1 223.9,259.3 224.5,260.4 225.1,260.9 225.9,262.0 226.9,262.9 227.8,263.5 229.0,263.7 230.2,266.5 231.4,265.7 232.7,265.4 234.0,266.2 235.3,267.3 236.6,265.0 237.9,266.9 239.2,265.2 240.5,264.2 241.8,266.6 243.0,264.5 244.3,266.1 245.6,263.6 246.9,263.5 248.2,264.8 249.5,263.3 250.8,264.8 252.0,263.7 253.3,265.0 254.6,263.5 255.9,264.0 257.2,263.0 258.5,263.1 259.8,263.5 261.1,262.8 262.4,263.6 263.7,262.9 265.0,263.5 266.3,262.4 267.6,262.9 268.9,262.9 270.2,263.3 271.5,264.7 272.8,264.7 274.1,263.4 275.4,264.0 276.7,264.3 278.0,264.5 279.3,263.9 280.6,262.7 281.9,264.0 283.2,263.4 284.5,262.7 285.8,262.8 287.1,264.4 288.4,263.1 289.7,263.2 291.0,263.6 292.3,263.3 293.6,264.0 294.9,263.2 296.2,263.0 297.5,264.4 298.8,262.8 300.1,265.0 301.4,265.2 302.7,263.0 304.0,264.3 305.3,264.9 306.6,263.2 307.9,265.3 309.2,263.6 310.5,262.8 311.8,262.8 313.1,263.4 314.4,263.4 315.7,264.4 317.0,264.1 318.3,264.7 319.6,264.2 320.9,263.4 322.2,262.6 323.5,264.7 324.8,263.2 326.1,264.7 327.4,262.4 328.7,262.8 330.0,264.5 331.3,264.0 332.6,262.1 333.9,263.7 335.2,263.9 336.5,263.4 337.8,263.4 339.1,261.9 340.4,262.3 341.7,263.1 342.9,262.6 344.2,260.7 345.5,261.0 346.8,261.1 348.1,260.5 349.4,260.8 350.7,260.2 352.0,262.0 353.3,260.1 354.5,261.8 355.8,261.2 357.1,259.6 358.4,259.2 359.7,260.8 361.0,259.2 362.2,259.9 363.5,259.8 364.8,259.0 366.1,259.2 367.4,258.9 368.7,258.5 369.9,257.2 371.2,258.7 372.5,258.2 373.8,256.3 375.1,257.0 376.4,256.2 377.6,256.8 378.9,256.1 380.2,255.7 381.5,255.2 382.8,256.6 384.0,255.4 385.3,254.3 386.6,255.5 387.9,256.4 389.2,254.7 390.5,255.9 391.8,254.9 393.0,255.0 394.3,253.5 395.6,253.0 396.9,254.4 398.2,253.0 399.5,253.9 400.8,252.1 402.1,254.4 403.4,252.9 404.7,254.2 406.0,253.8 407.3,253.8 408.6,253.9 409.9,251.4 411.1,253.1 412.4,251.6 413.7,253.5 415.0,253.2 416.3,251.9 417.6,252.3 418.9,251.2 420.2,251.2 421.5,251.3 422.8,251.1 424.1,252.0 425.4,252.6 426.7,251.8 428.0,249.8 429.3,251.7 430.6,250.7 431.9,250.3 433.2,249.9 434.5,249.8 435.8,251.7 437.1,250.3 438.3,251.0 439.6,248.8 440.9,250.7 442.2,250.2 443.5,250.6 444.8,249.8 446.1,250.1 447.4,248.5 448.7,249.7 449.9,250.0 451.2,248.0 452.5,248.2 453.8,248.8 455.1,249.0 456.4,248.4 457.7,246.5 458.9,246.0 460.2,246.9 461.5,246.6 462.8,247.3 464.1,246.5 465.4,246.4 466.6,245.5 467.9,244.6 469.2,245.2 470.5,245.3 471.8,245.3 473.0,245.7 474.3,245.0 475.6,245.2 476.9,244.1 478.2,244.4 479.5,243.4 480.7,244.2 482.0,244.3 483.3,242.5 484.6,243.2 485.9,242.6 487.2,243.1 488.4,241.6 489.7,242.5 491.0,241.1 492.3,242.8 493.6,240.5 494.8,241.0 496.1,241.3 497.4,241.5 498.7,241.7 500.0,239.2 501.2,239.2 502.5,240.0 503.8,240.6 505.1,240.8 506.4,240.4 507.6,239.1 508.9,240.0 510.2,239.1 511.5,239.3 512.8,238.8 514.0,238.8 515.3,237.7 516.6,237.6 517.9,236.5 519.2,238.3 520.5,238.1 521.7,235.2 523.0,237.1 524.3,237.3 525.6,236.6 526.9,236.9 528.1,236.6 529.4,235.7 530.7,233.8 532.0,235.8 533.3,233.5 534.6,234.7 535.9,233.1 537.1,235.4 538.4,233.8 539.7,234.8 541.0,234.5 542.3,232.7 543.6,234.0 544.9,234.4 546.2,233.7 547.5,233.1 548.8,231.7 550.1,232.2 551.4,233.8 552.7,233.4 554.0,232.7 555.3,232.0 556.4,233.9 557.6,233.9 558.2,235.0 558.6,235.8 559.2,238.9 559.8,238.1 560.5,239.5 561.2,242.0 561.9,243.0 562.6,243.7 563.2,244.5 563.8,246.2 564.3,247.7 564.9,246.7 565.4,250.0 565.9,251.5 566.5,251.2 567.0,253.5 567.6,254.3 568.2,256.4 568.8,257.4 569.5,258.1 570.3,258.7 571.0,259.4 571.8,261.4 572.6,261.9 573.4,263.5 574.2,263.0 575.1,265.6 575.9,264.3 576.8,267.1 577.6,266.6 578.5,268.6 579.3,270.1 580.1,269.8 580.9,270.2 581.7,273.1 582.5,272.9 583.3,273.4 584.1,274.3 585.0,276.8 585.9,277.8 586.7,279.8 587.7,279.1 588.6,281.3 589.7,280.9 590.8,280.8 591.9,282.4 593.1,282.5 594.4,282.0 595.6,284.7 596.9,283.4 598.2,283.2 599.5,285.4 600.8,284.9 602.1,285.3 603.4,283.5 604.7,284.9 606.0,284.6 607.3,285.2 608.6,285.5 609.9,284.4 611.2,286.2 612.5,283.8 613.8,284.7 615.1,286.2 616.4,285.2 617.7,285.0 619.0,285.0 620.3,285.3 621.6,283.7 622.9,285.6 624.2,284.7 625.5,284.3 626.8,284.6 628.1,283.7 629.4,285.7 630.6,284.9 631.9,283.5 633.2,282.7 634.5,284.0 635.7,284.2 637.0,281.9 638.2,282.8 639.4,283.1 640.7,280.9 641.9,281.5 643.1,280.9 644.4,279.5 645.7,280.9 647.0,279.4 648.3,280.9 649.5,279.2 650.8,279.1 652.1,280.0 653.4,279.7 654.7,280.4 656.0,278.9 657.3,279.1 658.6,278.1 659.9,279.2 661.2,279.9 662.5,279.0 663.8,279.1 665.1,280.0 666.4,278.6 667.7,277.8 669.0,278.5 670.3,278.2 671.6,277.2 672.9,279.1 674.2,277.0 675.5,277.6 676.8,279.0 678.1,279.1 679.4,276.9 680.7,277.8 682.0,276.9 683.3,278.6 684.6,278.8 685.9,277.4 687.2,276.7 688.5,277.0 689.8,277.4 691.1,278.5 692.4,275.9 693.7,278.2 695.0,278.2 696.2,277.1 697.5,275.5 698.8,276.3 700.1,277.1 701.4,275.2 702.7,276.5 704.0,276.4 705.3,274.8 706.6,276.3 707.9,276.4 709.2,274.8 710.5,274.7 711.8,274.9 713.1,274.0 714.4,274.8 715.7,274.7 717.0,274.0 718.3,275.2 719.6,275.4 720.8,274.1 722.1,275.1 723.4,273.5 724.7,275.5 726.0,275.1 727.3,272.7 728.6,273.5 729.9,274.1 731.2,274.2 732.5,274.1 733.8,272.6 735.1,274.3 736.4,273.5 737.7,273.4 739.0,273.5 740.3,273.8 741.6,273.3 742.8,272.8 744.1,272.3 745.4,271.0 746.7,270.9 748.0,272.7 749.3,272.4 750.6,270.6 751.9,271.4 753.2,272.7 754.5,272.5 755.8,270.8 757.1,272.6 758.4,271.0 759.7,270.8 761.0,271.0 762.3,270.9 763.6,270.5 764.9,270.8 766.2,271.3 767.5,270.2 768.8,271.0 770.1,272.0 771.4,271.3 772.7,271.8 774.0,269.5 775.3,270.2 776.6,270.6 777.9,270.6 779.2,269.9 780.5,269.7 781.8,270.0 783.1,271.5 784.4,271.7 785.7,271.0 787.0,270.6 788.3,270.9 789.6,270.8 790.9,271.7 792.2,270.4 793.5,270.6 794.8,269.5 796.1,269.2 797.4,270.4 798.7,270.9 800.0,269.5 801.3,270.4 802.6,271.0 803.8,269.8 805.1,268.8 806.4,270.4 807.7,268.4 809.0,270.6 810.3,270.4 811.6,269.4 812.9,269.0 814.2,269.0 815.5,268.4 816.8,268.1 818.1,268.2 819.4,269.1 820.7,268.5 821.9,268.5 823.2,268.2 824.5,268.8 825.8,266.3 827.1,267.3 828.4,266.6 829.7,265.7 831.0,267.1 832.3,265.8 833.6,267.1 834.8,266.8 836.1,265.7 837.4,266.9 838.7,266.1 840.0,265.3 841.3,265.4 842.6,264.8 843.8,264.9 845.1,265.2 846.4,264.3 847.7,264.0 849.0,263.7 850.3,263.0 851.5,264.3 852.8,263.7 854.1,264.5 855.4,263.5 856.7,263.9 857.9,262.5 859.2,261.0 860.5,261.3 861.8,261.9 863.1,261.1 864.3,260.4 865.6,261.8 866.9,260.9 868.2,260.3 869.5,261.4 870.8,259.5 872.0,260.4 873.3,259.5 874.6,259.5 875.9,259.9 877.2,259.6 878.5,259.3 879.8,258.6 881.1,258.1 882.4,259.7 883.6,257.7 884.9,257.6 886.2,258.5 887.5,259.5 888.8,259.0 890.1,258.2 891.4,256.6 892.7,257.8 894.0,256.7 895.3,258.5 896.6,257.6 897.9,257.3 899.2,257.5 900.5,257.6 901.8,257.7 903.1,255.9 904.4,256.5 905.7,255.4 906.9,256.4 908.2,257.0 909.5,256.0 910.8,256.2 912.1,257.5 913.4,256.5 914.7,256.6 916.0,256.0 917.3,256.8 918.6,255.1 919.9,255.5 921.2,257.3 922.5,255.2 923.8,255.5 925.1,255.7 926.4,256.2 927.7,256.5 929.0,257.3 930.3,256.9 931.6,255.4 932.9,256.2 934.2,257.7 935.5,257.4 936.7,257.5 938.0,256.2 939.3,256.9 940.5,257.2 941.8,259.1 943.0,258.8 944.2,259.0 945.4,260.9 946.6,261.4 947.8,261.6 949.0,260.6 950.2,262.0 951.5,263.6 952.7,262.5 953.9,262.2 955.1,262.8 956.3,265.4 957.5,265.8 958.6,266.7 959.8,265.0 961.0,267.0 962.1,266.7 963.3,267.7 964.4,267.5 965.6,269.3 966.7,269.2 967.9,270.7 969.0,270.9 970.1,271.3 971.3,271.5 972.2,271.5" fill="none" stroke="#9467bd" stroke-width="3.8" stroke-linejoin="round" stroke-linecap="butt" stroke-dasharray="12.9 5.4"/>
<polyline points="170.6,455.0 170.9,453.7 171.1,452.5 171.4,451.2 171.6,449.9 171.9,448.6 172.2,447.4 172.4,446.1 172.6,444.8 172.9,443.5 173.1,442.2 173.3,441.0 173.5,439.7 173.7,438.4 173.9,437.1 174.0,435.8 174.2,434.5 174.3,433.2 174.5,431.9 174.6,430.6 174.7,429.3 174.9,428.1 175.0,426.8 175.1,425.5 175.3,424.2 175.4,422.9 175.5,421.6 175.6,420.3 175.8,419.0 175.9,417.7 176.0,416.4 176.1,415.1 176.2,413.8 176.4,412.5 176.5,411.2 176.6,409.9 176.7,408.6 176.8,407.3 176.9,406.1 177.0,404.8 177.1,403.5 177.3,402.2 177.4,400.9 177.5,399.6 177.6,398.3 177.7,397.0 177.8,395.7 177.9,394.4 178.0,393.1 178.2,391.8 178.3,390.5 178.4,389.2 178.5,387.9 178.6,386.6 178.7,385.3 178.9,384.0 179.0,382.7 179.1,381.4 179.2,380.2 179.4,378.9 179.5,377.6 179.6,376.3 179.8,375.0 179.9,373.7 180.0,372.4 180.2,371.1 180.3,369.8 180.4,368.5 180.6,367.2 180.7,365.9 180.9,364.6 181.0,363.3 181.2,362.1 181.3,360.8 181.5,359.5 181.6,358.2 181.8,356.9 182.0,355.6 182.1,354.3 182.3,353.0 182.5,351.7 182.6,350.5 182.8,349.2 183.0,347.9 183.2,346.6 183.4,345.3 183.6,344.0 183.8,342.7 184.0,341.5 184.2,340.2 184.4,338.9 184.6,337.6 184.8,336.3 185.0,335.0 185.2,333.7 185.4,332.5 185.6,331.2 185.8,329.9 186.0,328.6 186.2,327.3 186.4,326.0 186.7,324.8 186.9,323.5 187.1,322.2 187.3,320.9 187.5,319.6 187.7,318.3 187.9,317.1 188.1,315.8 188.3,314.5 188.5,313.2 188.7,311.9 188.9,310.6 189.1,309.4 189.3,308.1 189.5,306.8 189.7,305.5 189.9,304.2 190.0,302.9 190.2,301.6 190.4,300.3 190.5,299.1 190.7,297.8 190.9,296.5 191.1,295.2 191.2,293.9 191.4,292.6 191.7,291.3 191.9,290.1 192.1,288.8 192.4,287.5 192.6,286.2 192.9,285.0 193.2,283.7 193.5,282.4 193.8,281.2 194.1,279.9 194.5,278.6 194.8,277.4 195.1,276.1 195.4,274.9 195.7,273.6 196.0,272.3 196.3,271.1 196.5,269.8 196.8,268.5 197.1,267.2 197.3,266.0 197.6,264.7 197.9,263.4 198.2,262.2 198.5,260.9 198.8,259.6 199.1,258.4 199.4,257.1 199.7,255.8 200.1,254.6 200.5,253.4 200.9,252.1 201.3,250.9 201.9,249.7 202.4,248.5 202.9,247.3 203.5,246.2 204.1,245.0 204.8,243.9 205.4,242.8 206.2,241.7 206.9,240.7 207.8,239.7 208.7,238.8 209.8,238.1 211.1,238.0 212.3,238.6 213.1,239.6 213.7,240.8 214.2,242.0 214.7,243.2 215.2,244.4 215.6,245.6 216.0,246.9 216.4,248.1 216.8,249.3 217.2,250.6 217.6,251.8 218.0,253.0 218.5,254.3 218.9,255.5 219.4,256.7 219.9,257.9 220.5,259.1 221.0,260.3 221.5,261.5 222.0,262.7 222.5,263.9 222.9,265.1 223.4,266.3 223.9,267.5 224.5,268.7 225.0,269.9 225.6,270.5 226.3,272.4 227.1,274.4 227.9,273.6 228.9,275.5 230.0,274.6 231.2,276.3 232.4,275.6 233.7,277.5 235.0,275.9 236.2,276.0 237.4,276.0 238.7,274.6 239.9,274.4 241.2,274.2 242.5,274.5 243.8,274.6 245.1,273.5 246.4,273.3 247.7,272.5 249.0,273.8 250.2,274.2 251.5,273.6 252.8,272.2 254.1,274.2 255.4,273.0 256.7,273.9 258.0,271.9 259.3,273.0 260.6,271.8 261.9,273.0 263.2,271.8 264.5,273.6 265.8,272.8 267.1,273.7 268.4,272.3 269.7,272.9 271.0,271.9 272.3,272.0 273.6,272.1 274.9,273.0 276.2,271.6 277.5,273.9 278.8,273.1 280.1,273.1 281.4,272.6 282.7,274.1 284.0,273.3 285.3,272.1 286.6,272.6 287.9,271.8 289.2,273.0 290.5,271.6 291.8,272.2 293.1,273.2 294.4,272.6 295.7,272.3 297.0,273.4 298.3,272.3 299.6,271.7 300.9,273.4 302.2,273.4 303.5,271.9 304.8,271.8 306.1,273.9 307.4,273.0 308.7,271.4 310.0,271.8 311.3,273.5 312.6,271.5 313.9,271.7 315.2,273.4 316.5,272.4 317.8,271.6 319.1,271.6 320.4,271.1 321.7,271.3 323.0,272.4 324.3,271.9 325.6,270.9 326.9,272.4 328.2,273.0 329.5,271.1 330.8,272.7 332.1,272.6 333.4,270.7 334.7,272.3 336.0,271.2 337.3,272.7 338.6,271.1 339.9,271.7 341.2,271.8 342.5,269.7 343.8,271.2 345.1,269.4 346.4,269.9 347.7,270.5 348.9,269.1 350.2,270.9 351.5,268.7 352.8,269.5 354.1,268.3 355.4,270.0 356.7,270.2 358.0,269.0 359.3,267.9 360.5,269.7 361.8,269.7 363.1,268.7 364.4,269.1 365.7,268.4 367.0,268.8 368.3,268.8 369.5,266.9 370.8,267.1 372.1,267.2 373.4,267.7 374.7,265.4 376.0,266.3 377.3,266.3 378.5,265.5 379.8,265.2 381.1,266.0 382.4,266.6 383.7,266.0 385.0,266.2 386.2,265.8 387.5,264.6 388.8,265.1 390.1,263.4 391.4,263.1 392.7,263.2 394.0,262.9 395.3,262.2 396.5,262.8 397.8,262.9 399.1,263.2 400.4,262.8 401.7,262.7 403.0,263.0 404.3,261.9 405.6,262.1 406.9,262.6 408.2,262.1 409.5,261.8 410.7,262.1 412.0,261.0 413.3,262.4 414.6,261.0 415.9,260.5 417.2,261.0 418.5,260.8 419.8,261.7 421.1,259.4 422.4,260.9 423.7,259.4 424.9,258.6 426.2,259.8 427.5,259.8 428.8,258.6 430.1,260.4 431.4,260.0 432.7,257.6 434.0,260.1 435.3,258.5 436.6,259.7 437.8,258.1 439.1,259.2 440.4,257.5 441.7,256.9 443.0,256.9 444.3,257.8 445.6,257.2 446.9,257.0 448.1,257.8 449.4,255.8 450.7,256.7 452.0,255.8 453.3,255.1 454.6,255.6 455.9,255.0 457.2,256.2 458.4,256.3 459.7,256.1 461.0,255.7 462.3,255.4 463.6,255.4 464.9,254.7 466.2,253.4 467.4,253.5 468.7,254.0 470.0,253.7 471.3,252.6 472.6,254.3 473.9,253.2 475.1,253.0 476.4,253.0 477.7,251.8 479.0,251.5 480.3,253.0 481.5,252.2 482.8,251.3 484.1,252.0 485.4,252.2 486.7,250.8 488.0,251.7 489.2,250.6 490.5,249.6 491.8,250.4 493.1,249.2 494.4,249.1 495.6,250.0 496.9,249.4 498.2,249.3 499.5,249.7 500.8,247.0 502.0,249.3 503.3,248.5 504.6,247.1 505.9,246.4 507.1,246.2 508.4,247.2 509.7,247.5 511.0,246.0 512.3,246.7 513.5,246.3 514.8,246.3 516.1,246.5 517.4,246.3 518.7,244.6 519.9,244.6 521.2,245.7 522.5,245.2 523.8,245.2 525.1,242.9 526.3,243.1 527.6,242.7 528.9,244.2 530.2,242.4 531.4,243.1 532.7,243.8 534.0,242.8 535.3,241.7 536.6,241.7 537.8,241.5 539.1,240.5 540.4,241.9 541.7,241.4 543.0,239.6 544.2,241.1 545.5,239.0 546.8,240.6 548.1,238.7 549.4,240.2 550.7,238.6 551.9,241.0 553.2,240.4 554.3,241.9 555.4,241.0 556.5,242.0 557.5,243.1 558.5,244.5 559.4,243.9 560.3,246.3 561.1,247.5 561.9,247.1 562.6,248.5 563.2,250.3 563.8,251.8 564.4,253.4 565.0,254.4 565.5,255.5 566.1,254.7 566.7,258.0 567.2,257.8 567.8,260.0 568.4,260.2 569.0,260.4 569.7,261.6 570.3,263.5 571.1,265.6 571.9,267.3 572.7,266.6 573.5,268.9 574.4,269.7 575.3,269.9 576.2,271.3 577.1,272.4 578.0,273.1 578.9,273.9 579.8,274.7 580.7,276.6 581.5,276.7 582.3,278.1 583.1,278.5 583.9,280.3 584.7,280.9 585.5,280.7 586.5,283.5 587.4,282.9 588.4,283.3 589.4,284.1 590.5,285.3 591.6,286.6 592.7,287.3 593.8,287.6 595.0,287.3 596.2,289.7 597.4,288.4 598.6,290.8 599.8,289.6 601.0,290.4 602.2,290.3 603.5,292.8 604.7,292.2 606.0,292.1 607.2,293.2 608.5,293.2 609.8,293.6 611.1,294.1 612.4,294.3 613.7,294.6 614.9,292.6 616.2,292.7 617.5,294.8 618.8,295.5 620.1,294.4 621.4,294.4 622.7,295.4 624.0,294.5 625.3,294.1 626.6,295.3 627.9,293.9 629.2,293.9 630.5,294.5 631.8,294.8 633.0,294.1 634.3,292.1 635.5,292.9 636.7,290.7 637.8,291.5 638.9,291.0 640.1,289.6 641.3,290.2 642.6,288.4 643.8,289.1 645.1,289.4 646.4,287.2 647.7,288.7 649.0,287.8 650.3,289.2 651.5,287.8 652.8,288.5 654.1,288.6 655.4,288.5 656.7,288.8 658.0,288.7 659.3,286.1 660.6,286.5 661.9,286.1 663.2,288.4 664.5,287.9 665.8,288.5 667.1,288.4 668.4,286.2 669.7,286.3 671.0,287.5 672.3,286.3 673.6,287.6 674.9,288.0 676.2,286.1 677.5,285.8 678.8,287.0 680.1,286.3 681.4,286.4 682.7,286.8 684.0,286.4 685.3,287.0 686.6,287.2 687.9,285.6 689.2,286.4 690.5,286.8 691.8,286.7 693.1,286.4 694.4,285.8 695.7,287.6 697.0,285.7 698.3,287.5 699.6,285.2 700.9,286.6 702.2,285.6 703.5,286.9 704.8,285.7 706.1,286.2 707.4,286.6 708.7,285.6 710.0,285.1 711.3,284.1 712.6,285.6 713.9,286.0 715.2,285.7 716.5,286.2 717.8,284.2 719.1,285.8 720.4,284.1 721.6,284.4 722.9,284.1 724.2,283.1 725.5,283.9 726.8,283.6 728.1,284.4 729.4,282.9 730.7,283.0 732.0,283.4 733.3,282.5 734.6,283.3 735.9,283.5 737.2,282.7 738.5,283.7 739.8,283.6 741.1,283.3 742.4,284.0 743.7,282.1 745.0,283.4 746.3,282.8 747.6,282.9 748.9,281.8 750.2,281.6 751.5,282.8 752.7,282.3 754.0,282.3 755.3,280.6 756.6,281.3 757.9,282.6 759.2,280.6 760.5,280.4 761.8,280.7 763.1,281.5 764.4,281.8 765.7,281.9 767.0,281.7 768.3,281.4 769.6,281.6 770.9,280.3 772.2,282.4 773.5,280.9 774.8,280.5 776.1,280.1 777.4,281.6 778.7,279.7 780.0,282.2 781.3,281.9 782.6,281.8 783.9,280.0 785.2,281.0 786.5,280.1 787.8,281.5 789.1,280.2 790.4,281.9 791.7,279.5 793.0,280.4 794.3,280.8 795.6,279.9 796.9,280.9 798.2,279.3 799.5,280.8 800.8,281.2 802.1,279.2 803.4,278.9 804.7,280.2 806.0,280.9 807.3,279.1 808.6,280.3 809.9,278.3 811.2,279.7 812.5,279.8 813.8,279.6 815.1,280.1 816.3,278.3 817.6,279.7 818.9,278.0 820.2,277.9 821.5,279.2 822.8,279.0 824.1,278.9 825.4,278.3 826.7,278.8 828.0,278.3 829.3,278.5 830.6,277.8 831.8,276.1 833.1,278.0 834.4,277.9 835.7,275.8 837.0,275.3 838.3,276.7 839.5,274.9 840.8,275.8 842.1,275.0 843.4,274.4 844.6,274.1 845.9,273.3 847.2,275.5 848.5,275.4 849.7,274.8 851.0,273.6 852.3,272.8 853.5,272.2 854.8,271.4 856.1,273.1 857.3,271.5 858.6,272.7 859.8,271.2 861.1,271.3 862.4,271.3 863.6,271.3 864.9,270.2 866.2,269.9 867.5,271.1 868.7,270.0 870.0,268.2 871.3,269.0 872.5,269.6 873.8,269.6 875.1,266.8 876.4,269.0 877.7,267.1 878.9,267.4 880.2,266.1 881.5,267.0 882.8,267.8 884.1,265.4 885.4,265.9 886.7,266.1 887.9,266.6 889.2,264.9 890.5,264.7 891.8,266.8 893.1,265.1 894.4,265.3 895.7,264.0 897.0,264.4 898.3,263.9 899.6,264.3 900.9,264.3 902.2,264.7 903.5,263.3 904.8,263.1 906.0,264.2 907.3,263.1 908.6,265.1 909.9,263.4 911.2,263.5 912.5,263.6 913.8,262.4 915.1,262.8 916.4,263.3 917.7,263.5 919.0,264.3 920.3,262.9 921.6,263.5 922.9,264.3 924.2,264.7 925.5,264.7 926.8,263.1 928.1,264.3 929.4,262.9 930.7,263.1 932.0,264.8 933.3,264.7 934.6,263.0 935.9,264.4 937.2,263.2 938.4,265.9 939.7,266.2 940.9,264.7 942.2,266.3 943.4,266.0 944.7,266.6 945.9,267.8 947.1,267.5 948.3,268.3 949.5,268.8 950.7,269.8 951.9,269.1 953.2,271.1 954.4,269.3 955.6,271.1 956.8,271.7 958.0,270.7 959.1,271.2 960.3,274.2 961.5,272.4 962.6,273.8 963.8,273.7 964.9,275.2 966.1,275.0 967.2,275.8 968.3,276.7 969.5,277.4 970.6,279.1 971.8,279.6 972.2,279.3" fill="none" stroke="#8c564b" stroke-width="3.8" stroke-linejoin="round" stroke-linecap="butt" stroke-dasharray="12.9 5.4"/>
<polyline points="170.6,470.0 170.7,468.7 170.9,467.4 171.0,466.1 171.2,464.8 171.3,463.5 171.4,462.2 171.6,461.0 171.7,459.7 171.8,458.4 172.0,457.1 172.1,455.8 172.3,454.5 172.4,453.2 172.5,451.9 172.7,450.6 172.8,449.3 172.9,448.0 173.1,446.7 173.2,445.4 173.4,444.1 173.5,442.9 173.6,441.6 173.8,440.3 173.9,439.0 174.1,437.7 174.2,436.4 174.3,435.1 174.5,433.8 174.6,432.5 174.8,431.2 174.9,429.9 175.1,428.6 175.2,427.3 175.3,426.1 175.5,424.8 175.6,423.5 175.7,422.2 175.9,420.9 176.0,419.6 176.1,418.3 176.2,417.0 176.3,415.7 176.5,414.4 176.6,413.1 176.7,411.8 176.8,410.5 176.9,409.2 177.0,407.9 177.1,406.6 177.2,405.3 177.4,404.0 177.5,402.8 177.6,401.5 177.7,400.2 177.8,398.9 177.9,397.6 178.0,396.3 178.1,395.0 178.2,393.7 178.4,392.4 178.5,391.1 178.6,389.8 178.7,388.5 178.8,387.2 178.9,385.9 179.1,384.6 179.2,383.3 179.3,382.0 179.4,380.7 179.6,379.4 179.7,378.2 179.8,376.9 179.9,375.6 180.1,374.3 180.2,373.0 180.3,371.7 180.5,370.4 180.6,369.1 180.7,367.8 180.9,366.5 181.0,365.2 181.2,363.9 181.3,362.6 181.5,361.3 181.6,360.1 181.8,358.8 181.9,357.5 182.1,356.2 182.3,354.9 182.4,353.6 182.6,352.3 182.8,351.0 183.0,349.7 183.2,348.5 183.4,347.2 183.5,345.9 183.7,344.6 183.9,343.3 184.1,342.0 184.3,340.7 184.5,339.5 184.7,338.2 185.0,336.9 185.2,335.6 185.4,334.3 185.6,333.0 185.8,331.8 186.0,330.5 186.2,329.2 186.4,327.9 186.6,326.6 186.8,325.4 187.1,324.1 187.3,322.8 187.5,321.5 187.7,320.2 187.9,318.9 188.1,317.7 188.3,316.4 188.5,315.1 188.7,313.8 189.0,312.5 189.2,311.2 189.4,310.0 189.5,308.7 189.7,307.4 189.9,306.1 190.1,304.8 190.3,303.5 190.5,302.2 190.6,300.9 190.8,299.7 191.0,298.4 191.2,297.1 191.3,295.8 191.5,294.5 191.7,293.2 191.9,291.9 192.1,290.7 192.3,289.4 192.6,288.1 192.7,286.8 192.9,285.5 193.0,284.2 193.2,282.9 193.5,281.7 193.8,280.4 194.2,279.2 194.7,277.9 195.1,276.7 195.6,275.5 196.1,274.3 196.6,273.1 197.1,271.9 197.6,270.7 198.1,269.5 198.6,268.3 199.1,267.1 199.6,265.9 200.1,264.7 200.7,263.6 201.2,262.4 201.7,261.2 202.3,260.0 202.8,258.8 203.4,257.6 203.9,256.5 204.5,255.3 205.1,254.1 205.6,253.0 206.2,251.8 206.8,250.6 207.4,249.5 208.1,248.4 208.7,247.2 209.4,246.1 210.1,245.1 210.9,244.0 211.9,243.1 213.1,243.5 213.9,244.5 214.7,245.6 215.0,246.8 215.3,248.1 215.6,249.4 215.8,250.6 216.0,251.9 216.3,253.2 216.5,254.5 216.7,255.8 216.9,257.1 217.1,258.3 217.4,259.6 217.7,260.9 218.1,262.1 218.4,263.4 218.8,264.6 219.2,265.9 219.5,267.1 219.9,268.3 220.3,269.6 220.6,270.8 221.0,272.1 221.4,273.3 221.8,274.6 222.3,275.8 222.8,277.0 223.3,278.2 224.0,279.3 224.8,280.3 225.6,280.2 226.7,282.0 227.9,283.0 229.1,282.6 230.4,282.7 231.7,283.7 233.0,284.2 234.3,284.1 235.6,283.0 236.8,281.2 237.9,281.8 239.1,280.4 240.4,281.9 241.7,279.7 242.9,281.6 244.2,279.3 245.5,279.9 246.8,280.4 248.1,280.2 249.4,279.5 250.7,278.5 252.0,279.5 253.3,280.2 254.6,279.5 255.9,280.9 257.2,280.0 258.5,279.5 259.8,278.4 261.1,278.7 262.4,279.1 263.7,280.8 265.0,280.8 266.3,279.6 267.6,279.1 268.9,279.0 270.2,279.9 271.5,280.1 272.8,279.2 274.1,280.5 275.4,279.7 276.7,279.1 278.0,278.9 279.3,280.4 280.6,280.6 281.9,281.2 283.2,279.6 284.5,279.4 285.8,281.0 287.1,279.5 288.4,279.8 289.7,280.6 291.0,279.1 292.3,279.7 293.6,279.1 294.9,281.4 296.2,280.5 297.5,281.1 298.8,279.6 300.1,280.7 301.4,280.4 302.7,280.3 304.0,280.7 305.3,279.5 306.6,280.6 307.9,280.6 309.2,279.1 310.5,279.7 311.8,279.7 313.1,279.7 314.4,281.4 315.7,278.9 317.0,280.1 318.3,280.6 319.6,281.5 320.9,280.0 322.2,279.0 323.5,280.4 324.8,280.0 326.1,278.7 327.4,278.7 328.7,279.6 330.0,279.8 331.3,281.1 332.6,278.6 333.9,278.5 335.2,278.7 336.5,279.9 337.8,279.9 339.1,278.4 340.4,278.3 341.7,280.1 343.0,277.6 344.3,279.0 345.5,279.3 346.8,277.9 348.1,279.5 349.4,279.0 350.7,278.6 352.0,276.8 353.3,277.2 354.6,277.5 355.9,278.1 357.2,278.3 358.5,275.9 359.8,277.1 361.0,277.8 362.3,277.0 363.6,277.5 364.9,277.5 366.2,274.8 367.5,277.3 368.8,275.3 370.1,275.6 371.4,274.3 372.6,275.1 373.9,274.0 375.2,273.7 376.5,273.5 377.8,274.2 379.1,275.3 380.4,274.3 381.6,273.9 382.9,273.2 384.2,273.4 385.5,272.6 386.8,272.6 388.1,273.8 389.4,272.1 390.7,271.5 391.9,272.4 393.2,271.6 394.5,271.1 395.8,271.1 397.1,270.8 398.4,271.1 399.7,272.1 401.0,271.6 402.3,269.9 403.6,271.9 404.8,272.2 406.1,270.0 407.4,269.4 408.7,270.3 410.0,271.4 411.3,270.8 412.6,268.6 413.9,269.8 415.1,270.8 416.4,269.3 417.7,269.5 419.0,268.7 420.3,268.0 421.6,267.7 422.9,269.3 424.2,268.0 425.5,269.1 426.7,268.7 428.0,267.8 429.3,268.4 430.6,267.2 431.9,266.1 433.2,267.7 434.5,266.1 435.7,267.4 437.0,267.1 438.3,266.0 439.6,267.4 440.9,266.2 442.2,264.6 443.5,264.7 444.8,265.9 446.1,266.3 447.3,265.1 448.6,264.6 449.9,264.3 451.2,264.2 452.5,263.1 453.8,264.0 455.1,264.5 456.4,264.9 457.7,264.9 459.0,264.5 460.2,263.1 461.5,264.2 462.8,263.2 464.1,262.4 465.4,263.2 466.7,262.5 468.0,261.1 469.2,260.8 470.5,262.4 471.8,262.9 473.1,260.8 474.4,261.5 475.7,262.4 476.9,260.5 478.2,259.8 479.5,259.9 480.8,260.5 482.0,260.4 483.3,259.7 484.6,259.5 485.9,257.7 487.1,257.9 488.4,257.4 489.7,258.0 490.9,257.2 492.2,258.9 493.5,256.1 494.7,257.0 496.0,255.9 497.3,256.4 498.5,257.0 499.8,256.2 501.0,254.2 502.3,255.5 503.6,255.0 504.8,255.7 506.1,254.3 507.4,253.9 508.6,254.1 509.9,252.2 511.1,253.4 512.4,252.0 513.7,251.5 514.9,252.7 516.2,252.4 517.5,251.3 518.7,252.5 520.0,249.6 521.3,251.1 522.5,249.3 523.8,250.4 525.1,248.9 526.3,248.8 527.6,249.1 528.9,248.6 530.1,249.0 531.4,247.7 532.7,247.3 533.9,247.4 535.2,248.5 536.5,247.3 537.8,248.1 539.0,247.5 540.3,246.2 541.6,246.5 542.9,245.1 544.2,245.9 545.4,244.5 546.7,246.0 548.0,245.5 549.3,246.0 550.6,246.2 551.9,246.2 553.2,245.8 554.5,244.2 555.8,244.7 556.9,245.4 557.6,246.7 558.1,248.3 558.4,250.1 558.8,250.4 559.4,253.3 560.1,253.8 560.8,253.5 561.5,255.7 562.2,257.1 562.9,256.5 563.5,259.7 564.1,260.4 564.7,260.3 565.3,263.6 565.9,263.7 566.4,265.3 567.0,266.0 567.7,268.3 568.3,268.0 569.0,269.4 569.7,271.6 570.4,271.2 571.2,272.4 571.9,272.6 572.7,273.4 573.6,274.6 574.4,276.7 575.2,278.2 576.1,277.2 576.9,278.7 577.7,281.2 578.6,281.3 579.4,281.6 580.2,284.8 581.0,285.8 581.8,285.8 582.6,285.4 583.5,287.9 584.3,289.1 585.2,288.3 586.2,291.6 587.2,291.2 588.2,290.8 589.3,293.1 590.3,293.7 591.4,293.8 592.5,294.2 593.6,294.7 594.8,294.9 596.0,296.2 597.1,298.4 598.3,297.1 599.5,297.1 600.7,298.5 601.9,299.7 603.2,300.8 604.4,300.4 605.6,300.8 606.9,301.9 608.1,300.9 609.4,300.5 610.6,301.7 611.9,301.5 613.2,302.2 614.5,303.3 615.8,303.4 617.1,301.4 618.4,302.6 619.7,302.9 621.0,301.6 622.3,303.3 623.5,302.6 624.8,300.3 626.1,302.0 627.4,300.0 628.6,301.7 629.9,301.2 631.2,301.0 632.4,300.0 633.7,299.8 634.9,299.8 636.1,298.6 637.4,298.7 638.7,297.7 639.9,297.3 641.2,297.3 642.5,297.8 643.8,297.9 645.0,296.8 646.3,295.4 647.6,296.2 648.9,296.1 650.2,296.2 651.5,296.6 652.8,295.3 654.1,296.6 655.4,296.0 656.7,296.3 658.0,294.7 659.3,294.3 660.6,296.6 661.9,296.0 663.2,296.0 664.5,295.9 665.8,295.0 667.1,294.9 668.4,295.6 669.7,295.9 670.9,296.4 672.2,295.1 673.5,295.3 674.8,295.3 676.1,296.5 677.4,295.6 678.7,297.5 680.0,297.8 681.3,297.7 682.6,296.1 683.9,298.1 685.2,297.3 686.5,296.6 687.8,298.4 689.1,297.9 690.4,297.6 691.7,297.8 693.0,296.8 694.3,298.6 695.6,296.2 696.9,296.4 698.2,296.8 699.5,297.6 700.8,297.0 702.1,297.7 703.4,296.9 704.7,295.9 706.0,296.7 707.3,295.9 708.6,297.2 709.8,295.5 711.1,294.9 712.4,296.0 713.7,295.0 715.0,294.2 716.3,294.8 717.6,295.0 718.9,295.3 720.2,295.8 721.5,294.7 722.7,294.1 724.0,294.8 725.3,294.4 726.6,294.1 727.9,293.4 729.2,294.3 730.5,294.0 731.7,292.2 733.0,292.6 734.3,293.4 735.6,293.5 736.9,293.5 738.2,290.9 739.5,292.8 740.8,291.4 742.0,291.9 743.3,290.3 744.6,291.1 745.9,291.6 747.2,290.9 748.5,291.4 749.8,291.4 751.1,290.4 752.4,290.1 753.6,289.8 754.9,289.5 756.2,289.3 757.5,290.5 758.8,289.4 760.1,289.7 761.4,289.6 762.7,290.5 764.0,288.9 765.3,289.1 766.6,289.2 767.9,288.6 769.2,288.7 770.5,289.3 771.8,289.4 773.1,288.5 774.4,290.3 775.7,288.8 777.0,290.2 778.3,289.6 779.6,288.5 780.9,289.4 782.2,290.3 783.5,288.9 784.8,288.5 786.1,290.5 787.4,290.9 788.7,291.0 790.0,290.5 791.3,290.9 792.6,290.3 793.9,289.1 795.2,290.9 796.5,288.4 797.8,290.3 799.1,289.0 800.4,290.1 801.7,290.3 803.0,290.0 804.3,288.1 805.6,288.7 806.9,288.4 808.1,287.9 809.4,288.4 810.7,287.1 812.0,287.2 813.3,288.5 814.6,286.8 815.9,287.1 817.2,286.8 818.5,286.9 819.8,287.4 821.1,285.9 822.3,287.8 823.6,285.7 824.9,286.0 826.2,286.1 827.5,286.3 828.8,284.8 830.1,286.9 831.3,286.8 832.6,286.2 833.9,285.2 835.2,285.2 836.5,284.6 837.7,283.3 839.0,283.0 840.3,283.6 841.5,283.7 842.8,282.8 844.1,283.0 845.3,282.2 846.6,283.7 847.9,282.0 849.1,281.5 850.4,280.1 851.6,281.2 852.9,279.8 854.2,281.3 855.4,279.8 856.7,279.2 857.9,280.5 859.2,278.3 860.4,279.7 861.7,279.7 863.0,278.2 864.2,276.5 865.5,277.6 866.7,276.3 868.0,275.6 869.3,276.0 870.5,276.6 871.8,277.1 873.1,275.4 874.3,274.1 875.6,275.4 876.9,275.2 878.2,275.6 879.4,274.5 880.7,274.3 882.0,272.7 883.3,274.6 884.6,273.1 885.9,274.0 887.1,273.5 888.4,272.0 889.7,274.0 891.0,273.7 892.3,271.3 893.6,272.2 894.9,272.8 896.2,270.9 897.5,272.9 898.8,271.8 900.1,272.4 901.4,272.9 902.7,271.5 903.9,270.4 905.2,272.5 906.5,272.5 907.8,271.2 909.1,270.3 910.4,269.8 911.7,269.8 913.0,272.0 914.3,271.2 915.6,270.5 916.9,271.1 918.2,269.9 919.5,270.4 920.8,269.5 922.1,270.8 923.4,271.6 924.7,271.4 926.0,269.9 927.3,271.9 928.6,269.4 929.9,269.6 931.2,271.2 932.5,270.5 933.8,271.7 935.1,270.1 936.4,270.6 937.7,271.6 938.9,273.0 940.2,271.7 941.5,273.4 942.7,273.1 944.0,273.8 945.2,273.9 946.4,275.1 947.6,274.5 948.8,274.7 950.1,274.4 951.3,276.5 952.5,276.2 953.7,277.7 954.9,277.2 956.1,278.3 957.3,279.0 958.4,279.0 959.6,278.9 960.8,280.1 961.9,281.6 963.0,281.5 964.2,281.1 965.3,282.2 966.4,282.8 967.5,283.2 968.7,285.3 969.8,286.3 970.9,287.0 972.0,285.5 972.2,286.3" fill="none" stroke="#e377c2" stroke-width="3.8" stroke-linejoin="round" stroke-linecap="butt" stroke-dasharray="12.9 5.4"/>
</g>
<rect x="130.2" y="1.0" width="880.5999999999999" height="656.5" fill="none" stroke="#000" stroke-width="2.0" stroke-linejoin="miter"/>
<path d="M170.00,657.5 v7.9 M356.90,657.5 v7.9 M543.80,657.5 v7.9 M730.70,657.5 v7.9 M917.60,657.5 v7.9 M130.2,85.40 h-7.9 M130.2,186.20 h-7.9 M130.2,287.00 h-7.9 M130.2,387.80 h-7.9 M130.2,488.60 h-7.9 M130.2,589.40 h-7.9" stroke="#000" stroke-width="2.0" fill="none"/>
<text transform="translate(162.43,695.20) scale(1,1.06)" font-size="30.30">0</text>
<text transform="translate(341.75,695.20) scale(1,1.06)" font-size="30.30">10</text>
<text transform="translate(528.65,695.20) scale(1,1.06)" font-size="30.30">20</text>
<text transform="translate(715.55,695.20) scale(1,1.06)" font-size="30.30">30</text>
<text transform="translate(902.45,695.20) scale(1,1.06)" font-size="30.30">40</text>
<text x="101.20" y="84.70" font-size="22.20">2</text><text transform="translate(72.35,95.80) scale(1,1.06)" font-size="30.30">10</text>
<text x="101.20" y="185.50" font-size="22.20">1</text><rect x="86.20" y="179.20" width="13.8" height="1.5"/><text transform="translate(55.00,196.60) scale(1,1.06)" font-size="30.30">10</text>
<text x="101.20" y="286.30" font-size="22.20">4</text><rect x="86.20" y="280.00" width="13.8" height="1.5"/><text transform="translate(55.00,297.40) scale(1,1.06)" font-size="30.30">10</text>
<text x="101.20" y="387.10" font-size="22.20">7</text><rect x="86.20" y="380.80" width="13.8" height="1.5"/><text transform="translate(55.00,398.20) scale(1,1.06)" font-size="30.30">10</text>
<text x="90.10" y="487.90" font-size="22.20">10</text><rect x="75.10" y="481.60" width="13.8" height="1.5"/><text transform="translate(43.90,499.00) scale(1,1.06)" font-size="30.30">10</text>
<text x="90.10" y="588.70" font-size="22.20">13</text><rect x="75.10" y="582.40" width="13.8" height="1.5"/><text transform="translate(43.90,599.80) scale(1,1.06)" font-size="30.30">10</text>
<text x="565.67" y="731.20" font-size="30.30" font-style="italic">t</text>
<g transform="translate(26.0,368.3) rotate(-90)"><text x="0.00" y="0.00" font-size="30.30">ϕ</text><text x="18.50" y="-11.50" font-size="22.20">2</text><text x="40.70" y="0.00" font-size="30.30" font-style="italic">k</text><text x="55.20" y="3.60" font-size="20.30" font-style="italic">y</text></g><path d="M3.1,328.80 Q18.1,341.00 33.1,328.80 M3.1,302.20 Q18.1,289.40 33.1,302.20" fill="none" stroke="#000" stroke-width="1.5"/>
<g>
<svg x="0" y="0" width="1025" height="657.4" overflow="hidden">
<rect x="237.0" y="289.5" width="191.60000000000002" height="410.5" rx="5.5" ry="5.5" fill="#fff" fill-opacity="0.8" stroke="#cccccc" stroke-opacity="0.8" stroke-width="2.0"/>
</svg>
<path d="M248.3,310.30 H303.7" stroke="#1f77b4" stroke-width="3.8" stroke-linecap="square" fill="none"/>
<text x="325.26" y="320.30" font-size="29.00" font-style="italic">k</text><text x="338.48" y="323.60" font-size="20.30" font-style="italic">y</text><path d="M354.90,310.80 H373.00 M354.90,316.10 H373.00" stroke="#000" stroke-width="1.45" fill="none"/><text transform="translate(380.20,320.30) scale(1,1.05)" font-size="29.00">0</text>
<path d="M248.3,351.60 H303.7" stroke="#ff7f0e" stroke-width="3.8" stroke-linecap="square" fill="none"/>
<text x="325.26" y="361.60" font-size="29.00" font-style="italic">k</text><text x="338.48" y="364.90" font-size="20.30" font-style="italic">y</text><path d="M354.90,352.10 H373.00 M354.90,357.40 H373.00" stroke="#000" stroke-width="1.45" fill="none"/><text transform="translate(380.20,361.60) scale(1,1.05)" font-size="29.00">0.1</text>
<path d="M248.3,392.90 H303.7" stroke="#2ca02c" stroke-width="3.8" stroke-linecap="square" fill="none"/>
<text x="325.26" y="402.90" font-size="29.00" font-style="italic">k</text><text x="338.48" y="406.20" font-size="20.30" font-style="italic">y</text><path d="M354.90,393.40 H373.00 M354.90,398.70 H373.00" stroke="#000" stroke-width="1.45" fill="none"/><text transform="translate(380.20,402.90) scale(1,1.05)" font-size="29.00">0.2</text>
<path d="M248.3,434.20 H303.7" stroke="#d62728" stroke-width="3.8" stroke-linecap="square" fill="none"/>
<text x="325.26" y="444.20" font-size="29.00" font-style="italic">k</text><text x="338.48" y="447.50" font-size="20.30" font-style="italic">y</text><path d="M354.90,434.70 H373.00 M354.90,440.00 H373.00" stroke="#000" stroke-width="1.45" fill="none"/><text transform="translate(380.20,444.20) scale(1,1.05)" font-size="29.00">0.3</text>
<path d="M248.3,475.50 H303.7" stroke="#9467bd" stroke-width="3.8" stroke-linecap="square" fill="none"/>
<text x="325.26" y="485.50" font-size="29.00" font-style="italic">k</text><text x="338.48" y="488.80" font-size="20.30" font-style="italic">y</text><path d="M354.90,476.00 H373.00 M354.90,481.30 H373.00" stroke="#000" stroke-width="1.45" fill="none"/><text transform="translate(380.20,485.50) scale(1,1.05)" font-size="29.00">0.4</text>
<path d="M248.3,516.80 H303.7" stroke="#8c564b" stroke-width="3.8" stroke-linecap="square" fill="none"/>
<text x="325.26" y="526.80" font-size="29.00" font-style="italic">k</text><text x="338.48" y="530.10" font-size="20.30" font-style="italic">y</text><path d="M354.90,517.30 H373.00 M354.90,522.60 H373.00" stroke="#000" stroke-width="1.45" fill="none"/><text transform="translate(380.20,526.80) scale(1,1.05)" font-size="29.00">0.5</text>
<path d="M248.3,558.10 H303.7" stroke="#e377c2" stroke-width="3.8" stroke-linecap="square" fill="none"/>
<text x="325.26" y="568.10" font-size="29.00" font-style="italic">k</text><text x="338.48" y="571.40" font-size="20.30" font-style="italic">y</text><path d="M354.90,558.60 H373.00 M354.90,563.90 H373.00" stroke="#000" stroke-width="1.45" fill="none"/><text transform="translate(380.20,568.10) scale(1,1.05)" font-size="29.00">0.6</text>
<path d="M248.3,599.40 H303.7" stroke="#7f7f7f" stroke-width="3.8" stroke-linecap="square" fill="none"/>
<text x="325.26" y="609.40" font-size="29.00" font-style="italic">k</text><text x="338.48" y="612.70" font-size="20.30" font-style="italic">y</text><path d="M354.90,599.90 H373.00 M354.90,605.20 H373.00" stroke="#000" stroke-width="1.45" fill="none"/><text transform="translate(380.20,609.40) scale(1,1.05)" font-size="29.00">0.7</text>
<path d="M248.3,640.70 H303.7" stroke="#bcbd22" stroke-width="3.8" stroke-linecap="square" fill="none"/>
<text x="325.26" y="650.70" font-size="29.00" font-style="italic">k</text><text x="338.48" y="654.00" font-size="20.30" font-style="italic">y</text><path d="M354.90,641.20 H373.00 M354.90,646.50 H373.00" stroke="#000" stroke-width="1.45" fill="none"/><text transform="translate(380.20,650.70) scale(1,1.05)" font-size="29.00">0.8</text>
</g>
<rect x="442.0" y="286.0" width="192.60000000000002" height="343.0" rx="5.5" ry="5.5" fill="#fff" fill-opacity="0.8" stroke="#cccccc" stroke-opacity="0.8" stroke-width="2.0"/>
<path d="M453.3,311.20 H509" stroke="#17becf" stroke-width="3.8" stroke-dasharray="12.9 5.4" fill="none"/>
<text x="530.76" y="321.20" font-size="29.00" font-style="italic">k</text><text x="543.98" y="324.50" font-size="20.30" font-style="italic">y</text><path d="M560.40,311.70 H578.50 M560.40,317.00 H578.50" stroke="#000" stroke-width="1.45" fill="none"/><text transform="translate(585.70,321.20) scale(1,1.05)" font-size="29.00">2</text>
<path d="M453.3,352.65 H509" stroke="#1f77b4" stroke-width="3.8" stroke-dasharray="12.9 5.4" fill="none"/>
<text x="530.76" y="362.65" font-size="29.00" font-style="italic">k</text><text x="543.98" y="365.95" font-size="20.30" font-style="italic">y</text><path d="M560.40,353.15 H578.50 M560.40,358.45 H578.50" stroke="#000" stroke-width="1.45" fill="none"/><text transform="translate(585.70,362.65) scale(1,1.05)" font-size="29.00">4</text>
<path d="M453.3,394.10 H509" stroke="#ff7f0e" stroke-width="3.8" stroke-dasharray="12.9 5.4" fill="none"/>
<text x="530.76" y="404.10" font-size="29.00" font-style="italic">k</text><text x="543.98" y="407.40" font-size="20.30" font-style="italic">y</text><path d="M560.40,394.60 H578.50 M560.40,399.90 H578.50" stroke="#000" stroke-width="1.45" fill="none"/><text transform="translate(585.70,404.10) scale(1,1.05)" font-size="29.00">6</text>
<path d="M453.3,435.55 H509" stroke="#2ca02c" stroke-width="3.8" stroke-dasharray="12.9 5.4" fill="none"/>
<text x="530.76" y="445.55" font-size="29.00" font-style="italic">k</text><text x="543.98" y="448.85" font-size="20.30" font-style="italic">y</text><path d="M560.40,436.05 H578.50 M560.40,441.35 H578.50" stroke="#000" stroke-width="1.45" fill="none"/><text transform="translate(585.70,445.55) scale(1,1.05)" font-size="29.00">8</text>
<path d="M453.3,477.00 H509" stroke="#d62728" stroke-width="3.8" stroke-dasharray="12.9 5.4" fill="none"/>
<text x="530.76" y="487.00" font-size="29.00" font-style="italic">k</text><text x="543.98" y="490.30" font-size="20.30" font-style="italic">y</text><path d="M560.40,477.50 H578.50 M560.40,482.80 H578.50" stroke="#000" stroke-width="1.45" fill="none"/><text transform="translate(585.70,487.00) scale(1,1.05)" font-size="29.00">10</text>
<path d="M453.3,518.45 H509" stroke="#9467bd" stroke-width="3.8" stroke-dasharray="12.9 5.4" fill="none"/>
<text x="530.76" y="528.45" font-size="29.00" font-style="italic">k</text><text x="543.98" y="531.75" font-size="20.30" font-style="italic">y</text><path d="M560.40,518.95 H578.50 M560.40,524.25 H578.50" stroke="#000" stroke-width="1.45" fill="none"/><text transform="translate(585.70,528.45) scale(1,1.05)" font-size="29.00">12</text>
<path d="M453.3,559.90 H509" stroke="#8c564b" stroke-width="3.8" stroke-dasharray="12.9 5.4" fill="none"/>
<text x="530.76" y="569.90" font-size="29.00" font-style="italic">k</text><text x="543.98" y="573.20" font-size="20.30" font-style="italic">y</text><path d="M560.40,560.40 H578.50 M560.40,565.70 H578.50" stroke="#000" stroke-width="1.45" fill="none"/><text transform="translate(585.70,569.90) scale(1,1.05)" font-size="29.00">14</text>
<path d="M453.3,601.35 H509" stroke="#e377c2" stroke-width="3.8" stroke-dasharray="12.9 5.4" fill="none"/>
<text x="530.76" y="611.35" font-size="29.00" font-style="italic">k</text><text x="543.98" y="614.65" font-size="20.30" font-style="italic">y</text><path d="M560.40,601.85 H578.50 M560.40,607.15 H578.50" stroke="#000" stroke-width="1.45" fill="none"/><text transform="translate(585.70,611.35) scale(1,1.05)" font-size="29.00">16</text>
<g clip-path="url(#cb)">
<polyline points="131.0,1336.0 131.2,1337.2 131.5,1338.9 131.7,1340.9 132.1,1343.1 132.4,1345.6 132.8,1348.1 133.2,1350.6 133.6,1353.0 134.0,1355.3 134.4,1357.3 134.8,1359.1 135.2,1360.4 137.6,1363.3 139.8,1362.7 141.0,1362.3 141.9,1358.8 142.1,1357.4 142.2,1355.8 142.3,1354.0 142.5,1352.0 142.6,1349.8 142.7,1347.5 142.8,1345.2 143.0,1342.8 143.1,1340.4 143.2,1338.1 143.4,1335.8 143.6,1333.8 143.7,1331.9 143.9,1330.1 144.1,1328.3 144.2,1326.4 144.4,1324.5 144.6,1322.6 144.8,1320.5 145.0,1318.2 145.1,1315.8 145.3,1313.1 145.5,1310.2 145.6,1308.6 145.7,1306.9 145.7,1305.2 145.8,1303.5 145.9,1301.7 146.0,1299.9 146.0,1298.0 146.1,1296.1 146.2,1294.1 146.2,1292.1 146.3,1290.1 146.4,1288.0 146.5,1285.9 146.5,1283.8 146.6,1281.6 146.7,1279.3 146.8,1277.1 146.9,1274.8 147.0,1272.4 147.1,1270.0 147.2,1267.6 147.4,1265.2 147.5,1262.7 147.6,1260.9 147.7,1259.1 147.8,1257.3 147.9,1255.4 148.0,1253.6 148.2,1251.6 148.3,1249.7 148.4,1247.7 148.5,1245.7 148.7,1243.7 148.8,1241.7 149.0,1239.6 149.1,1237.5 149.2,1235.4 149.4,1233.3 149.5,1231.2 149.7,1229.1 149.8,1227.0 150.0,1224.8 150.1,1222.7 150.3,1220.5 150.4,1218.4 150.6,1216.2 150.7,1214.1 150.9,1211.9 151.0,1209.8 151.1,1207.7 151.3,1205.5 151.4,1203.4 151.6,1201.3 151.7,1199.2 151.9,1197.2 152.0,1195.1 152.1,1193.0 152.3,1190.9 152.4,1188.7 152.6,1186.5 152.7,1184.3 152.8,1182.0 153.0,1179.7 153.1,1177.4 153.3,1175.0 153.4,1172.7 153.6,1170.3 153.7,1168.0 153.9,1165.6 154.0,1163.3 154.2,1161.0 154.3,1158.7 154.5,1156.4 154.6,1154.2 154.7,1152.0 154.9,1149.8 155.0,1147.7 155.2,1145.6 155.3,1143.6 155.4,1141.6 155.6,1139.7 155.7,1137.9 155.8,1136.2 155.9,1134.5 156.1,1132.9 156.2,1131.5 156.3,1130.1 156.4,1128.8 156.5,1127.6 157.3,1120.4 158.0,1120.0 158.8,1120.8 160.1,1122.4 161.6,1125.2 163.3,1125.3 163.9,1124.3 164.5,1123.0 165.1,1121.4 165.8,1119.6 166.5,1117.5 167.2,1115.2 167.9,1112.8 168.6,1110.2 169.3,1107.6 170.0,1105.0 170.4,1103.2 170.9,1101.3 171.3,1099.2 171.8,1097.0 172.3,1094.8 172.8,1092.4 173.2,1090.0 173.7,1087.7 174.2,1085.3 174.6,1083.1 175.0,1080.9 175.5,1078.8 175.8,1076.9 176.2,1075.2 176.5,1073.7 176.8,1072.4 177.9,1068.5 178.5,1068.5 181.0,1066.5 181.2,1065.2 181.5,1063.5 181.7,1061.6 181.9,1059.4 182.2,1057.2 182.4,1054.8 182.6,1052.3 182.9,1049.8 183.1,1047.4 183.3,1045.0 183.5,1043.0 183.6,1041.0 183.7,1038.9 183.9,1036.8 184.0,1034.7 184.1,1032.6 184.3,1030.4 184.4,1028.3 184.6,1026.3 184.8,1024.3 185.0,1022.3 185.3,1020.5 185.7,1018.2 186.3,1016.1 186.8,1014.1 187.5,1012.2 188.1,1010.4 188.7,1008.5 189.3,1006.5 189.9,1004.4 190.4,1002.1 190.7,1000.2 191.0,998.1 191.3,995.9 191.6,993.6 191.8,991.3 192.1,989.0 192.3,986.7 192.5,984.5 192.8,982.4 193.0,980.6 193.3,978.9 193.5,977.6 194.8,974.3 196.5,973.5 198.3,971.7 200.4,969.9 202.2,968.9 204.1,969.2 205.7,971.4 206.4,972.8 207.2,974.5 208.0,976.6 208.8,978.9 209.8,981.6 210.4,983.3 211.1,985.4 211.8,987.5 212.5,989.8 213.3,992.1 214.0,994.4 214.7,996.5 215.4,998.4 216.0,1000.0 217.0,1002.5 217.8,1004.1 218.7,1005.4 220.1,1007.2 221.2,1008.6 222.5,1010.1 223.9,1011.8 225.4,1013.4 227.0,1015.0 228.5,1016.4 230.0,1017.5 232.0,1018.6 234.1,1019.4 236.2,1019.9 238.2,1020.2 240.0,1020.5 242.5,1020.9 244.7,1020.9 247.1,1020.5 249.2,1019.7 251.5,1018.5 253.8,1017.3 255.8,1016.6 257.9,1016.7 259.7,1017.4 262.0,1018.0 264.0,1018.3 266.3,1018.7 268.7,1019.1 271.1,1019.2 273.0,1019.0 275.3,1017.5 277.1,1015.2 278.8,1013.7 281.5,1014.3 284.6,1015.1 286.2,1014.6 288.0,1013.8 289.9,1012.8 292.1,1011.7 294.4,1010.7 296.3,1010.0 298.4,1009.3 300.6,1008.6 302.8,1007.9 305.0,1007.2 307.1,1006.5 309.0,1005.9 311.3,1005.2 313.3,1004.8 315.1,1004.3 316.9,1003.7 318.8,1002.9 320.7,1001.7 322.7,1000.3 324.6,998.8 326.6,997.3 328.5,996.1 330.5,995.2 332.5,994.5 334.5,994.0 336.5,993.4 338.3,992.7 340.5,991.6 342.5,990.3 344.4,989.1 346.1,988.3 348.5,988.4 351.0,988.3 352.5,987.5 354.1,986.5 355.9,985.2 357.8,983.8 359.8,982.4 361.2,981.4 362.5,980.4 363.9,979.4 365.4,978.4 367.1,977.2 369.1,975.9 371.5,974.5 372.9,973.7 374.4,972.9 376.0,972.0 377.8,971.1 379.6,970.2 381.4,969.3 383.3,968.3 385.3,967.3 387.3,966.3 389.2,965.3 391.2,964.2 393.2,963.2 395.1,962.2 396.9,961.2 398.7,960.2 400.5,959.2 402.3,958.1 404.2,957.1 406.0,956.0 407.8,955.0 409.6,953.9 411.4,952.9 413.2,951.8 415.0,950.7 416.9,949.7 418.7,948.6 420.5,947.5 422.3,946.5 424.1,945.5 425.9,944.4 427.7,943.4 429.6,942.4 431.4,941.3 433.2,940.3 435.0,939.3 436.8,938.3 438.6,937.2 440.5,936.2 442.3,935.1 444.1,934.1 445.9,933.1 447.7,932.0 449.5,930.9 451.3,929.9 453.1,928.8 454.9,927.7 456.7,926.6 458.5,925.5 460.3,924.4 462.2,923.3 464.0,922.2 465.8,921.1 467.6,920.0 469.4,918.9 471.2,917.9 473.0,916.8 474.8,915.8 476.6,914.7 478.3,913.7 480.1,912.7 481.8,911.8 483.5,910.8 485.3,909.8 487.1,908.8 488.9,907.8 490.7,906.9 492.5,905.9 494.4,904.9 496.4,903.8 498.4,902.8 500.1,901.9 501.8,901.1 503.6,900.3 505.4,899.4 507.2,898.6 509.0,897.8 510.8,897.0 512.7,896.1 514.6,895.3 516.5,894.4 518.4,893.5 520.3,892.6 522.3,891.7 524.2,890.7 526.2,889.7 528.2,888.7 530.2,887.6 531.8,886.7 533.4,885.8 535.0,884.9 536.5,884.0 538.1,883.1 539.7,882.1 541.3,881.2 542.8,880.2 544.4,879.2 546.1,878.2 547.7,877.2 549.4,876.2 551.1,875.1 552.8,874.1 554.6,872.9 556.4,871.8 558.3,870.7 560.2,869.5 562.2,868.3 564.2,867.1 566.3,865.8 567.8,864.9 569.2,864.0 570.8,863.1 572.3,862.2 573.9,861.3 575.4,860.3 577.0,859.4 578.7,858.4 580.3,857.4 582.0,856.4 583.7,855.4 585.4,854.4 587.1,853.4 588.8,852.3 590.6,851.3 592.3,850.2 594.1,849.2 595.9,848.1 597.7,847.0 599.5,846.0 601.3,844.9 603.2,843.8 605.0,842.7 606.9,841.6 608.7,840.5 610.6,839.4 612.5,838.4 614.3,837.3 616.2,836.2 618.1,835.1 620.0,834.0 621.7,833.1 623.4,832.1 625.1,831.1 626.9,830.1 628.7,829.0 630.5,828.0 632.4,826.9 634.3,825.8 636.3,824.7 638.2,823.6 640.2,822.5 642.1,821.4 644.1,820.2 646.1,819.1 648.1,818.0 650.1,816.9 652.1,815.8 654.0,814.7 656.0,813.6 657.9,812.5 659.8,811.4 661.7,810.4 663.6,809.3 665.4,808.3 667.2,807.3 668.9,806.4 670.6,805.4 672.3,804.5 673.9,803.6 675.4,802.8 676.9,802.0 678.4,801.2 679.7,800.5 681.0,799.8 682.2,799.1 683.4,798.5 687.8,796.3 691.0,794.8 693.3,793.9 695.0,793.3 696.3,793.1 697.4,792.8 698.6,792.5 700.0,792.0 702.5,790.8 704.7,789.7 706.6,788.6 708.4,787.7 710.0,787.0 712.3,786.4 714.1,786.2 716.0,786.5 717.9,787.1 719.8,788.2 722.0,790.0 723.1,791.1 724.3,792.2 725.6,793.5 727.0,795.0 728.4,796.7 729.8,798.5 731.2,800.6 732.1,802.1 733.1,803.8 734.0,805.7 735.0,807.6 736.0,809.7 737.0,811.7 738.1,813.8 739.1,815.7 740.1,817.6 741.1,819.3 742.1,820.9 743.7,823.0 745.2,824.8 746.8,826.4 748.4,827.9 750.0,829.3 751.5,830.8 753.1,832.4 754.4,833.9 755.6,835.5 756.9,837.1 758.1,838.7 759.3,840.3 760.7,841.9 762.3,843.4 764.0,844.9 765.5,846.0 767.2,847.2 769.0,848.3 770.8,849.4 772.8,850.5 774.7,851.5 776.7,852.5 778.7,853.5 780.7,854.4 782.7,855.2 784.7,856.0 786.7,856.6 788.7,857.3 790.8,857.9 792.8,858.4 794.9,858.9 797.0,859.4 799.0,859.8 801.0,860.2 803.0,860.5 805.1,860.8 807.1,860.9 809.0,860.9 810.9,860.8 812.9,860.8 814.9,860.8 817.0,860.9 819.3,861.1 821.8,861.5 823.5,861.9 825.4,862.4 827.3,863.0 829.3,863.7 831.4,864.4 833.5,865.1 835.7,865.9 837.8,866.6 839.9,867.3 842.1,868.0 844.1,868.6 846.1,869.2 848.1,869.6 849.9,869.9 852.2,870.1 854.3,870.2 856.1,870.1 857.9,869.9 859.6,869.7 861.5,869.3 863.5,869.0 865.8,868.7 868.5,868.5 871.7,868.3 873.3,868.3 875.0,868.2 876.8,868.2 878.8,868.1 880.8,868.1 883.0,868.0 885.2,868.0 887.5,867.9 889.8,867.9 892.1,867.8 894.5,867.8 896.9,867.7 899.2,867.7 901.5,867.7 903.8,867.7 906.0,867.6 908.1,867.6 910.1,867.6 912.1,867.6 913.9,867.6 915.6,867.6 917.1,867.7 918.5,867.7 922.4,867.8 924.7,868.0 926.0,868.3 927.1,868.6 928.5,869.2 931.0,869.9 932.6,870.4 934.3,871.0 936.2,871.7 938.2,872.4 940.3,873.3 942.5,874.1 944.7,874.9 947.0,875.7 949.2,876.4 951.4,877.0 953.5,877.5 955.6,877.8 957.6,878.0 959.6,878.0 961.6,877.8 963.5,877.4 965.4,877.0 967.2,876.4 969.0,875.8 970.9,875.1 972.8,874.3 974.7,873.6 976.7,872.8 978.8,872.1 981.0,871.5 982.8,871.0 984.7,870.5 986.8,870.0 988.9,869.4 991.2,868.8 993.4,868.3 995.7,867.7 998.0,867.1 1000.2,866.5 1002.3,866.0 1004.3,865.5 1006.3,865.0 1008.0,864.5 1009.6,864.1 1010.9,863.8 1012.0,863.5" fill="none" stroke="#1f77b4" stroke-width="3.8" stroke-linejoin="round" stroke-linecap="round"/>
<polyline points="276.8,1023.6 687.5,767.0" fill="none" stroke="#ff7f0e" stroke-width="3.8" stroke-linejoin="round" stroke-linecap="butt" stroke-dasharray="13.8 5.75"/>
<polyline points="277.0,1035.8 687.5,810.5" fill="none" stroke="#2ca02c" stroke-width="3.8" stroke-linejoin="round" stroke-linecap="butt" stroke-dasharray="13.8 5.75"/>
<polyline points="130.8,1336.0 130.9,1337.6 131.0,1339.2 131.1,1340.8 131.2,1342.4 131.3,1344.0 131.4,1345.6 131.5,1347.2 131.6,1348.8 131.7,1350.4 131.8,1352.0 131.9,1353.6 132.0,1355.2 132.1,1356.8 132.2,1358.4 132.3,1360.0 132.5,1358.4 132.6,1356.8 132.8,1355.2 133.0,1353.6 133.1,1352.0 133.3,1350.4 133.4,1348.8 133.6,1347.2 133.8,1345.6 133.9,1344.0 134.1,1342.4 134.2,1340.8 134.4,1339.3 134.6,1337.7 134.7,1336.1 134.9,1334.5 135.0,1332.9 135.2,1331.3 135.3,1329.7 135.5,1328.1 135.7,1326.5 135.8,1324.9 136.0,1323.3 136.1,1321.7 136.3,1320.1 136.5,1318.6 136.6,1317.0 136.8,1315.4 136.9,1313.8 137.1,1312.2 137.2,1310.6 137.4,1309.0 137.6,1307.4 137.7,1305.8 137.9,1304.2 138.0,1302.6 138.2,1301.0 138.3,1299.4 138.5,1297.9 138.6,1296.3 138.7,1294.7 138.9,1293.1 139.0,1291.5 139.1,1289.9 139.2,1288.3 139.4,1286.7 139.5,1285.1 139.6,1283.5 139.8,1281.9 139.9,1280.3 140.0,1278.7 140.2,1277.1 140.3,1275.5 140.4,1273.9 140.6,1272.3 140.7,1270.7 140.8,1269.1 140.9,1267.6 141.1,1266.0 141.2,1264.4 141.3,1262.8 141.5,1261.2 141.6,1259.6 141.7,1258.0 141.9,1256.4 142.0,1254.8 142.1,1253.2 142.3,1251.6 142.4,1250.0 142.5,1248.4 142.6,1246.8 142.8,1245.2 142.9,1243.6 143.0,1242.0 143.2,1240.4 143.3,1238.9 143.4,1237.3 143.6,1235.7 143.7,1234.1 143.8,1232.5 144.0,1230.9 144.1,1229.3 144.2,1227.7 144.4,1226.1 144.5,1224.5 144.6,1222.9 144.7,1221.3 144.9,1219.7 145.0,1218.1 145.1,1216.5 145.3,1214.9 145.4,1213.3 145.5,1211.7 145.7,1210.1 145.8,1208.6 145.9,1207.0 146.1,1205.4 146.2,1203.8 146.3,1202.2 146.4,1200.6 146.6,1199.0 146.7,1197.4 146.8,1195.8 147.0,1194.2 147.1,1192.6 147.2,1191.0 147.4,1189.4 147.5,1187.8 147.6,1186.2 147.8,1184.6 147.9,1183.0 148.0,1181.4 148.2,1179.9 148.3,1178.3 148.4,1176.7 148.5,1175.1 148.7,1173.5 148.8,1171.9 148.9,1170.3 149.1,1168.7 149.2,1167.1 149.3,1165.5 149.5,1163.9 149.6,1162.3 149.7,1160.7 149.9,1159.1 150.0,1157.5 150.1,1155.9 150.2,1154.3 150.4,1152.7 150.5,1151.1 150.6,1149.6 150.8,1148.0 150.9,1146.4 151.0,1144.8 151.2,1143.2 151.3,1141.6 151.4,1140.0 151.6,1138.4 151.7,1136.8 151.8,1135.2 152.0,1133.6 152.1,1132.0 152.2,1130.4 152.3,1128.8 152.5,1127.2 152.6,1125.6 152.7,1124.0 152.9,1122.4 153.0,1120.8 153.1,1119.3 153.3,1117.7 153.4,1116.1 153.5,1114.5 153.7,1112.9 153.8,1111.3 153.9,1109.7 154.0,1108.1 154.2,1106.5 155.0,1105.1 156.2,1104.1 157.4,1103.0 158.7,1102.1 160.0,1101.2 161.3,1100.3 162.6,1099.3 163.9,1098.4 165.2,1097.4 166.8,1097.3 167.6,1095.9 168.4,1094.6 169.0,1093.0 169.3,1091.5 169.5,1089.9 169.7,1088.3 169.9,1086.7 170.1,1085.1 170.3,1083.5 170.5,1082.0 170.7,1080.4 170.9,1078.8 171.1,1077.2 171.2,1075.6 171.4,1074.0 171.6,1072.4 171.7,1070.8 171.9,1069.2 172.1,1067.6 172.3,1066.1 172.5,1064.5 172.6,1062.9 172.8,1061.3 173.1,1059.7 173.3,1058.1 173.5,1056.5 173.7,1054.9 174.0,1053.4 174.2,1051.8 174.7,1050.3 175.9,1049.2 177.1,1048.1 178.6,1047.6 180.1,1047.0 181.6,1046.6 183.1,1046.1 184.4,1045.1 185.6,1044.1 186.7,1042.9 187.8,1041.8 188.9,1040.6 189.9,1039.3 190.5,1037.9 191.2,1036.4 191.6,1034.9 191.9,1033.3 192.1,1031.7 192.4,1030.1 192.6,1028.5 192.9,1027.0 193.1,1025.4 193.3,1023.8 193.5,1022.2 193.7,1020.6 193.9,1019.0 194.0,1017.4 194.2,1015.8 194.4,1014.3 194.9,1012.7 196.2,1013.7 197.4,1014.7 198.4,1015.9 199.4,1017.2 200.3,1018.5 201.2,1019.9 202.0,1021.3 202.7,1022.7 203.4,1024.1 204.1,1025.6 204.7,1027.0 205.2,1028.5 205.8,1030.1 206.3,1031.6 206.8,1033.1 207.3,1034.6 207.9,1036.1 208.4,1037.6 208.8,1039.1 209.3,1040.7 209.8,1042.2 210.3,1043.7 210.8,1045.2 211.3,1046.7 212.1,1048.2 212.8,1049.6 213.8,1050.9 214.8,1052.0 215.9,1053.2 217.0,1054.4 218.4,1055.3 219.7,1056.1 221.2,1056.8 222.7,1058.2 224.3,1058.5 225.8,1058.6 227.4,1057.8 229.0,1057.8 230.6,1057.2 232.2,1058.2 233.8,1058.0 235.4,1057.6 237.0,1059.6 238.6,1059.3 240.2,1059.1 241.8,1057.7 243.4,1057.2 245.0,1057.9 246.6,1057.0 248.2,1057.7 249.8,1058.3 251.4,1057.5 253.0,1057.5 254.6,1057.5 256.2,1058.7 257.8,1056.6 259.4,1058.6 261.0,1058.1 262.6,1057.9 264.2,1058.2 265.8,1056.4 267.4,1058.6 269.0,1057.1 270.6,1057.3 272.2,1057.6 273.8,1058.6 275.4,1056.8 277.0,1057.5 278.6,1058.7 280.2,1056.6 281.8,1057.7 283.4,1056.5 285.0,1057.5 286.6,1057.1 288.2,1057.4 289.8,1056.0 291.4,1056.4 293.0,1058.2 294.6,1056.3 296.2,1056.6 297.8,1058.3 299.4,1056.4 301.0,1057.2 302.6,1056.8 304.2,1055.6 305.8,1057.3 307.4,1056.9 309.0,1058.0 310.6,1058.0 312.2,1055.7 313.8,1057.0 315.4,1056.3 317.0,1055.7 318.6,1057.8 320.2,1055.6 321.8,1056.6 323.4,1055.9 325.0,1056.8 326.6,1055.8 328.2,1057.4 329.8,1056.3 331.4,1055.7 333.0,1057.2 334.6,1055.4 336.2,1057.0 337.8,1055.7 339.4,1057.2 341.0,1055.6 342.6,1056.6 344.2,1056.6 345.8,1056.1 347.4,1057.0 349.0,1056.1 350.6,1055.3 352.2,1056.0 353.8,1056.4 355.4,1055.6 357.0,1055.8 358.6,1054.6 360.2,1055.0 361.8,1056.3 363.4,1055.1 365.0,1054.6 366.6,1056.1 368.2,1054.1 369.8,1054.0 371.4,1054.0 373.0,1054.3 374.6,1053.8 376.2,1054.4 377.8,1054.3 379.4,1055.9 381.0,1054.1 382.6,1054.9 384.2,1054.1 385.8,1055.1 387.4,1053.4 388.9,1054.0 390.5,1053.4 392.1,1053.7 393.7,1053.6 395.3,1054.0 396.9,1055.2 398.5,1052.8 400.1,1053.3 401.7,1054.2 403.3,1054.8 404.9,1053.6 406.5,1053.6 408.1,1053.5 409.7,1053.7 411.3,1054.1 412.9,1054.8 414.5,1052.8 416.1,1053.3 417.7,1053.5 419.3,1054.5 420.9,1054.9 422.5,1053.2 424.1,1053.0 425.7,1053.3 427.3,1054.1 428.9,1054.7 430.5,1055.4 432.1,1053.8 433.7,1053.8 435.3,1054.9 436.9,1054.5 438.5,1054.6 440.1,1052.8 441.7,1053.7 443.3,1053.8 444.8,1052.1 446.4,1051.8 448.0,1053.3 449.6,1051.1 451.1,1051.1 452.7,1050.2 454.3,1051.9 455.8,1050.9 457.4,1049.6 459.0,1049.7 460.5,1049.4 462.1,1048.0 463.7,1049.5 465.2,1047.4 466.8,1047.9 468.3,1048.5 469.9,1046.9 471.5,1047.9 473.0,1047.9 474.6,1047.1 476.2,1046.0 477.8,1047.1 479.3,1045.2 480.9,1046.7 482.5,1045.3 484.1,1044.9 485.6,1045.5 487.2,1043.2 488.8,1043.4 490.3,1044.3 491.9,1042.2 493.5,1044.1 495.1,1042.6 496.6,1042.4 498.2,1043.5 499.8,1040.8 501.4,1040.4 502.9,1041.5 504.5,1041.4 506.1,1041.7 507.7,1039.7 509.2,1041.2 510.8,1040.4 512.4,1040.0 514.0,1038.3 515.6,1040.1 517.2,1038.3 518.7,1039.3 520.3,1040.0 521.9,1037.3 523.5,1038.3 525.1,1039.6 526.7,1038.1 528.3,1040.0 529.8,1040.4 531.2,1040.8 532.7,1042.1 534.2,1041.9 535.8,1040.4 537.4,1042.2 539.0,1041.7 540.6,1040.4 542.1,1039.2 543.6,1039.2 545.2,1039.4 546.7,1038.1 548.2,1039.5 549.7,1036.9 551.2,1036.7 552.8,1035.8 554.3,1037.0 555.8,1036.8 557.4,1034.9 559.0,1035.0 560.5,1035.9 562.1,1034.9 563.7,1033.7 565.3,1035.5 566.9,1034.8 568.5,1033.4 570.1,1033.7 571.7,1033.7 573.3,1034.0 574.8,1033.4 576.4,1032.6 578.0,1033.0 579.6,1032.4 581.2,1033.3 582.8,1033.6 584.4,1033.5 586.0,1032.1 587.6,1033.4 589.2,1033.9 590.8,1033.4 592.4,1032.7 594.0,1033.9 595.6,1032.9 597.2,1033.9 598.8,1031.8 600.4,1032.0 602.0,1033.0 603.6,1032.0 605.2,1032.3 606.8,1034.2 608.4,1033.8 610.0,1032.5 611.6,1032.0 613.2,1033.6 614.8,1033.5 616.4,1032.1 618.0,1033.1 619.6,1033.3 621.2,1031.8 622.8,1031.8 624.4,1031.5 626.0,1033.5 627.6,1032.0 629.2,1032.0 630.8,1031.2 632.4,1032.7 634.0,1031.5 635.6,1032.2 637.2,1031.6 638.8,1031.4 640.4,1030.5 642.0,1031.0 643.6,1032.4 645.2,1032.3 646.8,1032.0 648.3,1031.6 649.9,1031.2 651.5,1030.5 653.1,1030.1 654.6,1030.2 656.2,1030.5 657.8,1029.2 659.3,1028.8 660.9,1028.8 662.5,1028.8 664.0,1027.6 665.6,1025.8 667.1,1026.9 668.6,1025.8 670.2,1024.9 671.7,1024.2 673.3,1025.1 674.8,1025.7 676.4,1024.3 677.9,1024.6 679.5,1022.5 681.0,1022.5 682.6,1023.8 684.1,1022.8 685.7,1022.6 687.3,1021.2 688.9,1022.0 690.5,1020.9 692.1,1020.4 693.7,1020.2 695.3,1020.1 696.8,1019.6 698.4,1020.2 700.0,1021.1 701.6,1020.0 703.1,1019.2 704.7,1019.5 706.2,1019.8 707.8,1017.7 709.3,1019.0 710.9,1018.7 712.4,1016.7 713.9,1015.5 715.5,1016.7 717.0,1016.9 718.6,1015.1 720.2,1014.6 721.7,1014.1 723.3,1013.4 724.9,1014.7 726.5,1013.8 728.1,1015.5 729.7,1014.4 731.2,1014.0 732.7,1015.9 734.1,1017.6 735.4,1016.4 736.6,1019.6 737.7,1019.9 738.7,1021.5 739.6,1023.2 740.5,1023.5 741.4,1024.8 742.2,1025.2 743.0,1027.3 743.8,1029.0 744.6,1029.7 745.4,1031.5 746.2,1032.7 747.0,1035.3 747.9,1035.4 748.7,1038.2 749.6,1037.7 750.6,1040.1 751.6,1041.0 752.6,1041.7 753.7,1044.1 754.8,1045.8 755.9,1044.7 757.1,1047.5 758.3,1046.6 759.6,1048.4 760.8,1051.0 762.0,1052.0 763.3,1052.9 764.5,1052.5 765.8,1054.5 767.0,1056.1 768.2,1054.8 769.4,1057.9 770.6,1058.7 771.8,1060.3 773.0,1060.1 774.2,1061.6 775.4,1063.0 776.6,1063.4 777.8,1065.0 779.0,1064.8 780.2,1065.4 781.3,1066.9 782.5,1070.0 783.6,1069.7 784.7,1072.1 785.8,1073.5 786.9,1074.5 788.0,1074.7 789.1,1075.1 790.3,1077.1 791.6,1078.5 792.9,1079.2 794.4,1078.1 795.9,1078.7 797.4,1079.1 799.0,1079.9 800.6,1080.5 802.2,1080.5 803.8,1081.6 805.3,1081.8 806.9,1080.7 808.5,1081.1 810.1,1082.8 811.7,1082.6 813.2,1081.3 814.8,1082.4 816.3,1084.1 817.9,1083.7 819.4,1083.2 821.0,1084.2 822.5,1085.2 824.1,1084.3 825.7,1084.7 827.3,1086.6 828.8,1085.6 830.4,1085.8 832.0,1087.4 833.6,1087.5 835.2,1085.7 836.8,1084.9 838.4,1085.2 840.0,1087.2 841.6,1086.2 843.2,1084.8 844.8,1086.3 846.3,1086.0 847.9,1085.2 849.5,1083.1 851.1,1084.1 852.6,1083.0 854.2,1082.8 855.7,1082.8 857.3,1082.4 858.9,1083.4 860.4,1081.7 862.0,1080.8 863.5,1080.4 865.1,1080.7 866.5,1079.6 868.0,1080.4 869.5,1079.3 871.0,1079.1 872.6,1077.4 874.2,1078.1 875.8,1078.2 877.4,1076.3 878.9,1076.9 880.5,1077.4 882.1,1075.9 883.7,1077.8 885.3,1075.6 886.9,1075.2 888.5,1076.5 890.0,1077.1 891.6,1076.3 893.2,1075.5 894.8,1074.8 896.4,1074.3 898.0,1073.8 899.6,1074.0 901.2,1074.9 902.8,1073.7 904.4,1075.5 906.0,1073.2 907.5,1073.2 909.1,1073.5 910.7,1074.8 912.3,1073.1 913.9,1072.6 915.5,1073.9 917.1,1072.1 918.7,1073.1 920.3,1072.3 921.9,1074.3 923.5,1073.0 925.1,1073.3 926.7,1074.7 928.3,1074.2 929.8,1075.4 931.4,1074.3 933.0,1075.7 934.5,1074.9 936.1,1074.6 937.7,1076.5 939.3,1075.7 940.9,1074.6 942.5,1075.8 944.1,1076.2 945.7,1074.9 947.3,1075.9 948.9,1075.9 950.5,1075.3 952.1,1076.7 953.7,1076.2 955.3,1076.5 956.9,1076.4 958.5,1076.7 960.1,1077.1 961.7,1076.3 963.3,1077.6 964.9,1077.4 966.5,1076.2 968.1,1075.3 969.7,1076.2 971.3,1075.9 972.9,1077.1 974.5,1075.5 976.1,1074.8 977.7,1075.0 979.3,1076.7 980.9,1074.6 982.5,1076.6 984.1,1075.2 985.7,1075.4 987.3,1075.8 988.9,1076.0 990.5,1073.9 992.1,1075.0 993.6,1073.8 995.2,1075.7 996.8,1075.1 998.4,1073.6 1000.0,1073.7 1001.6,1075.2 1003.2,1075.0 1004.8,1074.4 1006.4,1072.4 1008.0,1072.7 1009.6,1073.6 1011.2,1072.4 1012.0,1073.1" fill="none" stroke="#d62728" stroke-width="3.8" stroke-linejoin="round" stroke-linecap="round"/>
<polyline points="130.2,1334.2 159.5,925.0" fill="none" stroke="#9467bd" stroke-width="3.8" stroke-linejoin="round" stroke-linecap="butt" stroke-dasharray="13.8 5.75"/>
</g>
<rect x="130.2" y="735.7" width="880.5999999999999" height="656.3" fill="none" stroke="#000" stroke-width="2.0" stroke-linejoin="miter"/>
<path d="M130.20,1392.0 v7.9 M276.95,1392.0 v7.9 M423.70,1392.0 v7.9 M570.45,1392.0 v7.9 M717.20,1392.0 v7.9 M863.95,1392.0 v7.9 M1010.70,1392.0 v7.9 M130.2,814.60 h-7.9 M130.2,901.20 h-7.9 M130.2,987.80 h-7.9 M130.2,1074.40 h-7.9 M130.2,1161.00 h-7.9 M130.2,1247.60 h-7.9 M130.2,1334.20 h-7.9" stroke="#000" stroke-width="2.0" fill="none"/>
<text transform="translate(122.62,1430.10) scale(1,1.06)" font-size="30.30">0</text>
<text transform="translate(269.38,1430.10) scale(1,1.06)" font-size="30.30">5</text>
<text transform="translate(408.55,1430.10) scale(1,1.06)" font-size="30.30">10</text>
<text transform="translate(555.30,1430.10) scale(1,1.06)" font-size="30.30">15</text>
<text transform="translate(702.05,1430.10) scale(1,1.06)" font-size="30.30">20</text>
<text transform="translate(848.80,1430.10) scale(1,1.06)" font-size="30.30">25</text>
<text transform="translate(995.55,1430.10) scale(1,1.06)" font-size="30.30">30</text>
<text x="101.20" y="813.90" font-size="22.20">2</text><text transform="translate(72.35,825.00) scale(1,1.06)" font-size="30.30">10</text>
<text x="101.20" y="900.50" font-size="22.20">0</text><text transform="translate(72.35,911.60) scale(1,1.06)" font-size="30.30">10</text>
<text x="101.20" y="987.10" font-size="22.20">2</text><rect x="86.20" y="980.80" width="13.8" height="1.5"/><text transform="translate(55.00,998.20) scale(1,1.06)" font-size="30.30">10</text>
<text x="101.20" y="1073.70" font-size="22.20">4</text><rect x="86.20" y="1067.40" width="13.8" height="1.5"/><text transform="translate(55.00,1084.80) scale(1,1.06)" font-size="30.30">10</text>
<text x="101.20" y="1160.30" font-size="22.20">6</text><rect x="86.20" y="1154.00" width="13.8" height="1.5"/><text transform="translate(55.00,1171.40) scale(1,1.06)" font-size="30.30">10</text>
<text x="101.20" y="1246.90" font-size="22.20">8</text><rect x="86.20" y="1240.60" width="13.8" height="1.5"/><text transform="translate(55.00,1258.00) scale(1,1.06)" font-size="30.30">10</text>
<text x="90.10" y="1333.50" font-size="22.20">10</text><rect x="75.10" y="1327.20" width="13.8" height="1.5"/><text transform="translate(43.90,1344.60) scale(1,1.06)" font-size="30.30">10</text>
<text x="565.87" y="1466.26" font-size="30.30" font-style="italic">t</text>
<g transform="translate(26.0,1102.7) rotate(-90)"><text x="0.00" y="0.00" font-size="30.30">ϕ</text><text x="18.50" y="-11.50" font-size="22.20">2</text><text x="40.70" y="0.00" font-size="30.30" font-style="italic">k</text><text x="55.20" y="3.60" font-size="20.30" font-style="italic">y</text></g><path d="M3.1,1063.20 Q18.1,1075.40 33.1,1063.20 M3.1,1036.60 Q18.1,1023.80 33.1,1036.60" fill="none" stroke="#000" stroke-width="1.5"/>
<rect x="317.4" y="1118.0" width="371.4" height="229.79999999999995" rx="5.5" ry="5.5" fill="#fff" fill-opacity="0.8" stroke="#cccccc" stroke-opacity="0.8" stroke-width="2.0"/>
<path d="M329,1140.00 H388.2" stroke="#1f77b4" stroke-width="3.8" stroke-linecap="square" fill="none"/>
<path d="M329.1,1186.40 H388.9" stroke="#ff7f0e" stroke-width="3.8" stroke-dasharray="13.8 5.75" fill="none"/>
<path d="M329.1,1229.80 H388.9" stroke="#2ca02c" stroke-width="3.8" stroke-dasharray="13.8 5.75" fill="none"/>
<path d="M329,1272.40 H388.2" stroke="#d62728" stroke-width="3.8" stroke-linecap="square" fill="none"/>
<path d="M329.1,1318.90 H388.9" stroke="#9467bd" stroke-width="3.8" stroke-dasharray="13.8 5.75" fill="none"/>
<text x="411.63" y="1150.50" font-size="30.00" font-style="italic">k</text><text x="426.54" y="1154.00" font-size="21.00" font-style="italic">y</text><text x="433.78" y="1150.50" font-size="30.00">ρ</text><text x="451.03" y="1154.00" font-size="21.00" font-style="italic">H</text><path d="M476.80,1140.20 H496.60 M476.80,1145.80 H496.60" stroke="#000" stroke-width="1.5" fill="none"/><text x="504.36" y="1150.50" font-size="30.00">0.4,ITG+ETG</text>
<text transform="translate(412.06,1197.00) scale(1,1.04)" font-size="30.00">10</text><rect x="443.40" y="1179.85" width="13.30" height="1.5"/><text x="458.00" y="1186.20" font-size="21.80">5</text><text x="469.20" y="1197.00" font-size="30.00" font-style="italic">e</text><text x="482.52" y="1185.80" font-size="21.80">2</text><text x="493.92" y="1191.40" font-size="21.80">*</text><text x="503.89" y="1185.80" font-size="21.80">0.49</text><text x="542.04" y="1185.80" font-size="21.80" font-style="italic">t</text><text x="551.30" y="1197.00" font-size="30.00">,lin</text>
<text transform="translate(412.06,1240.20) scale(1,1.04)" font-size="30.00">10</text><rect x="443.40" y="1223.05" width="13.30" height="1.5"/><text x="458.00" y="1229.40" font-size="21.80">5</text><text x="469.20" y="1240.20" font-size="30.00" font-style="italic">e</text><text x="482.52" y="1229.00" font-size="21.80">2</text><text x="493.92" y="1234.60" font-size="21.80">*</text><text x="503.89" y="1229.00" font-size="21.80">0.43</text><text x="543.09" y="1240.20" font-size="30.00">,ITG+ETG</text>
<text x="411.63" y="1283.00" font-size="30.00" font-style="italic">k</text><text x="426.54" y="1286.50" font-size="21.00" font-style="italic">y</text><text x="433.78" y="1283.00" font-size="30.00">ρ</text><text x="451.03" y="1286.50" font-size="21.00" font-style="italic">H</text><path d="M476.80,1272.70 H496.60 M476.80,1278.30 H496.60" stroke="#000" stroke-width="1.5" fill="none"/><text x="504.36" y="1283.00" font-size="30.00">14,ITG+ETG</text>
<text transform="translate(412.16,1329.60) scale(1,1.04)" font-size="30.00">10</text><rect x="443.50" y="1312.45" width="13.30" height="1.5"/><text x="458.10" y="1318.80" font-size="21.80">10</text><text x="480.20" y="1329.60" font-size="30.00" font-style="italic">e</text><text x="493.52" y="1318.40" font-size="21.80">2</text><text x="504.92" y="1324.00" font-size="21.80">*</text><text x="514.89" y="1318.40" font-size="21.80">10.88</text><text x="563.94" y="1318.40" font-size="21.80" font-style="italic">t</text><text x="573.20" y="1329.60" font-size="30.00">,lin</text>
</svg></body></html>
